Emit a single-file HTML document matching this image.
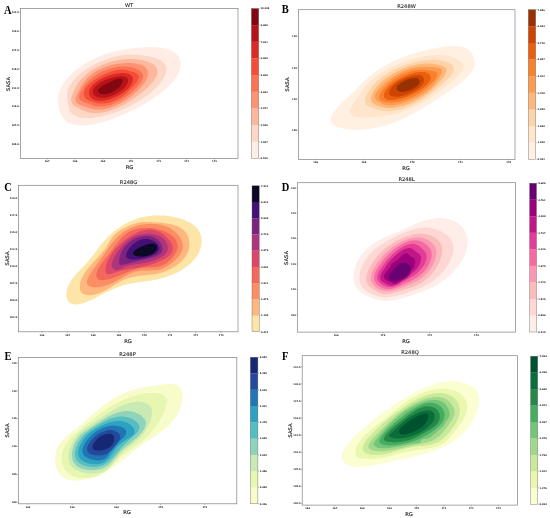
<!DOCTYPE html>
<html lang="en"><head><meta charset="utf-8"><title>SASA vs RG density</title>
<style>html,body{margin:0;padding:0;background:#fff}svg{display:block}text{font-family:"DejaVu Sans","Liberation Sans",sans-serif;fill:#222}.pl{font-family:"Liberation Serif","DejaVu Serif",serif;font-weight:bold;font-size:12.5px;fill:#000}.tt{font-size:5.15px;text-anchor:middle;stroke:#222;stroke-width:0.1px}.al{font-size:5.2px;text-anchor:middle;stroke:#222;stroke-width:0.16px}.tk{font-size:2.3px;fill:#111;font-weight:bold}.tx{text-anchor:middle}.ty{text-anchor:end}</style></head><body>
<svg width="550" height="518" viewBox="0 0 550 518">
<rect width="550" height="518" fill="#fff"/>
<g>
<path d="M61.6 86.5L62.3 85.2L63.0 84.0L63.8 82.8L64.6 81.7L65.4 80.6L66.2 79.5L67.1 78.5L67.9 77.5L68.8 76.5L69.7 75.6L70.6 74.7L71.4 73.8L72.3 73.0L73.2 72.2L74.1 71.4L75.0 70.7L75.8 70.0L76.7 69.3L77.6 68.7L78.4 68.0L79.3 67.4L80.1 66.8L80.9 66.2L81.8 65.7L82.6 65.2L83.4 64.6L84.2 64.1L85.0 63.6L85.8 63.2L86.6 62.7L87.4 62.3L88.2 61.8L88.9 61.4L89.7 61.0L90.5 60.6L91.3 60.2L92.0 59.8L92.8 59.4L93.6 59.1L94.3 58.7L95.1 58.3L95.9 58.0L96.6 57.7L97.4 57.3L98.2 57.0L98.9 56.7L99.7 56.4L100.5 56.0L101.3 55.7L102.1 55.4L102.9 55.1L103.7 54.8L104.5 54.5L105.3 54.3L106.1 54.0L106.9 53.7L107.8 53.4L108.6 53.2L109.5 52.9L110.4 52.6L111.3 52.4L112.2 52.2L113.1 51.9L114.0 51.6L115.0 51.4L116.0 51.2L117.0 50.9L118.0 50.7L119.0 50.5L120.1 50.3L121.2 50.0L122.3 49.8L123.4 49.6L124.6 49.4L125.8 49.2L127.1 49.0L128.3 48.8L129.7 48.6L131.0 48.5L132.4 48.3L133.9 48.1L135.4 48.0L137.0 47.8L138.6 47.7L140.3 47.5L142.0 47.4L143.8 47.3L145.7 47.2L147.7 47.2L149.7 47.1L151.8 47.1L154.0 47.2L156.3 47.3L158.6 47.5L160.9 47.7L163.2 48.1L165.5 48.6L167.7 49.2L169.9 50.0L171.9 50.9L173.8 52.0L175.5 53.3L177.0 54.7L178.2 56.3L179.2 58.0L180.0 59.8L180.4 61.7L180.7 63.6L180.6 65.7L180.3 67.7L179.8 69.8L179.0 71.9L178.1 73.9L177.0 75.9L175.8 77.9L174.4 79.7L173.0 81.6L171.5 83.3L170.0 84.9L168.4 86.5L166.9 88.0L165.3 89.4L163.7 90.7L162.2 91.9L160.7 93.1L159.3 94.2L157.8 95.3L156.4 96.3L155.1 97.2L153.8 98.1L152.5 99.0L151.3 99.8L150.0 100.5L148.9 101.3L147.7 101.9L146.6 102.6L145.6 103.3L144.5 103.9L143.5 104.5L142.5 105.0L141.5 105.5L140.6 106.1L139.6 106.6L138.7 107.1L137.8 107.5L137.0 108.0L136.1 108.4L135.3 108.9L134.4 109.3L133.6 109.7L132.8 110.1L132.0 110.5L131.2 110.9L130.5 111.3L129.7 111.6L128.9 112.0L128.2 112.4L127.4 112.7L126.7 113.0L125.9 113.4L125.2 113.7L124.4 114.1L123.7 114.4L122.9 114.7L122.2 115.0L121.5 115.3L120.7 115.6L120.0 116.0L119.2 116.3L118.5 116.6L117.7 116.9L116.9 117.2L116.1 117.5L115.3 117.8L114.6 118.1L113.7 118.4L112.9 118.7L112.1 119.0L111.2 119.3L110.4 119.6L109.5 120.0L108.6 120.3L107.7 120.5L106.8 120.9L105.8 121.2L104.8 121.5L103.8 121.8L102.8 122.1L101.8 122.4L100.7 122.7L99.6 123.0L98.4 123.2L97.3 123.5L96.1 123.8L94.8 124.1L93.5 124.3L92.2 124.5L90.9 124.8L89.5 125.0L88.1 125.1L86.6 125.3L85.1 125.4L83.6 125.5L82.0 125.5L80.5 125.5L78.9 125.4L77.3 125.3L75.7 125.0L74.1 124.7L72.6 124.3L71.0 123.8L69.6 123.2L68.2 122.5L66.9 121.7L65.7 120.7L64.7 119.7L63.7 118.6L62.8 117.4L62.0 116.1L61.3 114.8L60.7 113.4L60.2 112.1L59.7 110.6L59.3 109.2L59.0 107.8L58.7 106.3L58.4 104.9L58.3 103.4L58.1 102.0L58.1 100.5L58.2 99.0L58.3 97.6L58.5 96.1L58.7 94.7L59.0 93.2L59.4 91.8L59.9 90.5L60.4 89.1L61.0 87.8Z" fill="#ffece4"/>
<path d="M69.3 86.5L69.9 85.4L70.5 84.4L71.1 83.4L71.8 82.4L72.5 81.5L73.2 80.6L74.0 79.7L74.7 78.9L75.5 78.1L76.2 77.3L77.0 76.6L77.7 75.9L78.5 75.2L79.2 74.5L80.0 73.9L80.7 73.3L81.5 72.7L82.2 72.1L82.9 71.6L83.6 71.0L84.4 70.5L85.1 70.0L85.7 69.5L86.5 69.1L87.1 68.6L87.8 68.2L88.5 67.8L89.2 67.4L89.8 67.0L90.5 66.6L91.1 66.2L91.8 65.8L92.4 65.5L93.1 65.1L93.7 64.8L94.4 64.4L95.0 64.1L95.6 63.8L96.3 63.5L96.9 63.2L97.6 62.9L98.2 62.6L98.8 62.3L99.5 62.0L100.1 61.7L100.8 61.4L101.4 61.2L102.1 60.9L102.7 60.6L103.4 60.4L104.1 60.1L104.7 59.9L105.4 59.6L106.1 59.4L106.8 59.1L107.5 58.9L108.2 58.6L108.9 58.4L109.6 58.2L110.4 57.9L111.1 57.7L111.9 57.5L112.7 57.3L113.5 57.1L114.3 56.9L115.1 56.7L115.9 56.5L116.8 56.3L117.7 56.1L118.6 55.9L119.5 55.8L120.4 55.6L121.4 55.5L122.4 55.3L123.4 55.2L124.4 55.1L125.4 54.9L126.5 54.8L127.6 54.8L128.7 54.7L129.9 54.7L131.1 54.6L132.3 54.6L133.5 54.6L134.8 54.7L136.1 54.7L137.4 54.8L138.8 54.9L140.2 55.1L141.6 55.2L143.1 55.4L144.6 55.7L146.2 55.9L147.8 56.2L149.4 56.5L151.1 56.9L152.8 57.3L154.5 57.8L156.2 58.4L157.9 59.0L159.6 59.8L161.1 60.6L162.5 61.6L163.7 62.7L164.7 64.0L165.5 65.3L166.0 66.8L166.3 68.3L166.3 69.9L166.1 71.5L165.7 73.2L165.2 74.8L164.4 76.5L163.6 78.1L162.7 79.6L161.7 81.1L160.6 82.5L159.5 83.9L158.3 85.2L157.2 86.5L156.0 87.7L154.9 88.8L153.7 89.9L152.6 90.9L151.5 91.9L150.4 92.8L149.3 93.7L148.2 94.5L147.2 95.3L146.2 96.1L145.2 96.8L144.2 97.5L143.3 98.1L142.4 98.8L141.5 99.3L140.6 99.9L139.7 100.5L138.9 101.0L138.1 101.5L137.3 102.0L136.5 102.5L135.7 102.9L134.9 103.4L134.2 103.8L133.5 104.2L132.7 104.6L132.0 104.9L131.3 105.3L130.6 105.7L129.9 106.0L129.3 106.4L128.6 106.7L127.9 107.0L127.3 107.4L126.6 107.6L126.0 108.0L125.4 108.3L124.7 108.6L124.1 108.8L123.4 109.1L122.8 109.4L122.2 109.7L121.6 109.9L120.9 110.2L120.3 110.5L119.7 110.7L119.1 111.0L118.4 111.2L117.8 111.5L117.1 111.7L116.5 111.9L115.8 112.2L115.2 112.4L114.5 112.7L113.9 112.9L113.2 113.1L112.5 113.3L111.8 113.6L111.1 113.8L110.4 114.0L109.7 114.3L108.9 114.5L108.2 114.7L107.4 114.9L106.6 115.1L105.8 115.3L105.0 115.6L104.2 115.8L103.3 116.0L102.4 116.2L101.5 116.4L100.6 116.6L99.7 116.8L98.7 116.9L97.7 117.1L96.7 117.3L95.6 117.4L94.5 117.6L93.4 117.7L92.3 117.9L91.1 117.9L89.9 118.0L88.7 118.1L87.4 118.1L86.1 118.1L84.8 118.1L83.5 118.0L82.2 117.8L80.8 117.6L79.5 117.4L78.2 117.0L76.9 116.6L75.7 116.1L74.5 115.5L73.4 114.8L72.4 114.0L71.6 113.2L70.8 112.2L70.1 111.2L69.6 110.0L69.1 108.9L68.8 107.7L68.5 106.5L68.2 105.3L68.0 104.0L67.8 102.8L67.6 101.6L67.4 100.4L67.3 99.2L67.2 98.1L67.1 96.9L67.0 95.7L67.1 94.5L67.2 93.3L67.4 92.1L67.6 91.0L67.9 89.8L68.3 88.7L68.8 87.6Z" fill="#fdd7c6"/>
<path d="M76.1 86.5L76.6 85.6L77.1 84.7L77.7 83.9L78.2 83.1L78.8 82.3L79.4 81.6L79.9 80.8L80.5 80.1L81.1 79.5L81.7 78.8L82.3 78.2L82.9 77.5L83.5 77.0L84.1 76.4L84.7 75.8L85.3 75.3L85.9 74.8L86.5 74.3L87.0 73.8L87.6 73.3L88.2 72.9L88.8 72.5L89.4 72.0L90.0 71.6L90.5 71.2L91.1 70.8L91.7 70.5L92.2 70.1L92.8 69.8L93.3 69.4L93.9 69.1L94.4 68.8L95.0 68.4L95.5 68.1L96.1 67.8L96.6 67.5L97.2 67.2L97.7 67.0L98.3 66.7L98.8 66.4L99.3 66.2L99.9 65.9L100.5 65.7L101.0 65.4L101.5 65.1L102.1 64.9L102.7 64.7L103.2 64.4L103.8 64.2L104.4 64.0L104.9 63.8L105.5 63.5L106.1 63.3L106.7 63.1L107.3 62.9L107.9 62.7L108.5 62.5L109.1 62.3L109.7 62.1L110.4 61.9L111.0 61.7L111.7 61.6L112.4 61.4L113.0 61.2L113.7 61.0L114.4 60.9L115.2 60.7L115.9 60.5L116.7 60.4L117.4 60.2L118.2 60.1L119.0 59.9L119.8 59.8L120.7 59.7L121.5 59.6L122.4 59.5L123.3 59.4L124.2 59.3L125.2 59.2L126.2 59.1L127.2 59.1L128.2 59.0L129.3 59.0L130.4 59.0L131.5 59.0L132.6 59.0L133.8 59.1L135.0 59.2L136.2 59.3L137.5 59.4L138.7 59.6L140.1 59.8L141.4 60.0L142.7 60.3L144.1 60.6L145.5 61.0L146.9 61.4L148.3 61.9L149.7 62.4L151.0 63.0L152.3 63.7L153.5 64.5L154.6 65.4L155.6 66.4L156.4 67.4L157.0 68.6L157.3 69.9L157.5 71.2L157.5 72.5L157.2 73.9L156.8 75.3L156.2 76.8L155.4 78.1L154.6 79.5L153.7 80.8L152.7 82.0L151.7 83.2L150.6 84.4L149.6 85.5L148.6 86.5L147.6 87.5L146.6 88.4L145.6 89.3L144.7 90.1L143.7 90.9L142.8 91.6L142.0 92.3L141.1 93.0L140.3 93.7L139.5 94.3L138.7 94.9L138.0 95.4L137.2 96.0L136.5 96.5L135.8 97.0L135.1 97.5L134.5 98.0L133.8 98.4L133.2 98.9L132.6 99.3L131.9 99.7L131.4 100.1L130.8 100.5L130.2 100.8L129.6 101.2L129.0 101.6L128.5 101.9L127.9 102.3L127.4 102.6L126.8 102.9L126.3 103.2L125.7 103.5L125.2 103.8L124.7 104.1L124.2 104.4L123.6 104.7L123.1 105.0L122.6 105.3L122.1 105.5L121.5 105.8L121.0 106.1L120.5 106.3L120.0 106.6L119.4 106.8L118.9 107.1L118.4 107.4L117.9 107.6L117.3 107.8L116.8 108.1L116.2 108.3L115.7 108.5L115.1 108.8L114.6 109.0L114.0 109.2L113.4 109.4L112.8 109.6L112.2 109.9L111.6 110.1L111.0 110.3L110.4 110.5L109.8 110.7L109.1 110.9L108.4 111.1L107.8 111.3L107.1 111.5L106.4 111.7L105.7 111.8L105.0 112.0L104.2 112.2L103.5 112.3L102.7 112.5L101.9 112.6L101.1 112.7L100.3 112.8L99.4 112.9L98.6 113.0L97.7 113.0L96.8 113.1L95.9 113.1L95.0 113.1L94.1 113.0L93.2 113.0L92.2 112.9L91.3 112.8L90.3 112.6L89.4 112.4L88.4 112.2L87.5 111.9L86.5 111.6L85.6 111.3L84.6 110.9L83.7 110.5L82.7 110.1L81.7 109.7L80.7 109.2L79.7 108.8L78.7 108.3L77.6 107.8L76.5 107.2L75.5 106.6L74.5 106.0L73.6 105.2L72.8 104.4L72.1 103.5L71.6 102.5L71.3 101.5L71.2 100.4L71.2 99.2L71.3 98.0L71.6 96.9L71.9 95.7L72.3 94.6L72.7 93.5L73.2 92.4L73.7 91.3L74.1 90.3L74.6 89.3L75.1 88.3L75.6 87.4Z" fill="#fcb79c"/>
<path d="M81.2 86.5L81.7 85.7L82.1 85.0L82.5 84.3L83.0 83.6L83.4 82.9L83.9 82.3L84.4 81.7L84.8 81.0L85.3 80.5L85.8 79.9L86.3 79.3L86.8 78.8L87.3 78.3L87.7 77.8L88.2 77.3L88.7 76.8L89.2 76.4L89.7 76.0L90.2 75.5L90.7 75.1L91.2 74.7L91.7 74.4L92.2 74.0L92.7 73.6L93.2 73.3L93.7 72.9L94.2 72.6L94.6 72.3L95.1 72.0L95.6 71.7L96.1 71.4L96.6 71.1L97.0 70.8L97.5 70.6L98.0 70.3L98.5 70.1L98.9 69.8L99.4 69.6L99.9 69.3L100.4 69.1L100.8 68.9L101.3 68.7L101.8 68.4L102.3 68.2L102.7 68.0L103.2 67.8L103.7 67.6L104.2 67.4L104.7 67.2L105.2 67.0L105.7 66.9L106.2 66.7L106.7 66.5L107.2 66.3L107.7 66.1L108.2 66.0L108.8 65.8L109.3 65.7L109.8 65.5L110.4 65.3L110.9 65.2L111.5 65.0L112.1 64.9L112.7 64.7L113.3 64.6L113.9 64.5L114.5 64.3L115.1 64.2L115.8 64.1L116.4 64.0L117.1 63.9L117.8 63.8L118.5 63.7L119.2 63.6L119.9 63.5L120.7 63.4L121.4 63.3L122.2 63.2L123.0 63.2L123.9 63.1L124.7 63.1L125.6 63.1L126.5 63.0L127.4 63.0L128.4 63.0L129.4 63.0L130.4 63.1L131.4 63.1L132.5 63.2L133.6 63.3L134.7 63.4L135.9 63.5L137.0 63.7L138.2 64.0L139.4 64.2L140.5 64.6L141.6 65.0L142.7 65.5L143.7 66.0L144.7 66.7L145.5 67.4L146.3 68.2L146.9 69.0L147.4 70.0L147.8 71.0L148.0 72.0L148.1 73.1L148.1 74.2L147.9 75.4L147.6 76.5L147.2 77.6L146.7 78.8L146.2 79.8L145.6 80.9L144.9 81.9L144.3 82.9L143.6 83.9L142.9 84.8L142.2 85.6L141.4 86.5L140.7 87.3L140.1 88.0L139.4 88.8L138.7 89.5L138.0 90.1L137.4 90.8L136.8 91.4L136.1 92.0L135.5 92.5L134.9 93.1L134.3 93.6L133.8 94.1L133.2 94.6L132.6 95.0L132.1 95.5L131.5 95.9L131.0 96.3L130.5 96.7L130.0 97.1L129.5 97.5L129.0 97.9L128.5 98.2L128.0 98.6L127.5 98.9L127.0 99.3L126.6 99.6L126.1 99.9L125.6 100.2L125.2 100.5L124.7 100.8L124.2 101.1L123.8 101.4L123.3 101.6L122.9 101.9L122.4 102.2L122.0 102.4L121.5 102.7L121.1 102.9L120.6 103.2L120.2 103.4L119.7 103.7L119.3 103.9L118.8 104.1L118.3 104.3L117.9 104.6L117.4 104.8L116.9 105.0L116.5 105.2L116.0 105.4L115.5 105.7L115.0 105.9L114.5 106.0L114.0 106.3L113.5 106.5L113.0 106.6L112.5 106.8L112.0 107.0L111.5 107.2L110.9 107.4L110.4 107.6L109.8 107.8L109.3 107.9L108.7 108.1L108.1 108.3L107.5 108.4L106.9 108.6L106.3 108.7L105.6 108.8L105.0 109.0L104.3 109.1L103.7 109.2L103.0 109.3L102.3 109.4L101.6 109.5L100.8 109.5L100.1 109.6L99.3 109.6L98.6 109.7L97.8 109.6L97.0 109.6L96.2 109.6L95.4 109.5L94.6 109.4L93.8 109.3L93.0 109.1L92.2 109.0L91.3 108.8L90.5 108.5L89.7 108.3L88.8 108.0L88.0 107.7L87.1 107.4L86.2 107.1L85.3 106.8L84.4 106.4L83.4 106.1L82.4 105.7L81.3 105.4L80.3 104.9L79.2 104.5L78.2 103.9L77.4 103.3L76.6 102.6L76.1 101.8L75.7 100.9L75.5 99.9L75.5 98.8L75.7 97.7L76.0 96.7L76.4 95.6L76.9 94.5L77.4 93.5L77.9 92.5L78.4 91.5L78.9 90.6L79.4 89.7L79.9 88.9L80.3 88.1L80.8 87.3Z" fill="#fc9474"/>
<path d="M84.0 86.5L84.5 85.8L85.0 85.1L85.5 84.5L86.0 83.9L86.4 83.3L86.9 82.8L87.4 82.2L87.9 81.7L88.4 81.2L88.9 80.7L89.4 80.3L89.9 79.8L90.3 79.4L90.8 79.0L91.3 78.6L91.8 78.2L92.2 77.8L92.7 77.5L93.1 77.1L93.6 76.8L94.0 76.4L94.5 76.1L94.9 75.8L95.3 75.5L95.8 75.3L96.2 75.0L96.6 74.7L97.0 74.5L97.4 74.2L97.9 73.9L98.3 73.7L98.7 73.5L99.1 73.2L99.5 73.0L99.9 72.8L100.3 72.6L100.7 72.4L101.1 72.2L101.5 72.0L101.9 71.8L102.3 71.6L102.7 71.4L103.1 71.3L103.5 71.1L103.9 70.9L104.3 70.7L104.7 70.6L105.2 70.4L105.6 70.2L106.0 70.0L106.4 69.9L106.8 69.7L107.3 69.6L107.7 69.4L108.1 69.3L108.6 69.1L109.0 69.0L109.5 68.8L109.9 68.7L110.4 68.6L110.9 68.4L111.3 68.3L111.8 68.2L112.3 68.0L112.8 67.9L113.3 67.8L113.9 67.7L114.4 67.5L115.0 67.4L115.5 67.3L116.1 67.2L116.7 67.1L117.3 67.0L117.9 66.9L118.5 66.9L119.2 66.8L119.8 66.7L120.5 66.6L121.2 66.6L121.9 66.6L122.6 66.5L123.4 66.5L124.1 66.5L124.9 66.5L125.7 66.5L126.5 66.6L127.3 66.6L128.2 66.7L129.0 66.8L129.9 67.0L130.8 67.1L131.7 67.3L132.6 67.5L133.5 67.8L134.4 68.1L135.3 68.4L136.2 68.7L137.1 69.1L138.0 69.6L138.9 70.0L139.7 70.6L140.5 71.2L141.2 71.8L141.8 72.5L142.3 73.3L142.7 74.1L142.9 75.0L143.0 75.9L143.0 76.8L142.8 77.8L142.5 78.8L142.2 79.7L141.7 80.7L141.2 81.6L140.6 82.5L140.0 83.4L139.4 84.2L138.8 85.0L138.2 85.8L137.5 86.5L136.9 87.2L136.3 87.8L135.7 88.5L135.1 89.1L134.5 89.7L133.9 90.2L133.4 90.7L132.8 91.2L132.3 91.7L131.7 92.2L131.2 92.7L130.7 93.1L130.2 93.5L129.7 93.9L129.3 94.3L128.8 94.7L128.3 95.0L127.9 95.4L127.4 95.7L127.0 96.1L126.6 96.4L126.1 96.7L125.7 97.0L125.3 97.3L124.9 97.6L124.5 97.9L124.0 98.1L123.6 98.4L123.2 98.7L122.8 98.9L122.4 99.2L122.0 99.4L121.7 99.7L121.3 99.9L120.9 100.1L120.5 100.4L120.1 100.6L119.7 100.8L119.3 101.0L118.9 101.2L118.5 101.4L118.1 101.6L117.7 101.8L117.3 102.0L116.9 102.2L116.5 102.4L116.1 102.6L115.7 102.8L115.3 103.0L114.9 103.2L114.4 103.4L114.0 103.5L113.6 103.7L113.1 103.9L112.7 104.1L112.2 104.2L111.8 104.4L111.3 104.6L110.9 104.7L110.4 104.9L109.9 105.0L109.4 105.2L108.9 105.3L108.4 105.4L107.9 105.6L107.3 105.7L106.8 105.8L106.2 105.9L105.7 106.1L105.1 106.2L104.5 106.3L103.9 106.3L103.3 106.4L102.7 106.5L102.1 106.5L101.4 106.6L100.8 106.6L100.1 106.6L99.5 106.6L98.8 106.5L98.1 106.5L97.4 106.4L96.7 106.3L96.1 106.2L95.4 106.1L94.7 105.9L94.0 105.7L93.3 105.5L92.6 105.2L91.9 105.0L91.2 104.7L90.5 104.4L89.7 104.1L88.9 103.8L88.1 103.5L87.3 103.3L86.4 103.0L85.5 102.7L84.5 102.3L83.6 102.0L82.6 101.6L81.7 101.1L80.9 100.5L80.2 99.9L79.7 99.2L79.3 98.4L79.1 97.6L79.1 96.6L79.2 95.7L79.4 94.8L79.7 93.8L80.1 92.9L80.5 92.0L81.0 91.1L81.5 90.3L82.0 89.5L82.5 88.7L83.0 87.9L83.5 87.2Z" fill="#fb7252"/>
<path d="M86.9 86.5L87.4 85.9L87.9 85.3L88.5 84.8L89.0 84.2L89.5 83.7L90.1 83.3L90.6 82.8L91.1 82.4L91.6 82.0L92.1 81.6L92.6 81.2L93.1 80.9L93.6 80.5L94.1 80.2L94.5 79.9L95.0 79.6L95.4 79.3L95.8 79.1L96.2 78.8L96.6 78.5L97.1 78.3L97.4 78.1L97.8 77.8L98.2 77.6L98.6 77.4L98.9 77.2L99.3 77.0L99.7 76.8L100.0 76.6L100.3 76.4L100.7 76.3L101.0 76.1L101.4 75.9L101.7 75.7L102.0 75.6L102.3 75.4L102.7 75.2L103.0 75.1L103.3 74.9L103.6 74.8L103.9 74.6L104.3 74.5L104.6 74.3L104.9 74.2L105.2 74.0L105.6 73.9L105.9 73.8L106.2 73.6L106.5 73.5L106.9 73.3L107.2 73.2L107.5 73.0L107.9 72.9L108.2 72.8L108.6 72.6L108.9 72.5L109.3 72.3L109.6 72.2L110.0 72.1L110.4 71.9L110.8 71.8L111.2 71.7L111.6 71.5L112.0 71.4L112.4 71.3L112.8 71.1L113.3 71.0L113.7 70.9L114.2 70.7L114.6 70.6L115.1 70.5L115.6 70.4L116.1 70.3L116.6 70.2L117.2 70.1L117.7 70.0L118.3 69.9L118.9 69.8L119.5 69.7L120.1 69.7L120.7 69.6L121.3 69.6L122.0 69.6L122.6 69.6L123.3 69.7L123.9 69.7L124.6 69.8L125.3 69.9L126.0 70.1L126.6 70.2L127.3 70.4L128.0 70.6L128.7 70.8L129.4 71.0L130.2 71.3L131.0 71.5L131.8 71.8L132.7 72.0L133.6 72.3L134.5 72.6L135.4 72.9L136.2 73.3L137.0 73.8L137.7 74.3L138.2 74.9L138.6 75.6L138.8 76.4L138.8 77.2L138.7 78.1L138.4 79.0L138.0 79.8L137.5 80.7L137.0 81.5L136.4 82.4L135.8 83.1L135.2 83.9L134.6 84.6L134.1 85.2L133.5 85.9L133.0 86.5L132.4 87.1L131.9 87.6L131.5 88.1L131.0 88.6L130.5 89.1L130.1 89.6L129.6 90.0L129.2 90.5L128.8 90.9L128.4 91.3L128.0 91.7L127.6 92.1L127.2 92.4L126.8 92.8L126.4 93.1L126.1 93.5L125.7 93.8L125.3 94.1L125.0 94.4L124.6 94.7L124.2 95.0L123.9 95.2L123.5 95.5L123.2 95.8L122.8 96.0L122.5 96.3L122.1 96.5L121.8 96.8L121.5 97.0L121.1 97.2L120.8 97.4L120.4 97.7L120.1 97.9L119.8 98.1L119.4 98.3L119.1 98.5L118.8 98.7L118.4 98.9L118.1 99.0L117.7 99.2L117.4 99.4L117.1 99.6L116.7 99.8L116.4 99.9L116.0 100.1L115.7 100.3L115.3 100.4L115.0 100.6L114.6 100.7L114.2 100.9L113.9 101.0L113.5 101.2L113.1 101.3L112.8 101.5L112.4 101.6L112.0 101.7L111.6 101.9L111.2 102.0L110.8 102.2L110.4 102.3L110.0 102.4L109.5 102.5L109.1 102.6L108.7 102.7L108.2 102.8L107.8 102.9L107.3 103.0L106.8 103.1L106.4 103.2L105.9 103.3L105.4 103.4L104.9 103.4L104.4 103.5L103.8 103.5L103.3 103.6L102.8 103.6L102.2 103.6L101.7 103.6L101.1 103.6L100.5 103.6L99.9 103.5L99.3 103.5L98.7 103.4L98.1 103.3L97.5 103.2L96.9 103.1L96.3 103.0L95.7 102.8L95.0 102.7L94.4 102.5L93.7 102.3L93.1 102.1L92.4 101.8L91.7 101.6L91.0 101.3L90.3 101.1L89.6 100.8L88.9 100.5L88.1 100.1L87.4 99.7L86.8 99.3L86.2 98.8L85.6 98.3L85.1 97.7L84.7 97.1L84.4 96.5L84.1 95.8L83.9 95.1L83.8 94.3L83.8 93.6L83.9 92.8L84.0 92.1L84.2 91.3L84.4 90.6L84.7 89.9L85.1 89.1L85.5 88.4L85.9 87.8L86.4 87.1Z" fill="#f44d38"/>
<path d="M91.5 86.5L91.9 86.0L92.3 85.5L92.7 85.1L93.1 84.7L93.6 84.3L94.0 83.9L94.4 83.5L94.8 83.2L95.2 82.8L95.6 82.5L96.0 82.2L96.4 81.9L96.8 81.7L97.1 81.4L97.5 81.1L97.9 80.9L98.2 80.7L98.5 80.4L98.9 80.2L99.2 80.0L99.5 79.8L99.9 79.7L100.2 79.5L100.5 79.3L100.8 79.1L101.1 79.0L101.4 78.8L101.7 78.6L102.0 78.5L102.2 78.3L102.5 78.2L102.8 78.1L103.1 77.9L103.4 77.8L103.6 77.7L103.9 77.5L104.2 77.4L104.4 77.3L104.7 77.2L105.0 77.1L105.2 77.0L105.5 76.8L105.7 76.7L106.0 76.6L106.3 76.5L106.5 76.4L106.8 76.3L107.0 76.2L107.3 76.1L107.6 76.0L107.8 75.9L108.1 75.8L108.4 75.7L108.7 75.6L108.9 75.5L109.2 75.4L109.5 75.3L109.8 75.3L110.1 75.2L110.4 75.1L110.7 75.0L111.0 74.9L111.3 74.8L111.6 74.7L111.9 74.6L112.3 74.5L112.6 74.4L113.0 74.3L113.3 74.3L113.7 74.2L114.1 74.1L114.4 74.0L114.8 73.9L115.2 73.8L115.7 73.8L116.1 73.7L116.5 73.6L117.0 73.5L117.5 73.5L117.9 73.4L118.4 73.3L119.0 73.3L119.5 73.2L120.0 73.2L120.6 73.1L121.2 73.1L121.8 73.1L122.4 73.1L123.1 73.1L123.7 73.1L124.4 73.2L125.1 73.2L125.8 73.3L126.5 73.5L127.2 73.6L127.9 73.8L128.5 74.0L129.2 74.3L129.8 74.6L130.4 74.9L130.9 75.3L131.4 75.8L131.8 76.2L132.2 76.8L132.5 77.3L132.7 77.9L132.8 78.5L132.9 79.2L132.9 79.8L132.8 80.5L132.7 81.1L132.5 81.8L132.3 82.4L132.0 83.1L131.7 83.7L131.4 84.3L131.0 84.9L130.7 85.4L130.3 86.0L129.9 86.5L129.5 87.0L129.0 87.5L128.6 87.9L128.2 88.4L127.8 88.8L127.4 89.2L127.0 89.6L126.6 89.9L126.2 90.3L125.8 90.6L125.4 90.9L125.0 91.2L124.6 91.5L124.3 91.8L123.9 92.1L123.6 92.3L123.2 92.6L122.9 92.8L122.5 93.1L122.2 93.3L121.9 93.5L121.5 93.7L121.2 93.9L120.9 94.1L120.6 94.3L120.3 94.5L120.0 94.7L119.7 94.9L119.4 95.0L119.1 95.2L118.8 95.4L118.5 95.5L118.2 95.7L118.0 95.8L117.7 96.0L117.4 96.1L117.1 96.3L116.8 96.4L116.5 96.5L116.3 96.7L116.0 96.8L115.7 96.9L115.4 97.1L115.2 97.2L114.9 97.3L114.6 97.4L114.3 97.6L114.0 97.7L113.7 97.8L113.5 97.9L113.2 98.0L112.9 98.2L112.6 98.3L112.3 98.4L112.0 98.5L111.7 98.6L111.3 98.7L111.0 98.8L110.7 98.9L110.4 99.0L110.1 99.2L109.7 99.3L109.4 99.4L109.0 99.5L108.7 99.6L108.3 99.7L107.9 99.8L107.5 99.9L107.1 100.0L106.7 100.1L106.3 100.2L105.9 100.3L105.5 100.3L105.0 100.4L104.6 100.5L104.1 100.6L103.6 100.6L103.1 100.7L102.6 100.8L102.1 100.8L101.6 100.8L101.0 100.9L100.5 100.9L99.9 100.9L99.3 100.9L98.8 100.8L98.2 100.8L97.6 100.7L97.0 100.6L96.4 100.5L95.8 100.4L95.2 100.2L94.6 100.0L94.0 99.7L93.5 99.5L92.9 99.2L92.4 98.8L91.9 98.5L91.5 98.1L91.1 97.6L90.7 97.2L90.3 96.7L90.0 96.2L89.7 95.7L89.5 95.1L89.2 94.6L89.1 94.0L89.0 93.4L88.9 92.8L88.9 92.2L89.0 91.6L89.1 91.0L89.3 90.4L89.5 89.8L89.7 89.2L90.0 88.6L90.4 88.1L90.7 87.5L91.1 87.0Z" fill="#dc2924"/>
<path d="M95.4 86.5L95.7 86.1L96.1 85.7L96.5 85.4L96.9 85.1L97.2 84.8L97.6 84.5L98.0 84.2L98.3 83.9L98.7 83.7L99.0 83.4L99.3 83.2L99.7 83.0L100.0 82.8L100.3 82.6L100.6 82.4L100.9 82.3L101.2 82.1L101.4 81.9L101.7 81.8L102.0 81.6L102.2 81.5L102.5 81.4L102.7 81.2L103.0 81.1L103.2 81.0L103.5 80.9L103.7 80.8L103.9 80.7L104.1 80.5L104.3 80.4L104.6 80.3L104.8 80.3L105.0 80.2L105.2 80.1L105.4 80.0L105.6 79.9L105.8 79.8L106.0 79.7L106.2 79.6L106.4 79.6L106.6 79.5L106.8 79.4L107.0 79.3L107.2 79.3L107.4 79.2L107.6 79.1L107.8 79.0L107.9 79.0L108.1 78.9L108.3 78.8L108.5 78.8L108.7 78.7L108.9 78.6L109.1 78.6L109.3 78.5L109.5 78.4L109.7 78.4L110.0 78.3L110.2 78.2L110.4 78.1L110.6 78.1L110.8 78.0L111.1 77.9L111.3 77.9L111.5 77.8L111.8 77.7L112.0 77.7L112.3 77.6L112.5 77.5L112.8 77.5L113.1 77.4L113.4 77.3L113.7 77.3L114.0 77.2L114.3 77.1L114.6 77.0L114.9 77.0L115.3 76.9L115.6 76.8L116.0 76.8L116.4 76.7L116.8 76.6L117.2 76.5L117.7 76.5L118.1 76.4L118.6 76.4L119.1 76.3L119.6 76.3L120.1 76.2L120.7 76.2L121.2 76.2L121.8 76.2L122.4 76.2L123.0 76.3L123.6 76.4L124.2 76.5L124.7 76.6L125.3 76.8L125.8 77.0L126.3 77.3L126.7 77.6L127.1 78.0L127.4 78.3L127.7 78.8L127.9 79.2L128.0 79.7L128.1 80.2L128.1 80.7L128.1 81.2L128.0 81.8L127.8 82.3L127.7 82.8L127.5 83.3L127.2 83.8L127.0 84.3L126.7 84.8L126.4 85.2L126.1 85.7L125.8 86.1L125.5 86.5L125.1 86.9L124.8 87.2L124.5 87.6L124.2 87.9L123.8 88.3L123.5 88.6L123.2 88.9L122.9 89.1L122.6 89.4L122.3 89.7L122.0 89.9L121.7 90.2L121.4 90.4L121.1 90.6L120.8 90.8L120.6 91.0L120.3 91.2L120.0 91.4L119.8 91.6L119.5 91.8L119.3 91.9L119.0 92.1L118.8 92.2L118.5 92.4L118.3 92.6L118.1 92.7L117.8 92.8L117.6 93.0L117.4 93.1L117.1 93.2L116.9 93.4L116.7 93.5L116.5 93.6L116.3 93.7L116.0 93.8L115.8 94.0L115.6 94.1L115.4 94.2L115.2 94.3L115.0 94.4L114.7 94.5L114.5 94.6L114.3 94.7L114.1 94.8L113.9 94.9L113.7 95.0L113.4 95.1L113.2 95.2L113.0 95.3L112.8 95.4L112.5 95.5L112.3 95.6L112.1 95.7L111.9 95.7L111.6 95.8L111.4 95.9L111.1 96.0L110.9 96.1L110.6 96.2L110.4 96.3L110.1 96.4L109.9 96.4L109.6 96.5L109.3 96.6L109.0 96.7L108.8 96.8L108.5 96.9L108.2 96.9L107.9 97.0L107.5 97.1L107.2 97.2L106.9 97.2L106.6 97.3L106.2 97.4L105.8 97.4L105.5 97.5L105.1 97.6L104.7 97.6L104.3 97.7L103.9 97.7L103.5 97.7L103.1 97.8L102.6 97.8L102.2 97.8L101.7 97.8L101.2 97.8L100.8 97.8L100.3 97.7L99.8 97.6L99.3 97.6L98.8 97.5L98.3 97.3L97.8 97.2L97.4 97.0L96.9 96.8L96.4 96.6L96.0 96.4L95.6 96.1L95.2 95.8L94.8 95.5L94.4 95.2L94.1 94.8L93.7 94.4L93.5 94.0L93.2 93.6L93.0 93.1L92.9 92.7L92.8 92.2L92.8 91.7L92.8 91.2L92.9 90.7L93.0 90.2L93.2 89.7L93.4 89.2L93.7 88.7L94.0 88.2L94.3 87.7L94.6 87.3L95.0 86.9Z" fill="#b61319"/>
<path d="M101.6 86.5L101.9 86.3L102.3 86.1L102.6 85.9L102.9 85.7L103.1 85.5L103.4 85.4L103.7 85.2L103.9 85.1L104.2 85.0L104.4 84.9L104.6 84.8L104.8 84.7L105.0 84.6L105.2 84.5L105.4 84.4L105.6 84.3L105.7 84.3L105.9 84.2L106.0 84.1L106.2 84.1L106.3 84.0L106.5 83.9L106.6 83.9L106.7 83.8L106.8 83.8L107.0 83.7L107.1 83.7L107.2 83.6L107.3 83.6L107.4 83.5L107.5 83.5L107.6 83.4L107.7 83.4L107.8 83.3L107.9 83.3L108.0 83.2L108.1 83.2L108.2 83.1L108.3 83.1L108.4 83.0L108.5 83.0L108.6 83.0L108.7 82.9L108.8 82.9L108.9 82.8L109.0 82.8L109.1 82.7L109.1 82.7L109.2 82.6L109.3 82.6L109.4 82.5L109.5 82.5L109.6 82.4L109.7 82.4L109.8 82.3L109.9 82.2L110.0 82.2L110.2 82.1L110.3 82.1L110.4 82.0L110.5 81.9L110.6 81.9L110.8 81.8L110.9 81.7L111.0 81.6L111.2 81.6L111.3 81.5L111.5 81.4L111.6 81.3L111.8 81.2L112.0 81.1L112.2 81.0L112.3 80.9L112.5 80.8L112.8 80.7L113.0 80.6L113.2 80.5L113.5 80.4L113.8 80.3L114.0 80.2L114.3 80.0L114.7 79.9L115.0 79.8L115.4 79.6L115.7 79.5L116.1 79.4L116.6 79.3L117.0 79.1L117.5 79.0L117.9 78.9L118.4 78.8L118.9 78.8L119.4 78.8L119.9 78.7L120.4 78.8L120.9 78.8L121.3 79.0L121.7 79.1L122.1 79.3L122.3 79.6L122.6 79.9L122.7 80.2L122.8 80.6L122.8 81.0L122.8 81.4L122.7 81.8L122.5 82.2L122.4 82.6L122.2 83.0L122.0 83.4L121.8 83.7L121.6 84.1L121.3 84.5L121.1 84.8L120.9 85.1L120.7 85.4L120.4 85.7L120.2 86.0L120.0 86.2L119.8 86.5L119.6 86.7L119.3 86.9L119.1 87.2L118.9 87.4L118.7 87.6L118.5 87.8L118.3 88.0L118.1 88.1L118.0 88.3L117.8 88.5L117.6 88.6L117.4 88.8L117.2 88.9L117.1 89.0L116.9 89.2L116.7 89.3L116.6 89.4L116.4 89.6L116.3 89.7L116.1 89.8L116.0 89.9L115.8 90.0L115.6 90.1L115.5 90.2L115.4 90.3L115.2 90.4L115.1 90.5L114.9 90.6L114.8 90.7L114.7 90.7L114.5 90.8L114.4 90.9L114.2 91.0L114.1 91.1L114.0 91.1L113.8 91.2L113.7 91.3L113.6 91.4L113.4 91.5L113.3 91.5L113.2 91.6L113.0 91.7L112.9 91.7L112.8 91.8L112.6 91.9L112.5 91.9L112.3 92.0L112.2 92.1L112.1 92.1L111.9 92.2L111.8 92.3L111.6 92.3L111.5 92.4L111.3 92.5L111.2 92.5L111.0 92.6L110.9 92.7L110.7 92.7L110.5 92.8L110.4 92.9L110.2 92.9L110.0 93.0L109.9 93.0L109.7 93.1L109.5 93.2L109.3 93.2L109.1 93.3L108.9 93.3L108.7 93.4L108.5 93.5L108.3 93.5L108.1 93.6L107.8 93.7L107.6 93.7L107.4 93.8L107.1 93.8L106.9 93.9L106.6 93.9L106.3 94.0L106.0 94.0L105.7 94.1L105.4 94.1L105.1 94.1L104.8 94.2L104.5 94.2L104.1 94.2L103.8 94.2L103.4 94.2L103.1 94.2L102.7 94.2L102.3 94.1L102.0 94.1L101.6 94.0L101.2 93.9L100.9 93.8L100.5 93.7L100.1 93.5L99.8 93.4L99.5 93.2L99.2 93.0L98.9 92.7L98.7 92.5L98.5 92.2L98.3 91.9L98.2 91.5L98.2 91.2L98.2 90.8L98.2 90.4L98.3 90.0L98.5 89.7L98.7 89.3L99.0 88.9L99.3 88.5L99.6 88.2L99.9 87.9L100.2 87.5L100.6 87.3L100.9 87.0L101.3 86.7Z" fill="#820711"/>
<rect x="20.5" y="8.4" width="217.5" height="150.2" fill="none" stroke="#808080" stroke-width="0.70"/>
<line x1="47.1" y1="158.6" x2="47.1" y2="159.6" stroke="#444" stroke-width="0.35"/>
<text class="tk tx" x="47.1" y="161.8">167</text>
<line x1="75.0" y1="158.6" x2="75.0" y2="159.6" stroke="#444" stroke-width="0.35"/>
<text class="tk tx" x="75.0" y="161.8">168</text>
<line x1="102.9" y1="158.6" x2="102.9" y2="159.6" stroke="#444" stroke-width="0.35"/>
<text class="tk tx" x="102.9" y="161.8">169</text>
<line x1="130.8" y1="158.6" x2="130.8" y2="159.6" stroke="#444" stroke-width="0.35"/>
<text class="tk tx" x="130.8" y="161.8">170</text>
<line x1="158.7" y1="158.6" x2="158.7" y2="159.6" stroke="#444" stroke-width="0.35"/>
<text class="tk tx" x="158.7" y="161.8">171</text>
<line x1="186.6" y1="158.6" x2="186.6" y2="159.6" stroke="#444" stroke-width="0.35"/>
<text class="tk tx" x="186.6" y="161.8">172</text>
<line x1="214.5" y1="158.6" x2="214.5" y2="159.6" stroke="#444" stroke-width="0.35"/>
<text class="tk tx" x="214.5" y="161.8">173</text>
<line x1="19.5" y1="12.2" x2="20.5" y2="12.2" stroke="#444" stroke-width="0.35"/>
<text class="tk ty" x="18.9" y="13.0">122.5</text>
<line x1="19.5" y1="31.1" x2="20.5" y2="31.1" stroke="#444" stroke-width="0.35"/>
<text class="tk ty" x="18.9" y="31.9">120.0</text>
<line x1="19.5" y1="49.9" x2="20.5" y2="49.9" stroke="#444" stroke-width="0.35"/>
<text class="tk ty" x="18.9" y="50.7">117.5</text>
<line x1="19.5" y1="68.8" x2="20.5" y2="68.8" stroke="#444" stroke-width="0.35"/>
<text class="tk ty" x="18.9" y="69.6">115.0</text>
<line x1="19.5" y1="87.7" x2="20.5" y2="87.7" stroke="#444" stroke-width="0.35"/>
<text class="tk ty" x="18.9" y="88.5">112.5</text>
<line x1="19.5" y1="106.6" x2="20.5" y2="106.6" stroke="#444" stroke-width="0.35"/>
<text class="tk ty" x="18.9" y="107.4">110.0</text>
<line x1="19.5" y1="125.4" x2="20.5" y2="125.4" stroke="#444" stroke-width="0.35"/>
<text class="tk ty" x="18.9" y="126.2">107.5</text>
<line x1="19.5" y1="144.3" x2="20.5" y2="144.3" stroke="#444" stroke-width="0.35"/>
<text class="tk ty" x="18.9" y="145.1">105.0</text>
<text class="tt" x="129.0" y="6.8">WT</text>
<text class="al" x="129.5" y="168.9">RG</text>
<text class="al" transform="translate(9.6 84.0) rotate(-90)">SASA</text>
<text class="pl" transform="translate(4.0 13.6) scale(0.84 1)">A</text>
<rect x="251.4" y="141.74" width="7.3" height="16.71" fill="#ffece4"/>
<rect x="251.4" y="125.09" width="7.3" height="16.71" fill="#fdd7c6"/>
<rect x="251.4" y="108.43" width="7.3" height="16.71" fill="#fcb79c"/>
<rect x="251.4" y="91.78" width="7.3" height="16.71" fill="#fc9474"/>
<rect x="251.4" y="75.12" width="7.3" height="16.71" fill="#fb7252"/>
<rect x="251.4" y="58.47" width="7.3" height="16.71" fill="#f44d38"/>
<rect x="251.4" y="41.81" width="7.3" height="16.71" fill="#dc2924"/>
<rect x="251.4" y="25.16" width="7.3" height="16.71" fill="#b61319"/>
<rect x="251.4" y="8.50" width="7.3" height="16.71" fill="#820711"/>
<rect x="251.4" y="8.5" width="7.3" height="149.9" fill="none" stroke="#666" stroke-width="0.4"/>
<line x1="258.7" y1="158.40" x2="259.7" y2="158.40" stroke="#444" stroke-width="0.35"/>
<text class="tk" x="260.5" y="159.20">0.526</text>
<line x1="258.7" y1="141.74" x2="259.7" y2="141.74" stroke="#444" stroke-width="0.35"/>
<text class="tk" x="260.5" y="142.54">1.557</text>
<line x1="258.7" y1="125.09" x2="259.7" y2="125.09" stroke="#444" stroke-width="0.35"/>
<text class="tk" x="260.5" y="125.89">2.548</text>
<line x1="258.7" y1="108.43" x2="259.7" y2="108.43" stroke="#444" stroke-width="0.35"/>
<text class="tk" x="260.5" y="109.23">3.571</text>
<line x1="258.7" y1="91.78" x2="259.7" y2="91.78" stroke="#444" stroke-width="0.35"/>
<text class="tk" x="260.5" y="92.58">4.603</text>
<line x1="258.7" y1="75.12" x2="259.7" y2="75.12" stroke="#444" stroke-width="0.35"/>
<text class="tk" x="260.5" y="75.92">5.600</text>
<line x1="258.7" y1="58.47" x2="259.7" y2="58.47" stroke="#444" stroke-width="0.35"/>
<text class="tk" x="260.5" y="59.27">6.600</text>
<line x1="258.7" y1="41.81" x2="259.7" y2="41.81" stroke="#444" stroke-width="0.35"/>
<text class="tk" x="260.5" y="42.61">7.831</text>
<line x1="258.7" y1="25.16" x2="259.7" y2="25.16" stroke="#444" stroke-width="0.35"/>
<text class="tk" x="260.5" y="25.96">9.088</text>
<line x1="258.7" y1="8.50" x2="259.7" y2="8.50" stroke="#444" stroke-width="0.35"/>
<text class="tk" x="260.5" y="9.30">10.204</text>
</g>
<g>
<path d="M360.3 85.0L361.5 83.8L362.7 82.6L363.9 81.5L365.0 80.4L366.1 79.4L367.1 78.4L368.2 77.5L369.2 76.6L370.2 75.8L371.2 75.0L372.2 74.2L373.2 73.5L374.1 72.8L375.0 72.1L375.9 71.5L376.8 70.8L377.7 70.3L378.6 69.7L379.4 69.1L380.2 68.6L381.0 68.1L381.8 67.6L382.6 67.1L383.4 66.7L384.1 66.2L384.9 65.8L385.6 65.4L386.3 64.9L387.1 64.6L387.8 64.2L388.5 63.8L389.2 63.4L389.9 63.1L390.6 62.7L391.3 62.4L391.9 62.0L392.6 61.7L393.3 61.4L394.0 61.1L394.6 60.8L395.3 60.4L395.9 60.1L396.6 59.8L397.3 59.6L398.0 59.3L398.6 59.0L399.3 58.7L400.0 58.4L400.7 58.1L401.3 57.9L402.0 57.6L402.7 57.3L403.4 57.0L404.1 56.8L404.9 56.5L405.6 56.2L406.3 55.9L407.1 55.6L407.8 55.4L408.6 55.1L409.4 54.8L410.2 54.6L411.0 54.3L411.9 54.0L412.7 53.7L413.6 53.4L414.5 53.2L415.4 52.9L416.4 52.6L417.4 52.3L418.4 52.1L419.4 51.7L420.5 51.5L421.6 51.2L422.8 50.9L424.0 50.6L425.2 50.3L426.5 50.0L427.8 49.7L429.2 49.3L430.7 49.1L432.2 48.7L433.8 48.4L435.4 48.1L437.2 47.8L439.0 47.5L440.9 47.2L442.9 46.9L445.0 46.7L447.2 46.5L449.4 46.3L451.8 46.2L454.2 46.1L456.6 46.2L459.0 46.4L461.3 46.7L463.5 47.3L465.6 48.0L467.4 49.0L469.0 50.1L470.4 51.5L471.5 53.0L472.4 54.6L473.2 56.3L473.8 58.0L474.3 59.8L474.6 61.6L474.7 63.5L474.5 65.5L473.9 67.5L473.0 69.6L471.7 71.6L470.3 73.6L468.6 75.5L466.8 77.3L465.0 79.1L463.1 80.7L461.3 82.3L459.5 83.7L457.7 85.0L456.0 86.3L454.4 87.4L452.9 88.5L451.4 89.5L450.0 90.5L448.7 91.4L447.4 92.2L446.3 93.0L445.1 93.8L444.1 94.5L443.0 95.2L442.0 95.9L441.1 96.5L440.1 97.1L439.2 97.7L438.4 98.3L437.5 98.8L436.7 99.3L436.0 99.9L435.2 100.4L434.4 100.8L433.7 101.3L433.0 101.8L432.3 102.2L431.6 102.7L431.0 103.1L430.3 103.5L429.7 103.9L429.0 104.3L428.4 104.8L427.8 105.2L427.1 105.6L426.5 105.9L425.9 106.3L425.3 106.7L424.7 107.1L424.0 107.5L423.4 107.8L422.8 108.2L422.2 108.6L421.6 108.9L421.0 109.3L420.4 109.6L419.7 110.0L419.1 110.4L418.5 110.8L417.9 111.1L417.2 111.5L416.6 111.8L415.9 112.2L415.2 112.6L414.6 113.0L413.9 113.3L413.2 113.7L412.4 114.1L411.7 114.5L411.0 114.9L410.2 115.2L409.4 115.6L408.6 116.1L407.8 116.5L407.0 116.9L406.1 117.3L405.2 117.7L404.3 118.2L403.3 118.6L402.3 119.0L401.3 119.5L400.2 119.9L399.1 120.4L398.0 120.9L396.8 121.4L395.6 121.8L394.3 122.3L392.9 122.9L391.6 123.3L390.1 123.9L388.6 124.4L387.0 124.9L385.3 125.4L383.6 125.9L381.7 126.4L379.8 126.9L377.8 127.4L375.8 127.8L373.6 128.2L371.4 128.6L369.0 129.0L366.6 129.3L364.1 129.5L361.5 129.7L358.9 129.8L356.2 129.8L353.4 129.7L350.6 129.5L347.7 129.3L344.8 128.9L341.9 128.3L339.1 127.6L336.4 126.7L334.0 125.5L332.2 124.0L331.0 122.0L330.5 119.8L331.0 117.2L332.2 114.3L334.1 111.4L336.5 108.5L339.1 105.6L341.8 102.9L344.4 100.4L346.9 98.1L349.1 96.0L351.2 94.1L353.0 92.3L354.7 90.7L356.3 89.1L357.7 87.7L359.0 86.3Z" fill="#fff0e1"/>
<path d="M366.8 85.0L367.8 83.9L368.7 82.9L369.7 81.9L370.7 81.0L371.6 80.1L372.6 79.3L373.5 78.5L374.5 77.8L375.4 77.0L376.3 76.4L377.2 75.7L378.1 75.1L378.9 74.5L379.7 73.9L380.6 73.4L381.4 72.9L382.1 72.4L382.9 71.9L383.7 71.5L384.4 71.0L385.1 70.6L385.8 70.2L386.5 69.8L387.2 69.4L387.9 69.1L388.5 68.7L389.2 68.4L389.8 68.1L390.5 67.8L391.1 67.5L391.7 67.2L392.3 66.9L392.9 66.6L393.5 66.3L394.1 66.0L394.6 65.8L395.2 65.5L395.8 65.2L396.4 65.0L396.9 64.8L397.5 64.5L398.0 64.3L398.6 64.0L399.2 63.8L399.8 63.6L400.3 63.4L400.9 63.1L401.4 62.9L402.0 62.7L402.6 62.5L403.2 62.3L403.7 62.0L404.3 61.8L404.9 61.6L405.5 61.4L406.1 61.2L406.7 61.0L407.4 60.8L408.0 60.6L408.6 60.4L409.3 60.1L409.9 59.9L410.6 59.7L411.3 59.5L412.0 59.3L412.7 59.1L413.5 58.9L414.2 58.7L415.0 58.5L415.8 58.2L416.6 58.1L417.5 57.8L418.3 57.6L419.2 57.4L420.2 57.2L421.1 57.0L422.1 56.8L423.1 56.5L424.2 56.3L425.3 56.1L426.4 55.9L427.6 55.7L428.9 55.6L430.2 55.4L431.5 55.2L432.9 55.1L434.3 55.0L435.8 54.9L437.3 54.8L438.8 54.8L440.4 54.8L442.0 54.9L443.7 55.1L445.3 55.3L446.9 55.6L448.5 56.0L450.1 56.5L451.7 57.0L453.3 57.7L454.8 58.3L456.4 59.1L458.0 59.9L459.5 60.7L460.9 61.7L462.1 62.9L463.0 64.2L463.4 65.6L463.4 67.2L463.0 68.9L462.1 70.7L461.0 72.4L459.6 74.2L458.0 75.9L456.4 77.4L454.8 78.9L453.2 80.3L451.6 81.6L450.1 82.8L448.7 84.0L447.4 85.0L446.2 86.0L445.0 86.9L443.9 87.8L442.8 88.6L441.8 89.4L440.9 90.1L439.9 90.8L439.1 91.5L438.2 92.1L437.4 92.7L436.6 93.3L435.9 93.9L435.1 94.4L434.4 94.9L433.7 95.4L433.1 95.9L432.4 96.4L431.8 96.8L431.1 97.2L430.5 97.7L429.9 98.1L429.3 98.5L428.8 98.8L428.2 99.2L427.6 99.6L427.1 99.9L426.5 100.3L426.0 100.6L425.4 100.9L424.9 101.3L424.4 101.6L423.8 101.9L423.3 102.2L422.8 102.5L422.3 102.8L421.8 103.1L421.3 103.4L420.7 103.7L420.2 104.0L419.7 104.3L419.2 104.5L418.7 104.8L418.2 105.0L417.7 105.3L417.2 105.6L416.6 105.9L416.1 106.1L415.6 106.4L415.0 106.6L414.5 106.9L413.9 107.2L413.4 107.4L412.8 107.7L412.2 107.9L411.7 108.2L411.1 108.5L410.5 108.7L409.9 108.9L409.3 109.2L408.6 109.5L408.0 109.7L407.3 110.0L406.6 110.2L405.9 110.5L405.2 110.8L404.5 111.0L403.7 111.3L403.0 111.6L402.2 111.8L401.4 112.1L400.5 112.4L399.6 112.6L398.8 112.9L397.8 113.2L396.9 113.4L395.9 113.7L394.8 113.9L393.8 114.2L392.6 114.4L391.5 114.7L390.3 114.9L389.0 115.2L387.7 115.4L386.4 115.6L385.0 115.8L383.5 116.0L382.0 116.2L380.4 116.4L378.7 116.6L376.9 116.7L375.0 116.9L373.0 117.0L370.9 117.2L368.7 117.3L366.4 117.4L363.9 117.5L361.4 117.5L358.9 117.3L356.4 117.0L354.2 116.4L352.3 115.6L350.9 114.4L350.1 112.9L349.9 111.1L350.3 109.2L351.3 107.0L352.5 104.9L353.9 102.8L355.3 100.8L356.7 98.9L358.0 97.2L359.2 95.5L360.2 94.0L361.2 92.5L362.2 91.1L363.1 89.8L364.0 88.5L364.9 87.3L365.9 86.1Z" fill="#fee5cb"/>
<path d="M373.3 85.0L374.2 84.1L375.0 83.2L375.8 82.4L376.6 81.6L377.4 80.9L378.2 80.2L379.0 79.5L379.8 78.9L380.6 78.3L381.3 77.7L382.1 77.1L382.8 76.6L383.5 76.1L384.2 75.6L384.9 75.2L385.5 74.7L386.2 74.3L386.9 73.9L387.5 73.5L388.1 73.1L388.7 72.8L389.3 72.4L389.8 72.1L390.4 71.8L391.0 71.5L391.5 71.2L392.1 70.9L392.6 70.6L393.1 70.3L393.7 70.1L394.2 69.8L394.7 69.5L395.2 69.3L395.7 69.1L396.2 68.8L396.7 68.6L397.2 68.3L397.7 68.1L398.1 67.9L398.6 67.7L399.1 67.5L399.6 67.3L400.1 67.1L400.5 66.9L401.0 66.7L401.5 66.5L402.0 66.3L402.5 66.1L403.0 65.9L403.5 65.7L403.9 65.5L404.4 65.3L404.9 65.1L405.4 65.0L406.0 64.8L406.5 64.6L407.0 64.4L407.5 64.2L408.1 64.1L408.6 63.9L409.2 63.7L409.7 63.5L410.3 63.4L410.9 63.2L411.5 63.0L412.1 62.8L412.8 62.7L413.4 62.5L414.1 62.3L414.7 62.1L415.4 62.0L416.2 61.8L416.9 61.6L417.6 61.5L418.4 61.3L419.2 61.1L420.1 61.0L420.9 60.8L421.8 60.7L422.7 60.5L423.7 60.4L424.7 60.3L425.7 60.2L426.7 60.1L427.8 60.0L429.0 59.9L430.1 59.8L431.3 59.8L432.6 59.8L433.8 59.8L435.1 59.9L436.5 59.9L437.8 60.1L439.2 60.3L440.6 60.5L442.0 60.8L443.4 61.1L444.8 61.5L446.3 61.9L447.6 62.5L449.0 63.1L450.3 63.8L451.4 64.6L452.4 65.5L453.2 66.6L453.7 67.7L453.8 69.0L453.7 70.4L453.2 71.8L452.5 73.3L451.5 74.7L450.5 76.1L449.3 77.5L448.1 78.8L446.9 80.0L445.7 81.1L444.6 82.2L443.5 83.2L442.4 84.1L441.4 85.0L440.5 85.8L439.5 86.6L438.7 87.4L437.8 88.1L437.0 88.8L436.3 89.4L435.5 90.0L434.8 90.6L434.1 91.1L433.5 91.7L432.8 92.2L432.2 92.7L431.6 93.1L431.0 93.6L430.4 94.0L429.9 94.5L429.3 94.9L428.8 95.3L428.2 95.7L427.7 96.0L427.2 96.4L426.7 96.7L426.2 97.1L425.7 97.4L425.2 97.7L424.7 98.1L424.3 98.4L423.8 98.7L423.3 99.0L422.9 99.3L422.4 99.6L422.0 99.8L421.5 100.1L421.1 100.4L420.6 100.7L420.2 100.9L419.7 101.2L419.3 101.4L418.8 101.7L418.4 101.9L417.9 102.2L417.5 102.4L417.0 102.6L416.6 102.9L416.1 103.2L415.7 103.4L415.2 103.6L414.7 103.8L414.3 104.1L413.8 104.3L413.3 104.6L412.8 104.8L412.3 105.0L411.8 105.2L411.3 105.5L410.8 105.7L410.3 105.9L409.7 106.1L409.2 106.4L408.6 106.6L408.0 106.9L407.5 107.1L406.9 107.3L406.3 107.5L405.6 107.8L405.0 108.0L404.3 108.2L403.6 108.5L402.9 108.7L402.2 108.9L401.5 109.1L400.7 109.3L399.9 109.5L399.1 109.8L398.3 110.0L397.4 110.1L396.5 110.3L395.6 110.5L394.7 110.7L393.7 110.8L392.7 111.0L391.7 111.1L390.6 111.2L389.6 111.2L388.5 111.3L387.3 111.3L386.2 111.2L385.1 111.2L383.9 111.1L382.7 110.9L381.6 110.7L380.4 110.4L379.2 110.1L378.1 109.8L376.9 109.4L375.6 109.0L374.4 108.6L373.1 108.1L371.7 107.6L370.3 107.1L369.0 106.5L367.8 105.8L366.7 105.0L365.8 104.1L365.2 103.0L365.0 101.8L364.9 100.5L365.1 99.1L365.5 97.8L366.0 96.4L366.6 95.1L367.2 93.8L367.9 92.6L368.6 91.3L369.4 90.2L370.1 89.1L370.9 88.0L371.7 86.9L372.5 86.0Z" fill="#fdd3a9"/>
<path d="M378.4 85.0L379.1 84.2L379.9 83.5L380.6 82.8L381.3 82.1L382.0 81.5L382.7 80.9L383.4 80.3L384.1 79.8L384.7 79.3L385.4 78.8L386.0 78.3L386.6 77.9L387.2 77.4L387.8 77.0L388.4 76.6L388.9 76.3L389.5 75.9L390.1 75.6L390.6 75.2L391.1 74.9L391.6 74.6L392.1 74.3L392.6 74.0L393.1 73.7L393.6 73.5L394.0 73.2L394.5 72.9L394.9 72.7L395.4 72.4L395.8 72.2L396.3 72.0L396.7 71.8L397.1 71.5L397.6 71.3L398.0 71.1L398.4 70.9L398.8 70.7L399.2 70.5L399.6 70.4L400.1 70.2L400.5 70.0L400.9 69.8L401.3 69.6L401.7 69.4L402.1 69.3L402.5 69.1L402.9 68.9L403.3 68.7L403.8 68.6L404.2 68.4L404.6 68.3L405.0 68.1L405.5 67.9L405.9 67.8L406.3 67.6L406.8 67.4L407.2 67.3L407.7 67.1L408.1 67.0L408.6 66.8L409.1 66.7L409.6 66.5L410.1 66.4L410.6 66.2L411.1 66.1L411.6 65.9L412.2 65.8L412.7 65.6L413.3 65.5L413.9 65.3L414.5 65.2L415.1 65.0L415.8 64.9L416.4 64.8L417.1 64.6L417.8 64.5L418.5 64.4L419.2 64.2L420.0 64.1L420.7 64.0L421.5 63.9L422.4 63.8L423.2 63.7L424.1 63.7L425.0 63.6L426.0 63.6L426.9 63.6L427.9 63.6L428.9 63.6L430.0 63.7L431.0 63.7L432.1 63.8L433.3 64.0L434.4 64.1L435.6 64.3L436.8 64.5L438.0 64.8L439.3 65.1L440.6 65.4L441.8 65.8L443.0 66.3L444.1 66.9L445.1 67.6L445.8 68.4L446.3 69.4L446.5 70.5L446.4 71.6L446.1 72.8L445.6 74.1L444.9 75.3L444.1 76.5L443.2 77.7L442.3 78.8L441.4 79.8L440.5 80.8L439.7 81.7L438.9 82.6L438.1 83.5L437.3 84.3L436.6 85.0L435.9 85.7L435.2 86.4L434.6 87.1L433.9 87.7L433.3 88.3L432.7 88.8L432.1 89.4L431.5 89.9L431.0 90.4L430.4 90.9L429.9 91.3L429.4 91.7L428.8 92.2L428.3 92.6L427.8 93.0L427.4 93.4L426.9 93.7L426.4 94.1L425.9 94.4L425.5 94.7L425.0 95.1L424.6 95.4L424.2 95.7L423.7 96.0L423.3 96.3L422.9 96.5L422.5 96.8L422.0 97.1L421.6 97.3L421.2 97.6L420.8 97.9L420.4 98.1L420.0 98.3L419.6 98.6L419.2 98.8L418.8 99.0L418.4 99.3L418.0 99.5L417.6 99.7L417.2 99.9L416.8 100.1L416.4 100.4L416.0 100.5L415.6 100.8L415.2 101.0L414.8 101.2L414.4 101.4L414.0 101.6L413.6 101.8L413.2 102.0L412.7 102.2L412.3 102.4L411.9 102.6L411.4 102.8L411.0 103.0L410.5 103.2L410.1 103.4L409.6 103.5L409.1 103.8L408.6 104.0L408.1 104.2L407.6 104.3L407.1 104.5L406.5 104.8L406.0 104.9L405.4 105.1L404.9 105.3L404.3 105.5L403.7 105.7L403.0 105.9L402.4 106.1L401.7 106.3L401.0 106.5L400.3 106.7L399.6 106.8L398.8 107.0L398.0 107.2L397.2 107.3L396.4 107.5L395.6 107.6L394.7 107.8L393.8 107.9L392.8 108.0L391.9 108.0L390.9 108.1L389.9 108.1L388.9 108.1L387.8 108.1L386.8 108.0L385.7 107.9L384.7 107.7L383.6 107.6L382.5 107.3L381.4 107.0L380.4 106.7L379.3 106.3L378.2 105.9L377.1 105.5L376.1 105.0L375.0 104.4L374.0 103.8L373.1 103.1L372.2 102.4L371.6 101.5L371.1 100.5L370.9 99.5L370.8 98.4L371.0 97.2L371.3 96.1L371.7 94.9L372.2 93.8L372.8 92.6L373.4 91.5L374.0 90.5L374.7 89.5L375.5 88.5L376.2 87.6L376.9 86.7L377.7 85.8Z" fill="#fdb77a"/>
<path d="M382.9 85.0L383.6 84.4L384.3 83.7L385.0 83.2L385.6 82.6L386.3 82.1L386.9 81.6L387.5 81.1L388.0 80.6L388.6 80.2L389.1 79.8L389.7 79.4L390.2 79.0L390.7 78.7L391.2 78.3L391.6 78.0L392.1 77.7L392.6 77.3L393.0 77.1L393.4 76.8L393.9 76.5L394.3 76.2L394.7 76.0L395.1 75.7L395.5 75.5L395.9 75.2L396.3 75.0L396.7 74.8L397.0 74.6L397.4 74.4L397.8 74.2L398.1 74.0L398.5 73.8L398.9 73.6L399.2 73.4L399.6 73.2L399.9 73.0L400.3 72.9L400.6 72.7L401.0 72.5L401.3 72.4L401.7 72.2L402.0 72.0L402.4 71.9L402.7 71.7L403.1 71.6L403.4 71.4L403.7 71.3L404.1 71.1L404.5 71.0L404.8 70.8L405.2 70.7L405.5 70.5L405.9 70.4L406.3 70.2L406.7 70.1L407.0 70.0L407.4 69.8L407.8 69.7L408.2 69.5L408.6 69.4L409.0 69.3L409.5 69.1L409.9 69.0L410.3 68.9L410.8 68.7L411.2 68.6L411.7 68.5L412.2 68.4L412.7 68.2L413.2 68.1L413.7 68.0L414.2 67.9L414.7 67.7L415.3 67.6L415.9 67.5L416.5 67.4L417.1 67.3L417.7 67.2L418.3 67.1L419.0 67.0L419.7 67.0L420.4 66.9L421.1 66.9L421.9 66.8L422.6 66.8L423.4 66.7L424.2 66.7L425.1 66.7L426.0 66.8L426.9 66.8L427.8 66.8L428.8 66.8L429.8 66.9L430.9 66.9L432.1 67.0L433.3 67.1L434.6 67.1L435.9 67.3L437.3 67.5L438.6 67.7L439.7 68.1L440.7 68.7L441.5 69.3L441.9 70.2L442.1 71.2L441.9 72.2L441.6 73.3L441.1 74.5L440.5 75.6L439.9 76.6L439.2 77.7L438.6 78.6L438.0 79.6L437.3 80.5L436.7 81.3L436.1 82.1L435.5 82.9L434.9 83.6L434.3 84.3L433.7 85.0L433.2 85.7L432.6 86.3L432.0 86.8L431.4 87.4L430.8 87.9L430.3 88.4L429.7 88.9L429.2 89.4L428.6 89.8L428.1 90.2L427.6 90.6L427.1 91.0L426.6 91.4L426.1 91.7L425.7 92.1L425.2 92.4L424.7 92.7L424.3 93.0L423.9 93.3L423.4 93.6L423.0 93.8L422.6 94.1L422.2 94.4L421.8 94.6L421.4 94.8L421.0 95.1L420.7 95.3L420.3 95.5L419.9 95.7L419.5 95.9L419.2 96.1L418.8 96.3L418.4 96.5L418.1 96.7L417.8 96.9L417.4 97.1L417.1 97.3L416.7 97.4L416.4 97.6L416.0 97.8L415.7 98.0L415.3 98.2L415.0 98.3L414.6 98.5L414.3 98.7L413.9 98.8L413.6 99.0L413.2 99.1L412.9 99.3L412.5 99.5L412.1 99.7L411.8 99.8L411.4 100.0L411.0 100.1L410.6 100.3L410.2 100.5L409.8 100.6L409.4 100.8L409.0 101.0L408.6 101.1L408.2 101.3L407.8 101.4L407.3 101.6L406.9 101.8L406.4 102.0L405.9 102.1L405.4 102.3L404.9 102.5L404.4 102.6L403.8 102.8L403.3 103.0L402.7 103.2L402.1 103.3L401.5 103.5L400.9 103.7L400.2 103.9L399.5 104.1L398.8 104.2L398.1 104.4L397.3 104.6L396.5 104.7L395.7 104.9L394.9 105.0L394.0 105.1L393.1 105.2L392.2 105.3L391.2 105.4L390.2 105.4L389.2 105.4L388.2 105.4L387.2 105.3L386.2 105.2L385.3 105.0L384.3 104.7L383.4 104.4L382.5 104.0L381.6 103.6L380.8 103.1L379.9 102.6L379.1 102.0L378.3 101.5L377.5 100.9L376.7 100.2L376.0 99.5L375.4 98.8L375.0 97.9L374.8 97.0L374.8 96.0L375.0 95.0L375.4 93.9L376.0 92.8L376.7 91.8L377.4 90.8L378.2 89.8L379.0 88.9L379.8 88.0L380.6 87.2L381.4 86.4L382.2 85.7Z" fill="#fd9c51"/>
<path d="M387.1 85.0L387.6 84.5L388.2 83.9L388.7 83.4L389.2 83.0L389.8 82.5L390.3 82.1L390.8 81.7L391.2 81.3L391.7 80.9L392.1 80.6L392.6 80.3L393.0 79.9L393.4 79.6L393.9 79.3L394.3 79.1L394.7 78.8L395.1 78.5L395.4 78.3L395.8 78.1L396.2 77.8L396.5 77.6L396.9 77.4L397.2 77.2L397.6 77.0L397.9 76.8L398.2 76.6L398.6 76.4L398.9 76.2L399.2 76.1L399.5 75.9L399.8 75.7L400.1 75.6L400.4 75.4L400.7 75.3L401.0 75.1L401.3 75.0L401.6 74.8L401.9 74.7L402.2 74.5L402.5 74.4L402.8 74.3L403.1 74.1L403.4 74.0L403.7 73.9L404.0 73.8L404.2 73.6L404.5 73.5L404.8 73.4L405.1 73.3L405.4 73.1L405.7 73.0L406.0 72.9L406.4 72.8L406.7 72.7L407.0 72.6L407.3 72.4L407.6 72.3L407.9 72.2L408.3 72.1L408.6 72.0L409.0 71.9L409.3 71.7L409.7 71.6L410.0 71.5L410.4 71.4L410.8 71.3L411.2 71.2L411.6 71.1L412.0 71.0L412.4 70.9L412.8 70.8L413.3 70.7L413.7 70.6L414.2 70.5L414.7 70.4L415.2 70.3L415.7 70.2L416.2 70.1L416.7 70.1L417.3 70.0L417.9 69.9L418.5 69.9L419.1 69.8L419.7 69.8L420.3 69.8L421.0 69.7L421.7 69.7L422.4 69.8L423.1 69.8L423.8 69.8L424.6 69.9L425.3 70.0L426.2 70.0L427.0 70.1L427.9 70.2L428.8 70.4L429.8 70.5L430.8 70.6L431.8 70.8L432.9 71.0L434.0 71.3L435.0 71.6L435.9 72.0L436.6 72.6L437.1 73.2L437.3 74.0L437.4 74.8L437.2 75.7L436.8 76.7L436.3 77.6L435.7 78.5L435.1 79.4L434.4 80.2L433.7 81.0L433.0 81.8L432.4 82.5L431.7 83.2L431.1 83.8L430.5 84.4L429.9 85.0L429.4 85.6L428.8 86.1L428.3 86.6L427.8 87.0L427.2 87.5L426.8 87.9L426.3 88.3L425.8 88.7L425.4 89.0L424.9 89.4L424.5 89.7L424.1 90.0L423.7 90.4L423.3 90.6L422.9 90.9L422.5 91.2L422.1 91.5L421.8 91.7L421.4 92.0L421.1 92.2L420.7 92.4L420.4 92.7L420.1 92.9L419.7 93.1L419.4 93.3L419.1 93.5L418.8 93.7L418.5 93.9L418.2 94.1L417.9 94.2L417.6 94.4L417.2 94.6L416.9 94.8L416.7 94.9L416.4 95.1L416.1 95.3L415.8 95.4L415.5 95.6L415.2 95.7L414.9 95.9L414.6 96.0L414.3 96.2L414.0 96.3L413.7 96.5L413.4 96.6L413.1 96.8L412.8 96.9L412.5 97.0L412.2 97.2L411.9 97.3L411.6 97.5L411.3 97.6L411.0 97.7L410.7 97.9L410.3 98.0L410.0 98.2L409.7 98.3L409.3 98.5L409.0 98.6L408.6 98.8L408.3 98.9L407.9 99.0L407.5 99.2L407.1 99.3L406.7 99.5L406.3 99.6L405.9 99.8L405.5 99.9L405.0 100.0L404.6 100.2L404.1 100.3L403.6 100.5L403.1 100.6L402.6 100.8L402.0 100.9L401.5 101.1L400.9 101.2L400.3 101.4L399.7 101.5L399.0 101.6L398.4 101.8L397.7 101.9L396.9 102.0L396.2 102.1L395.4 102.2L394.6 102.3L393.8 102.4L392.9 102.5L392.0 102.5L391.1 102.5L390.2 102.5L389.2 102.5L388.3 102.4L387.3 102.3L386.3 102.2L385.3 102.0L384.3 101.8L383.3 101.5L382.3 101.1L381.5 100.7L380.7 100.2L380.0 99.6L379.5 98.9L379.2 98.1L379.1 97.2L379.2 96.3L379.5 95.3L379.8 94.4L380.3 93.4L380.9 92.4L381.5 91.5L382.2 90.6L382.8 89.8L383.4 89.0L384.1 88.2L384.7 87.5L385.3 86.8L385.9 86.2L386.5 85.6Z" fill="#f9802d"/>
<path d="M390.6 85.0L391.1 84.6L391.6 84.1L392.1 83.7L392.6 83.3L393.1 83.0L393.5 82.6L394.0 82.3L394.4 82.0L394.8 81.7L395.2 81.4L395.6 81.2L396.0 80.9L396.3 80.7L396.7 80.4L397.0 80.2L397.4 80.0L397.7 79.8L398.0 79.6L398.3 79.4L398.6 79.2L398.9 79.1L399.2 78.9L399.5 78.7L399.8 78.6L400.1 78.4L400.3 78.3L400.6 78.2L400.8 78.0L401.1 77.9L401.4 77.8L401.6 77.6L401.9 77.5L402.1 77.4L402.3 77.3L402.6 77.2L402.8 77.0L403.1 76.9L403.3 76.8L403.5 76.7L403.8 76.6L404.0 76.5L404.2 76.4L404.4 76.3L404.7 76.2L404.9 76.1L405.1 76.0L405.4 75.9L405.6 75.8L405.8 75.7L406.1 75.6L406.3 75.5L406.6 75.4L406.8 75.3L407.1 75.2L407.3 75.1L407.6 75.0L407.8 74.9L408.1 74.8L408.4 74.7L408.6 74.6L408.9 74.5L409.2 74.4L409.5 74.3L409.8 74.2L410.1 74.1L410.4 74.0L410.7 73.9L411.0 73.8L411.3 73.7L411.7 73.6L412.0 73.5L412.4 73.4L412.8 73.2L413.2 73.1L413.6 73.0L414.0 72.9L414.4 72.8L414.9 72.7L415.4 72.6L415.8 72.5L416.3 72.4L416.9 72.3L417.4 72.2L418.0 72.2L418.5 72.1L419.2 72.0L419.8 72.0L420.4 71.9L421.1 71.9L421.8 71.9L422.5 71.9L423.2 71.9L423.9 72.0L424.6 72.1L425.3 72.2L426.0 72.4L426.6 72.6L427.3 72.9L427.9 73.2L428.4 73.6L428.9 74.0L429.4 74.4L429.8 74.9L430.1 75.4L430.4 76.0L430.6 76.6L430.7 77.2L430.7 77.8L430.6 78.5L430.5 79.2L430.3 79.8L430.0 80.5L429.6 81.1L429.2 81.7L428.8 82.4L428.4 82.9L427.9 83.5L427.4 84.0L426.9 84.5L426.4 85.0L425.9 85.5L425.5 85.9L425.0 86.3L424.5 86.7L424.1 87.0L423.6 87.4L423.2 87.7L422.8 88.0L422.4 88.3L422.0 88.6L421.6 88.9L421.3 89.1L420.9 89.4L420.5 89.6L420.2 89.8L419.9 90.0L419.6 90.2L419.3 90.4L418.9 90.6L418.6 90.8L418.4 91.0L418.1 91.1L417.8 91.3L417.5 91.5L417.2 91.6L417.0 91.8L416.7 91.9L416.5 92.1L416.2 92.2L416.0 92.3L415.7 92.5L415.5 92.6L415.2 92.7L415.0 92.9L414.7 93.0L414.5 93.1L414.3 93.2L414.0 93.3L413.8 93.5L413.6 93.6L413.3 93.7L413.1 93.8L412.9 93.9L412.6 94.0L412.4 94.2L412.2 94.3L411.9 94.4L411.7 94.5L411.5 94.6L411.2 94.7L411.0 94.8L410.7 94.9L410.5 95.0L410.2 95.2L410.0 95.3L409.7 95.4L409.4 95.5L409.2 95.6L408.9 95.7L408.6 95.8L408.3 95.9L408.0 96.1L407.7 96.2L407.4 96.3L407.1 96.4L406.8 96.5L406.5 96.7L406.1 96.8L405.8 96.9L405.4 97.1L405.0 97.2L404.6 97.3L404.2 97.5L403.8 97.6L403.3 97.8L402.9 97.9L402.4 98.1L401.9 98.2L401.4 98.4L400.8 98.5L400.3 98.7L399.7 98.8L399.0 99.0L398.4 99.1L397.7 99.3L397.0 99.4L396.2 99.5L395.4 99.7L394.6 99.8L393.7 99.9L392.9 100.0L392.0 100.0L391.0 100.0L390.1 100.0L389.2 99.9L388.3 99.8L387.4 99.6L386.6 99.3L385.9 99.0L385.2 98.5L384.7 98.0L384.3 97.4L384.1 96.7L383.9 96.0L383.9 95.2L384.0 94.4L384.2 93.6L384.5 92.8L384.9 92.0L385.3 91.3L385.8 90.5L386.3 89.8L386.8 89.1L387.3 88.4L387.9 87.7L388.4 87.1L389.0 86.6L389.5 86.0L390.1 85.5Z" fill="#ea5f0e"/>
<path d="M393.9 85.0L394.3 84.6L394.8 84.3L395.2 84.0L395.6 83.6L396.0 83.4L396.4 83.1L396.8 82.8L397.1 82.6L397.5 82.3L397.8 82.1L398.1 81.9L398.5 81.7L398.8 81.5L399.1 81.3L399.4 81.2L399.6 81.0L399.9 80.8L400.2 80.7L400.4 80.6L400.7 80.4L400.9 80.3L401.2 80.2L401.4 80.0L401.6 79.9L401.8 79.8L402.1 79.7L402.3 79.6L402.5 79.5L402.7 79.4L402.9 79.3L403.1 79.2L403.3 79.1L403.5 79.0L403.7 78.9L403.9 78.8L404.1 78.7L404.2 78.6L404.4 78.6L404.6 78.5L404.8 78.4L405.0 78.3L405.2 78.2L405.4 78.2L405.5 78.1L405.7 78.0L405.9 77.9L406.1 77.9L406.3 77.8L406.5 77.7L406.6 77.6L406.8 77.6L407.0 77.5L407.2 77.4L407.4 77.3L407.6 77.3L407.8 77.2L408.0 77.1L408.2 77.1L408.4 77.0L408.6 76.9L408.8 76.9L409.1 76.8L409.3 76.7L409.5 76.6L409.7 76.6L410.0 76.5L410.2 76.4L410.5 76.3L410.7 76.3L411.0 76.2L411.3 76.1L411.5 76.1L411.8 76.0L412.1 75.9L412.4 75.8L412.7 75.8L413.1 75.7L413.4 75.6L413.8 75.6L414.1 75.5L414.5 75.4L414.9 75.4L415.3 75.3L415.7 75.3L416.1 75.2L416.6 75.2L417.0 75.2L417.5 75.1L418.0 75.1L418.5 75.2L419.0 75.2L419.5 75.2L420.0 75.3L420.5 75.4L420.9 75.6L421.4 75.7L421.8 75.9L422.2 76.2L422.6 76.5L422.9 76.8L423.1 77.1L423.4 77.5L423.6 77.9L423.7 78.3L423.9 78.7L424.0 79.1L424.1 79.5L424.1 80.0L424.1 80.4L424.1 80.9L424.0 81.3L423.9 81.8L423.7 82.2L423.5 82.6L423.3 83.1L423.1 83.5L422.8 83.9L422.6 84.3L422.3 84.7L422.0 85.0L421.7 85.4L421.4 85.7L421.1 86.0L420.8 86.3L420.4 86.6L420.2 86.8L419.9 87.1L419.6 87.3L419.3 87.6L419.0 87.8L418.7 88.0L418.5 88.2L418.2 88.4L417.9 88.6L417.7 88.8L417.5 88.9L417.2 89.1L417.0 89.3L416.8 89.4L416.5 89.6L416.3 89.7L416.1 89.9L415.9 90.0L415.7 90.1L415.5 90.3L415.3 90.4L415.0 90.5L414.8 90.6L414.7 90.7L414.5 90.8L414.3 91.0L414.1 91.1L413.9 91.2L413.7 91.3L413.5 91.4L413.3 91.5L413.1 91.6L412.9 91.7L412.8 91.8L412.6 91.9L412.4 92.0L412.2 92.1L412.0 92.1L411.8 92.2L411.7 92.3L411.5 92.4L411.3 92.5L411.1 92.6L410.9 92.7L410.7 92.8L410.5 92.9L410.3 93.0L410.1 93.1L409.9 93.2L409.7 93.2L409.5 93.3L409.3 93.4L409.1 93.5L408.8 93.6L408.6 93.7L408.4 93.8L408.2 93.9L407.9 94.0L407.7 94.1L407.4 94.2L407.2 94.3L406.9 94.4L406.6 94.5L406.3 94.6L406.0 94.7L405.7 94.8L405.4 94.9L405.1 95.0L404.7 95.1L404.4 95.2L404.0 95.3L403.6 95.4L403.3 95.6L402.8 95.7L402.4 95.8L402.0 95.9L401.5 96.0L401.0 96.1L400.5 96.2L399.9 96.3L399.4 96.4L398.8 96.5L398.2 96.6L397.6 96.7L396.9 96.7L396.3 96.7L395.6 96.8L394.9 96.7L394.2 96.7L393.5 96.6L392.8 96.5L392.1 96.3L391.5 96.1L390.9 95.8L390.4 95.5L390.0 95.1L389.6 94.7L389.3 94.2L389.1 93.7L389.0 93.1L388.9 92.6L389.0 92.0L389.1 91.3L389.3 90.7L389.6 90.1L389.9 89.5L390.3 88.9L390.7 88.3L391.1 87.8L391.6 87.3L392.0 86.8L392.5 86.3L393.0 85.8L393.4 85.4Z" fill="#ce4401"/>
<path d="M398.4 85.0L398.7 84.8L399.0 84.5L399.2 84.3L399.5 84.1L399.7 83.8L400.0 83.6L400.2 83.5L400.5 83.3L400.7 83.1L400.9 83.0L401.1 82.8L401.4 82.7L401.6 82.5L401.8 82.4L402.0 82.3L402.2 82.1L402.3 82.0L402.5 81.9L402.7 81.8L402.9 81.7L403.1 81.6L403.2 81.5L403.4 81.4L403.6 81.3L403.7 81.2L403.9 81.2L404.0 81.1L404.2 81.0L404.3 80.9L404.5 80.9L404.6 80.8L404.7 80.7L404.9 80.6L405.0 80.6L405.2 80.5L405.3 80.4L405.4 80.4L405.6 80.3L405.7 80.3L405.8 80.2L406.0 80.1L406.1 80.1L406.2 80.0L406.4 80.0L406.5 79.9L406.6 79.9L406.8 79.8L406.9 79.7L407.0 79.7L407.2 79.6L407.3 79.6L407.5 79.5L407.6 79.5L407.7 79.4L407.9 79.4L408.0 79.3L408.2 79.3L408.3 79.2L408.5 79.1L408.6 79.1L408.8 79.1L408.9 79.0L409.1 78.9L409.3 78.9L409.4 78.8L409.6 78.8L409.8 78.7L410.0 78.7L410.2 78.6L410.3 78.6L410.5 78.5L410.7 78.5L411.0 78.4L411.2 78.4L411.4 78.3L411.6 78.3L411.9 78.2L412.1 78.2L412.4 78.1L412.6 78.1L412.9 78.0L413.2 78.0L413.5 77.9L413.8 77.9L414.1 77.9L414.4 77.9L414.7 77.8L415.1 77.8L415.4 77.9L415.8 77.9L416.1 77.9L416.5 78.0L416.8 78.0L417.1 78.1L417.5 78.2L417.8 78.4L418.1 78.5L418.3 78.7L418.6 78.9L418.8 79.1L419.0 79.4L419.1 79.7L419.3 79.9L419.4 80.2L419.5 80.5L419.6 80.8L419.6 81.1L419.7 81.4L419.7 81.7L419.7 82.0L419.6 82.4L419.6 82.7L419.4 83.0L419.3 83.3L419.1 83.6L419.0 83.9L418.7 84.2L418.5 84.5L418.3 84.8L418.1 85.0L417.8 85.3L417.6 85.5L417.4 85.7L417.1 85.9L416.9 86.1L416.7 86.3L416.5 86.5L416.3 86.6L416.0 86.8L415.8 86.9L415.6 87.1L415.4 87.2L415.2 87.4L415.1 87.5L414.9 87.6L414.7 87.7L414.5 87.8L414.3 87.9L414.2 88.0L414.0 88.1L413.9 88.2L413.7 88.3L413.5 88.4L413.4 88.5L413.3 88.6L413.1 88.6L413.0 88.7L412.8 88.8L412.7 88.9L412.5 88.9L412.4 89.0L412.3 89.1L412.1 89.1L412.0 89.2L411.9 89.3L411.8 89.3L411.6 89.4L411.5 89.5L411.4 89.5L411.3 89.6L411.1 89.6L411.0 89.7L410.9 89.7L410.7 89.8L410.6 89.8L410.5 89.9L410.4 89.9L410.2 90.0L410.1 90.1L410.0 90.1L409.9 90.2L409.7 90.2L409.6 90.3L409.5 90.3L409.3 90.4L409.2 90.4L409.1 90.5L408.9 90.5L408.8 90.6L408.6 90.6L408.5 90.7L408.3 90.7L408.2 90.8L408.0 90.8L407.8 90.9L407.7 90.9L407.5 91.0L407.3 91.0L407.2 91.1L407.0 91.1L406.8 91.2L406.6 91.2L406.4 91.3L406.2 91.3L406.0 91.4L405.8 91.5L405.5 91.5L405.3 91.6L405.0 91.6L404.8 91.6L404.5 91.7L404.3 91.7L404.0 91.8L403.7 91.8L403.4 91.8L403.1 91.9L402.7 91.9L402.4 91.9L402.1 91.9L401.7 91.9L401.4 91.9L401.0 91.9L400.7 91.8L400.3 91.8L399.9 91.7L399.6 91.6L399.2 91.5L398.9 91.3L398.6 91.2L398.3 91.0L398.0 90.8L397.7 90.6L397.4 90.4L397.2 90.1L397.0 89.8L396.8 89.5L396.7 89.2L396.6 88.9L396.5 88.6L396.6 88.2L396.6 87.9L396.7 87.5L396.9 87.2L397.0 86.8L397.2 86.5L397.4 86.2L397.7 85.9L397.9 85.6L398.2 85.3Z" fill="#993103"/>
<rect x="298.5" y="9.7" width="216.5" height="149.8" fill="none" stroke="#808080" stroke-width="0.70"/>
<line x1="315.7" y1="159.5" x2="315.7" y2="160.5" stroke="#444" stroke-width="0.35"/>
<text class="tk tx" x="315.7" y="162.8">166</text>
<line x1="363.9" y1="159.5" x2="363.9" y2="160.5" stroke="#444" stroke-width="0.35"/>
<text class="tk tx" x="363.9" y="162.8">168</text>
<line x1="412.2" y1="159.5" x2="412.2" y2="160.5" stroke="#444" stroke-width="0.35"/>
<text class="tk tx" x="412.2" y="162.8">170</text>
<line x1="460.4" y1="159.5" x2="460.4" y2="160.5" stroke="#444" stroke-width="0.35"/>
<text class="tk tx" x="460.4" y="162.8">172</text>
<line x1="508.7" y1="159.5" x2="508.7" y2="160.5" stroke="#444" stroke-width="0.35"/>
<text class="tk tx" x="508.7" y="162.8">174</text>
<line x1="297.5" y1="36.4" x2="298.5" y2="36.4" stroke="#444" stroke-width="0.35"/>
<text class="tk ty" x="296.9" y="37.2">120</text>
<line x1="297.5" y1="67.7" x2="298.5" y2="67.7" stroke="#444" stroke-width="0.35"/>
<text class="tk ty" x="296.9" y="68.5">115</text>
<line x1="297.5" y1="99.0" x2="298.5" y2="99.0" stroke="#444" stroke-width="0.35"/>
<text class="tk ty" x="296.9" y="99.8">110</text>
<line x1="297.5" y1="130.3" x2="298.5" y2="130.3" stroke="#444" stroke-width="0.35"/>
<text class="tk ty" x="296.9" y="131.1">105</text>
<text class="tt" x="406.5" y="8.3">R248W</text>
<text class="al" x="406.0" y="169.5">RG</text>
<text class="al" transform="translate(288.5 84.5) rotate(-90)">SASA</text>
<text class="pl" transform="translate(281.7 12.9) scale(0.84 1)">B</text>
<rect x="528.3" y="142.68" width="7.4" height="16.67" fill="#fff0e1"/>
<rect x="528.3" y="126.06" width="7.4" height="16.67" fill="#fee5cb"/>
<rect x="528.3" y="109.43" width="7.4" height="16.67" fill="#fdd3a9"/>
<rect x="528.3" y="92.81" width="7.4" height="16.67" fill="#fdb77a"/>
<rect x="528.3" y="76.19" width="7.4" height="16.67" fill="#fd9c51"/>
<rect x="528.3" y="59.57" width="7.4" height="16.67" fill="#f9802d"/>
<rect x="528.3" y="42.94" width="7.4" height="16.67" fill="#ea5f0e"/>
<rect x="528.3" y="26.32" width="7.4" height="16.67" fill="#ce4401"/>
<rect x="528.3" y="9.70" width="7.4" height="16.67" fill="#993103"/>
<rect x="528.3" y="9.7" width="7.4" height="149.6" fill="none" stroke="#666" stroke-width="0.4"/>
<line x1="535.7" y1="159.30" x2="536.7" y2="159.30" stroke="#444" stroke-width="0.35"/>
<text class="tk" x="537.5" y="160.10">0.352</text>
<line x1="535.7" y1="142.68" x2="536.7" y2="142.68" stroke="#444" stroke-width="0.35"/>
<text class="tk" x="537.5" y="143.48">1.020</text>
<line x1="535.7" y1="126.06" x2="536.7" y2="126.06" stroke="#444" stroke-width="0.35"/>
<text class="tk" x="537.5" y="126.86">1.690</text>
<line x1="535.7" y1="109.43" x2="536.7" y2="109.43" stroke="#444" stroke-width="0.35"/>
<text class="tk" x="537.5" y="110.23">2.495</text>
<line x1="535.7" y1="92.81" x2="536.7" y2="92.81" stroke="#444" stroke-width="0.35"/>
<text class="tk" x="537.5" y="93.61">3.328</text>
<line x1="535.7" y1="76.19" x2="536.7" y2="76.19" stroke="#444" stroke-width="0.35"/>
<text class="tk" x="537.5" y="76.99">4.012</text>
<line x1="535.7" y1="59.57" x2="536.7" y2="59.57" stroke="#444" stroke-width="0.35"/>
<text class="tk" x="537.5" y="60.37">4.887</text>
<line x1="535.7" y1="42.94" x2="536.7" y2="42.94" stroke="#444" stroke-width="0.35"/>
<text class="tk" x="537.5" y="43.74">5.718</text>
<line x1="535.7" y1="26.32" x2="536.7" y2="26.32" stroke="#444" stroke-width="0.35"/>
<text class="tk" x="537.5" y="27.12">6.593</text>
<line x1="535.7" y1="9.70" x2="536.7" y2="9.70" stroke="#444" stroke-width="0.35"/>
<text class="tk" x="537.5" y="10.50">7.846</text>
</g>
<g>
<path d="M96.6 250.4L97.6 249.1L98.5 247.9L99.3 246.8L100.2 245.7L101.1 244.6L101.9 243.6L102.8 242.6L103.6 241.6L104.5 240.6L105.3 239.7L106.1 238.8L106.9 238.0L107.7 237.2L108.6 236.4L109.4 235.6L110.2 234.9L111.0 234.1L111.8 233.4L112.5 232.7L113.3 232.1L114.1 231.4L114.9 230.8L115.7 230.2L116.4 229.6L117.2 229.0L118.0 228.5L118.8 227.9L119.5 227.4L120.3 226.9L121.1 226.4L121.8 225.9L122.6 225.4L123.3 225.0L124.1 224.5L124.9 224.1L125.6 223.7L126.4 223.2L127.2 222.8L127.9 222.5L128.7 222.1L129.5 221.7L130.3 221.4L131.1 221.0L131.8 220.7L132.6 220.3L133.4 220.0L134.2 219.7L135.0 219.4L135.8 219.2L136.6 218.9L137.4 218.6L138.3 218.4L139.1 218.1L139.9 217.9L140.8 217.6L141.6 217.4L142.5 217.2L143.3 217.0L144.2 216.8L145.1 216.7L146.0 216.5L146.9 216.3L147.8 216.2L148.7 216.1L149.6 215.9L150.5 215.8L151.5 215.7L152.5 215.6L153.4 215.6L154.4 215.5L155.4 215.4L156.4 215.4L157.5 215.4L158.5 215.3L159.6 215.4L160.7 215.4L161.8 215.4L162.9 215.5L164.0 215.5L165.1 215.6L166.3 215.7L167.5 215.9L168.7 216.0L169.9 216.2L171.2 216.4L172.4 216.6L173.7 216.9L175.0 217.2L176.3 217.5L177.6 217.8L179.0 218.2L180.3 218.6L181.7 219.1L183.1 219.6L184.5 220.1L185.9 220.7L187.3 221.4L188.7 222.1L190.1 222.8L191.4 223.6L192.7 224.5L194.0 225.5L195.2 226.5L196.3 227.6L197.4 228.7L198.3 229.9L199.1 231.2L199.9 232.6L200.4 234.0L200.9 235.4L201.3 236.9L201.5 238.4L201.6 239.9L201.6 241.4L201.6 242.9L201.4 244.5L201.1 246.0L200.8 247.5L200.3 248.9L199.8 250.4L199.2 251.8L198.6 253.2L197.8 254.5L197.0 255.9L196.2 257.1L195.3 258.3L194.3 259.5L193.3 260.6L192.3 261.7L191.2 262.8L190.2 263.7L189.1 264.7L188.0 265.6L186.9 266.4L185.8 267.2L184.7 268.0L183.6 268.7L182.5 269.4L181.4 270.1L180.3 270.7L179.2 271.3L178.2 271.9L177.1 272.4L176.1 272.9L175.1 273.4L174.1 273.9L173.1 274.3L172.1 274.7L171.1 275.1L170.2 275.5L169.2 275.8L168.3 276.2L167.4 276.5L166.5 276.8L165.6 277.1L164.7 277.4L163.8 277.7L162.9 277.9L162.1 278.1L161.2 278.4L160.4 278.6L159.5 278.8L158.7 279.0L157.9 279.2L157.1 279.4L156.3 279.5L155.4 279.7L154.6 279.8L153.8 280.0L153.0 280.1L152.2 280.3L151.4 280.4L150.7 280.5L149.9 280.7L149.1 280.8L148.3 280.9L147.5 281.0L146.7 281.1L145.9 281.2L145.1 281.4L144.3 281.5L143.4 281.6L142.6 281.7L141.8 281.8L140.9 281.9L140.1 282.0L139.2 282.2L138.3 282.3L137.4 282.4L136.4 282.6L135.5 282.7L134.5 282.9L133.5 283.0L132.5 283.2L131.4 283.4L130.3 283.6L129.1 283.9L127.9 284.1L126.6 284.5L125.2 284.8L123.7 285.2L122.1 285.7L120.4 286.3L118.5 287.0L116.4 287.8L114.0 288.7L111.3 289.9L108.1 291.4L104.4 293.2L99.9 295.6L94.5 298.4L88.7 301.1L83.3 303.2L78.6 304.2L74.7 304.4L71.7 303.7L69.4 302.4L67.8 300.6L66.8 298.4L66.3 295.8L66.3 293.1L66.7 290.3L67.6 287.3L68.9 284.3L70.8 281.2L73.0 278.0L75.5 275.0L78.1 272.1L80.6 269.5L83.0 267.0L85.1 264.8L86.9 262.7L88.5 260.9L90.0 259.1L91.3 257.5L92.5 255.9L93.6 254.4L94.7 253.0L95.7 251.7Z" fill="#fde5a7"/>
<path d="M103.8 250.4L104.7 249.3L105.4 248.3L106.1 247.3L106.8 246.4L107.3 245.4L107.9 244.5L108.4 243.6L108.9 242.7L109.4 241.8L109.9 241.0L110.4 240.1L110.9 239.3L111.4 238.5L112.0 237.7L112.6 236.9L113.2 236.2L113.8 235.5L114.5 234.8L115.2 234.2L115.9 233.5L116.6 232.9L117.3 232.4L118.0 231.8L118.8 231.3L119.5 230.8L120.3 230.3L121.0 229.8L121.7 229.4L122.5 228.9L123.2 228.5L123.9 228.1L124.7 227.7L125.4 227.4L126.1 227.0L126.9 226.7L127.6 226.3L128.3 226.0L129.1 225.7L129.8 225.4L130.5 225.1L131.2 224.9L131.9 224.6L132.7 224.4L133.4 224.1L134.1 223.9L134.8 223.7L135.5 223.5L136.3 223.3L137.0 223.1L137.7 222.9L138.4 222.7L139.2 222.6L139.9 222.4L140.6 222.3L141.4 222.2L142.1 222.1L142.8 222.0L143.6 222.0L144.3 221.9L145.1 221.9L145.8 221.9L146.6 221.9L147.3 221.9L148.1 221.9L148.8 221.9L149.6 221.9L150.3 222.0L151.1 222.0L151.9 222.1L152.6 222.1L153.4 222.2L154.2 222.3L155.0 222.3L155.8 222.4L156.6 222.4L157.5 222.5L158.3 222.6L159.2 222.6L160.1 222.7L161.0 222.8L161.9 222.9L162.9 223.0L163.8 223.1L164.8 223.2L165.8 223.4L166.8 223.5L167.9 223.7L168.9 223.9L170.0 224.1L171.1 224.3L172.3 224.6L173.4 224.9L174.5 225.2L175.7 225.6L176.8 226.0L178.0 226.5L179.1 227.0L180.2 227.6L181.2 228.2L182.2 228.9L183.1 229.7L184.0 230.5L184.9 231.4L185.6 232.3L186.3 233.3L186.9 234.3L187.5 235.4L188.0 236.4L188.4 237.6L188.8 238.7L189.0 239.8L189.2 241.0L189.4 242.2L189.5 243.4L189.5 244.5L189.4 245.7L189.3 246.9L189.1 248.1L188.8 249.2L188.5 250.4L188.1 251.5L187.7 252.6L187.1 253.7L186.6 254.8L186.0 255.8L185.3 256.8L184.6 257.7L183.9 258.6L183.1 259.5L182.3 260.4L181.5 261.2L180.7 262.0L179.9 262.7L179.0 263.4L178.2 264.1L177.3 264.8L176.5 265.4L175.6 266.0L174.8 266.5L174.0 267.1L173.1 267.6L172.3 268.1L171.5 268.5L170.6 269.0L169.8 269.4L169.0 269.8L168.2 270.1L167.4 270.5L166.6 270.8L165.8 271.2L165.1 271.5L164.3 271.7L163.5 272.0L162.8 272.3L162.0 272.5L161.3 272.7L160.6 272.9L159.8 273.1L159.1 273.3L158.4 273.4L157.7 273.6L157.0 273.7L156.3 273.9L155.6 274.0L154.9 274.1L154.2 274.2L153.5 274.3L152.9 274.4L152.2 274.5L151.5 274.5L150.9 274.6L150.2 274.7L149.6 274.8L148.9 274.8L148.3 274.9L147.6 274.9L147.0 275.0L146.4 275.1L145.7 275.1L145.1 275.2L144.4 275.2L143.8 275.3L143.1 275.4L142.4 275.4L141.8 275.5L141.1 275.6L140.4 275.7L139.7 275.8L139.0 275.8L138.2 276.0L137.5 276.1L136.7 276.2L135.9 276.4L135.0 276.5L134.2 276.7L133.3 276.9L132.3 277.1L131.3 277.4L130.3 277.6L129.1 278.0L127.9 278.3L126.6 278.8L125.2 279.3L123.6 280.0L121.7 280.8L119.5 282.0L116.7 283.6L113.1 285.8L108.9 288.5L104.4 291.1L100.3 292.9L96.5 294.1L93.0 294.9L89.7 295.2L86.8 295.1L84.4 294.5L82.5 293.4L81.1 291.9L80.3 290.1L79.9 288.0L79.8 285.8L80.1 283.5L80.7 281.1L81.6 278.6L82.8 276.2L84.2 273.8L85.7 271.4L87.4 269.1L89.2 266.9L90.9 264.9L92.6 263.0L94.2 261.2L95.8 259.5L97.2 258.0L98.5 256.5L99.8 255.1L100.9 253.9L102.0 252.6L102.9 251.5Z" fill="#feb77e"/>
<path d="M106.7 250.4L107.4 249.4L108.0 248.4L108.7 247.5L109.3 246.6L110.0 245.8L110.6 244.9L111.2 244.1L111.8 243.3L112.5 242.6L113.1 241.8L113.7 241.1L114.3 240.4L114.9 239.7L115.5 239.0L116.1 238.4L116.7 237.8L117.3 237.2L118.0 236.6L118.6 236.0L119.2 235.4L119.8 234.9L120.4 234.4L121.1 233.9L121.7 233.4L122.3 232.9L122.9 232.5L123.6 232.0L124.2 231.6L124.8 231.2L125.5 230.8L126.1 230.4L126.8 230.0L127.4 229.7L128.0 229.4L128.7 229.0L129.3 228.7L130.0 228.4L130.6 228.1L131.3 227.9L131.9 227.6L132.6 227.3L133.2 227.1L133.8 226.9L134.5 226.6L135.1 226.4L135.8 226.2L136.4 226.0L137.1 225.8L137.7 225.6L138.4 225.5L139.0 225.3L139.7 225.2L140.4 225.0L141.0 224.9L141.7 224.7L142.4 224.6L143.0 224.5L143.7 224.4L144.4 224.3L145.1 224.2L145.8 224.1L146.4 224.1L147.1 224.0L147.8 224.0L148.6 223.9L149.3 223.9L150.0 223.9L150.7 223.8L151.4 223.8L152.2 223.9L152.9 223.9L153.7 223.9L154.4 224.0L155.2 224.0L156.0 224.1L156.7 224.2L157.5 224.3L158.3 224.4L159.1 224.5L159.9 224.7L160.7 224.8L161.5 225.0L162.3 225.2L163.2 225.5L164.0 225.7L164.8 226.0L165.6 226.3L166.5 226.6L167.3 227.0L168.1 227.3L168.9 227.7L169.8 228.2L170.6 228.6L171.4 229.1L172.2 229.6L173.0 230.1L173.7 230.7L174.5 231.3L175.2 231.9L175.9 232.6L176.6 233.2L177.3 234.0L178.0 234.7L178.6 235.5L179.2 236.2L179.8 237.1L180.3 237.9L180.8 238.8L181.2 239.7L181.6 240.6L182.0 241.5L182.3 242.5L182.5 243.5L182.7 244.4L182.7 245.4L182.8 246.4L182.7 247.4L182.6 248.4L182.4 249.4L182.1 250.4L181.8 251.3L181.3 252.3L180.9 253.2L180.3 254.1L179.7 255.0L179.1 255.8L178.5 256.6L177.9 257.4L177.2 258.1L176.5 258.8L175.8 259.5L175.1 260.2L174.4 260.8L173.7 261.4L173.0 262.0L172.4 262.5L171.7 263.1L171.0 263.6L170.3 264.1L169.6 264.6L169.0 265.0L168.3 265.5L167.7 265.9L167.0 266.3L166.4 266.7L165.7 267.1L165.1 267.5L164.4 267.8L163.8 268.1L163.1 268.4L162.5 268.7L161.8 269.0L161.1 269.2L160.5 269.4L159.8 269.6L159.1 269.7L158.4 269.8L157.8 269.9L157.1 270.0L156.4 270.1L155.8 270.2L155.2 270.2L154.5 270.2L153.9 270.3L153.3 270.3L152.7 270.3L152.1 270.3L151.5 270.3L151.0 270.4L150.4 270.4L149.9 270.4L149.3 270.4L148.8 270.4L148.2 270.4L147.7 270.4L147.2 270.4L146.6 270.4L146.1 270.4L145.6 270.4L145.1 270.4L144.5 270.4L144.0 270.4L143.5 270.5L143.0 270.5L142.4 270.5L141.9 270.5L141.3 270.6L140.8 270.7L140.2 270.7L139.6 270.8L139.0 270.9L138.4 271.0L137.7 271.1L137.1 271.2L136.4 271.4L135.7 271.5L134.9 271.8L134.1 272.0L133.2 272.3L132.2 272.6L131.2 273.1L130.0 273.6L128.7 274.2L127.3 274.9L125.6 275.8L123.6 276.8L121.3 278.2L118.7 279.7L115.7 281.3L112.5 282.9L109.3 284.3L106.1 285.4L103.0 286.3L100.0 286.9L97.1 287.2L94.3 287.3L91.8 287.0L89.7 286.3L88.1 285.3L87.1 283.9L86.8 282.0L87.3 279.8L88.2 277.5L89.5 275.1L90.9 272.8L92.4 270.6L93.8 268.5L95.2 266.6L96.6 264.8L97.8 263.1L99.0 261.5L100.0 260.0L101.0 258.5L102.0 257.2L102.9 255.9L103.7 254.7L104.5 253.6L105.3 252.5L106.0 251.4Z" fill="#fc8e64"/>
<path d="M111.7 250.4L112.4 249.5L112.9 248.7L113.5 247.9L114.1 247.1L114.6 246.4L115.1 245.6L115.7 244.9L116.2 244.2L116.7 243.6L117.2 242.9L117.7 242.3L118.2 241.7L118.7 241.0L119.2 240.4L119.7 239.9L120.2 239.3L120.7 238.8L121.2 238.2L121.7 237.7L122.2 237.2L122.7 236.7L123.2 236.2L123.8 235.7L124.3 235.3L124.8 234.8L125.3 234.4L125.9 234.0L126.4 233.6L127.0 233.2L127.5 232.9L128.1 232.5L128.7 232.2L129.2 231.8L129.8 231.5L130.4 231.2L131.0 231.0L131.5 230.7L132.1 230.5L132.7 230.2L133.3 230.0L133.9 229.8L134.5 229.6L135.1 229.4L135.7 229.3L136.3 229.1L136.8 229.0L137.4 228.8L138.0 228.7L138.6 228.6L139.2 228.5L139.8 228.4L140.4 228.3L141.0 228.2L141.5 228.2L142.1 228.1L142.7 228.1L143.3 228.0L143.9 228.0L144.5 227.9L145.1 227.9L145.7 227.9L146.2 227.9L146.8 227.9L147.4 227.9L148.0 227.9L148.6 227.9L149.2 228.0L149.8 228.0L150.4 228.1L151.0 228.1L151.7 228.2L152.3 228.2L152.9 228.3L153.5 228.4L154.1 228.5L154.8 228.6L155.4 228.7L156.1 228.8L156.7 229.0L157.4 229.1L158.0 229.2L158.7 229.4L159.4 229.6L160.0 229.8L160.7 230.0L161.4 230.2L162.1 230.4L162.8 230.7L163.5 230.9L164.2 231.2L165.0 231.5L165.7 231.8L166.4 232.2L167.1 232.5L167.8 232.9L168.6 233.3L169.3 233.7L170.0 234.2L170.7 234.7L171.4 235.2L172.1 235.7L172.7 236.3L173.4 236.9L174.0 237.5L174.5 238.2L175.1 238.9L175.6 239.6L176.0 240.3L176.4 241.1L176.8 241.9L177.1 242.7L177.3 243.5L177.4 244.4L177.5 245.2L177.6 246.1L177.5 247.0L177.4 247.8L177.3 248.7L177.0 249.6L176.8 250.4L176.5 251.2L176.1 252.0L175.7 252.8L175.3 253.6L174.8 254.3L174.4 255.0L173.9 255.7L173.4 256.4L172.9 257.1L172.4 257.7L171.8 258.3L171.3 258.9L170.7 259.5L170.2 260.0L169.6 260.6L169.0 261.1L168.5 261.5L167.9 262.0L167.3 262.5L166.7 262.9L166.1 263.3L165.5 263.7L164.9 264.0L164.3 264.4L163.7 264.7L163.1 265.0L162.5 265.3L161.9 265.6L161.3 265.8L160.7 266.0L160.1 266.2L159.4 266.3L158.8 266.5L158.2 266.6L157.6 266.7L157.0 266.8L156.4 266.9L155.8 267.0L155.3 267.0L154.7 267.1L154.2 267.1L153.6 267.2L153.1 267.2L152.6 267.2L152.0 267.2L151.5 267.2L151.0 267.2L150.5 267.3L150.1 267.3L149.6 267.3L149.1 267.3L148.7 267.3L148.2 267.3L147.7 267.3L147.3 267.3L146.9 267.3L146.4 267.4L146.0 267.4L145.5 267.4L145.1 267.5L144.6 267.5L144.2 267.5L143.7 267.6L143.3 267.6L142.8 267.7L142.3 267.8L141.8 267.8L141.3 267.9L140.8 268.0L140.3 268.1L139.8 268.2L139.2 268.4L138.6 268.5L138.1 268.7L137.4 268.8L136.8 269.0L136.1 269.2L135.4 269.4L134.6 269.7L133.8 269.9L132.9 270.2L132.0 270.6L130.9 270.9L129.8 271.3L128.6 271.8L127.3 272.3L125.8 272.9L124.2 273.6L122.3 274.3L120.3 275.2L118.0 276.1L115.5 277.0L112.8 278.0L109.9 278.9L107.0 279.6L104.2 280.1L101.7 280.2L99.6 279.9L98.1 279.2L97.0 278.1L96.4 276.8L96.2 275.3L96.3 273.6L96.9 271.9L97.6 270.0L98.6 268.2L99.6 266.5L100.7 264.8L101.8 263.2L102.9 261.7L104.0 260.2L105.1 258.9L106.1 257.6L107.1 256.4L108.0 255.3L108.9 254.2L109.7 253.2L110.4 252.2L111.1 251.3Z" fill="#f4675c"/>
<path d="M114.2 250.4L114.9 249.6L115.6 248.8L116.2 248.1L116.8 247.4L117.5 246.8L118.1 246.1L118.7 245.5L119.3 244.9L119.9 244.3L120.5 243.8L121.1 243.3L121.6 242.8L122.2 242.3L122.8 241.8L123.3 241.4L123.8 240.9L124.4 240.5L124.9 240.1L125.4 239.7L125.9 239.3L126.4 238.9L126.9 238.6L127.4 238.2L127.9 237.9L128.4 237.6L128.8 237.2L129.3 236.9L129.8 236.6L130.2 236.3L130.7 236.0L131.2 235.7L131.6 235.5L132.1 235.2L132.5 234.9L133.0 234.6L133.4 234.4L133.9 234.1L134.4 233.9L134.8 233.7L135.3 233.4L135.7 233.2L136.2 233.0L136.7 232.7L137.1 232.5L137.6 232.3L138.1 232.1L138.5 231.9L139.0 231.7L139.5 231.6L140.0 231.4L140.5 231.2L141.0 231.0L141.5 230.9L142.0 230.7L142.5 230.6L143.0 230.5L143.5 230.3L144.0 230.2L144.5 230.1L145.1 230.0L145.6 229.9L146.1 229.8L146.7 229.8L147.2 229.7L147.8 229.7L148.4 229.6L148.9 229.6L149.5 229.6L150.1 229.6L150.6 229.6L151.2 229.7L151.8 229.7L152.4 229.8L152.9 229.9L153.5 230.0L154.1 230.1L154.7 230.2L155.3 230.4L155.8 230.5L156.4 230.7L157.0 230.9L157.6 231.2L158.1 231.4L158.7 231.6L159.3 231.9L159.8 232.2L160.4 232.5L160.9 232.8L161.5 233.1L162.0 233.5L162.5 233.8L163.1 234.2L163.6 234.6L164.1 235.0L164.6 235.4L165.1 235.8L165.6 236.3L166.1 236.7L166.6 237.2L167.1 237.7L167.6 238.2L168.1 238.7L168.5 239.2L169.0 239.7L169.4 240.3L169.8 240.9L170.2 241.5L170.6 242.1L171.0 242.7L171.4 243.3L171.7 244.0L172.0 244.7L172.2 245.4L172.4 246.1L172.6 246.8L172.7 247.5L172.8 248.2L172.7 248.9L172.7 249.7L172.5 250.4L172.3 251.1L172.0 251.8L171.7 252.5L171.3 253.1L170.8 253.8L170.4 254.4L169.8 255.0L169.3 255.5L168.7 256.1L168.1 256.6L167.5 257.0L166.9 257.5L166.3 257.9L165.7 258.3L165.1 258.7L164.5 259.0L163.9 259.4L163.4 259.7L162.8 260.0L162.2 260.3L161.7 260.6L161.1 260.8L160.6 261.1L160.1 261.3L159.6 261.5L159.1 261.7L158.6 261.9L158.1 262.1L157.6 262.3L157.2 262.5L156.7 262.7L156.3 262.8L155.8 263.0L155.4 263.1L155.0 263.3L154.6 263.4L154.1 263.6L153.7 263.7L153.3 263.9L152.9 264.0L152.5 264.1L152.1 264.2L151.7 264.4L151.3 264.5L151.0 264.6L150.6 264.7L150.2 264.8L149.8 264.9L149.4 265.0L149.0 265.1L148.6 265.2L148.2 265.3L147.9 265.4L147.5 265.5L147.1 265.7L146.7 265.7L146.3 265.8L145.9 265.9L145.5 266.0L145.1 266.1L144.7 266.2L144.2 266.3L143.8 266.4L143.4 266.5L142.9 266.6L142.5 266.7L142.0 266.8L141.6 266.9L141.1 267.0L140.6 267.1L140.1 267.2L139.6 267.3L139.0 267.4L138.5 267.5L137.9 267.6L137.4 267.7L136.8 267.8L136.2 267.9L135.5 268.0L134.8 268.1L134.1 268.2L133.4 268.3L132.6 268.5L131.8 268.6L131.0 268.7L130.1 268.9L129.1 269.1L128.1 269.3L127.0 269.5L125.7 269.7L124.4 270.0L122.9 270.3L121.2 270.8L119.2 271.3L116.8 272.1L113.8 273.1L110.7 274.0L108.2 274.3L106.8 273.9L106.0 272.9L105.7 271.8L105.6 270.5L105.6 269.2L105.7 267.9L105.9 266.6L106.2 265.3L106.5 264.0L106.9 262.8L107.4 261.5L107.9 260.3L108.5 259.2L109.0 258.0L109.7 257.0L110.3 255.9L110.9 254.9L111.6 253.9L112.2 253.0L112.9 252.1L113.6 251.2Z" fill="#db476a"/>
<path d="M118.8 250.4L119.3 249.7L119.8 249.1L120.3 248.4L120.8 247.8L121.2 247.2L121.7 246.7L122.1 246.1L122.6 245.6L123.0 245.1L123.5 244.6L123.9 244.1L124.3 243.6L124.7 243.2L125.2 242.8L125.6 242.3L126.0 241.9L126.5 241.5L126.9 241.1L127.3 240.8L127.7 240.4L128.2 240.0L128.6 239.7L129.1 239.4L129.5 239.1L129.9 238.8L130.4 238.5L130.8 238.2L131.3 238.0L131.7 237.7L132.2 237.5L132.6 237.3L133.0 237.0L133.5 236.8L133.9 236.6L134.4 236.5L134.8 236.3L135.3 236.1L135.7 236.0L136.1 235.8L136.6 235.7L137.0 235.5L137.4 235.4L137.9 235.3L138.3 235.2L138.7 235.1L139.1 234.9L139.6 234.8L140.0 234.8L140.4 234.7L140.8 234.6L141.3 234.5L141.7 234.4L142.1 234.4L142.5 234.3L142.9 234.2L143.4 234.2L143.8 234.1L144.2 234.1L144.6 234.0L145.1 234.0L145.5 233.9L145.9 233.9L146.4 233.9L146.8 233.9L147.2 233.8L147.7 233.8L148.1 233.8L148.6 233.8L149.0 233.8L149.5 233.8L150.0 233.8L150.4 233.9L150.9 233.9L151.4 233.9L151.9 234.0L152.3 234.0L152.8 234.1L153.3 234.2L153.8 234.3L154.3 234.4L154.8 234.5L155.3 234.6L155.8 234.7L156.4 234.8L156.9 235.0L157.4 235.2L157.9 235.4L158.4 235.6L158.9 235.8L159.4 236.0L159.9 236.3L160.4 236.5L160.9 236.8L161.4 237.1L161.9 237.5L162.4 237.8L162.8 238.2L163.3 238.6L163.7 239.0L164.1 239.4L164.5 239.8L164.9 240.3L165.2 240.8L165.6 241.3L165.9 241.8L166.2 242.3L166.5 242.8L166.7 243.3L167.0 243.9L167.2 244.5L167.4 245.0L167.5 245.6L167.7 246.2L167.8 246.8L167.8 247.4L167.8 248.0L167.8 248.6L167.8 249.2L167.7 249.8L167.5 250.4L167.3 251.0L167.0 251.5L166.7 252.1L166.4 252.6L166.0 253.1L165.6 253.6L165.2 254.1L164.8 254.6L164.3 255.0L163.8 255.4L163.3 255.8L162.8 256.2L162.4 256.5L161.9 256.8L161.4 257.1L160.9 257.4L160.4 257.7L159.9 258.0L159.4 258.2L159.0 258.4L158.5 258.6L158.1 258.8L157.6 259.0L157.2 259.2L156.8 259.4L156.4 259.6L156.0 259.7L155.6 259.9L155.2 260.0L154.8 260.1L154.5 260.3L154.1 260.4L153.7 260.5L153.4 260.6L153.0 260.8L152.7 260.9L152.3 261.0L152.0 261.1L151.7 261.2L151.3 261.3L151.0 261.4L150.7 261.4L150.4 261.5L150.1 261.6L149.8 261.7L149.4 261.8L149.1 261.9L148.8 262.0L148.5 262.0L148.2 262.1L147.9 262.2L147.6 262.2L147.3 262.3L147.0 262.4L146.7 262.5L146.3 262.5L146.0 262.6L145.7 262.7L145.4 262.7L145.1 262.8L144.7 262.9L144.4 262.9L144.1 263.0L143.7 263.1L143.4 263.1L143.0 263.2L142.7 263.3L142.3 263.3L141.9 263.4L141.6 263.4L141.2 263.5L140.8 263.6L140.4 263.6L140.0 263.7L139.5 263.8L139.1 263.9L138.6 263.9L138.1 264.0L137.6 264.1L137.1 264.2L136.6 264.2L136.0 264.3L135.4 264.4L134.8 264.5L134.2 264.6L133.5 264.7L132.7 264.8L131.9 265.0L131.1 265.1L130.1 265.3L129.1 265.6L127.9 265.9L126.4 266.3L124.5 267.0L121.3 268.7L118.3 269.8L116.4 270.1L115.1 269.8L114.1 269.4L113.3 268.8L112.6 268.0L112.1 267.2L111.8 266.3L111.6 265.3L111.7 264.2L111.8 263.1L112.1 262.1L112.5 261.0L112.9 259.9L113.4 258.9L113.9 257.9L114.5 256.9L115.0 256.0L115.6 255.1L116.1 254.2L116.7 253.4L117.2 252.6L117.7 251.8L118.3 251.1Z" fill="#ae347b"/>
<path d="M122.3 250.4L122.6 249.8L123.0 249.2L123.4 248.7L123.7 248.1L124.1 247.6L124.5 247.1L124.8 246.6L125.2 246.2L125.6 245.7L126.0 245.3L126.4 244.9L126.8 244.5L127.2 244.1L127.6 243.7L128.0 243.3L128.4 243.0L128.8 242.6L129.2 242.3L129.6 242.0L130.0 241.7L130.4 241.4L130.8 241.1L131.2 240.8L131.6 240.6L131.9 240.3L132.3 240.1L132.7 239.8L133.1 239.6L133.5 239.4L133.9 239.2L134.3 239.0L134.6 238.8L135.0 238.6L135.4 238.5L135.8 238.3L136.2 238.1L136.5 238.0L136.9 237.8L137.3 237.7L137.7 237.6L138.0 237.4L138.4 237.3L138.8 237.2L139.1 237.1L139.5 237.0L139.9 236.9L140.3 236.8L140.6 236.7L141.0 236.6L141.4 236.5L141.7 236.5L142.1 236.4L142.5 236.3L142.8 236.3L143.2 236.2L143.6 236.2L143.9 236.1L144.3 236.1L144.7 236.1L145.1 236.1L145.4 236.0L145.8 236.0L146.2 236.0L146.6 236.0L147.0 236.0L147.3 236.0L147.7 236.0L148.1 236.1L148.5 236.1L148.9 236.1L149.3 236.2L149.7 236.2L150.1 236.3L150.4 236.4L150.8 236.5L151.2 236.5L151.6 236.6L152.0 236.8L152.4 236.9L152.8 237.0L153.2 237.1L153.6 237.3L154.0 237.4L154.3 237.6L154.7 237.8L155.1 238.0L155.5 238.2L155.8 238.4L156.2 238.6L156.6 238.9L156.9 239.1L157.3 239.4L157.6 239.7L157.9 240.0L158.3 240.3L158.6 240.6L158.9 240.9L159.2 241.2L159.5 241.6L159.7 241.9L160.0 242.3L160.3 242.6L160.5 243.0L160.8 243.4L161.0 243.8L161.2 244.2L161.4 244.6L161.6 245.0L161.8 245.4L161.9 245.9L162.1 246.3L162.2 246.7L162.3 247.2L162.4 247.6L162.4 248.1L162.5 248.6L162.5 249.0L162.5 249.5L162.4 249.9L162.4 250.4L162.2 250.8L162.1 251.3L161.9 251.7L161.7 252.1L161.4 252.5L161.1 252.9L160.7 253.3L160.4 253.6L160.0 254.0L159.6 254.3L159.2 254.6L158.8 254.8L158.3 255.1L157.9 255.3L157.5 255.5L157.1 255.7L156.7 255.9L156.3 256.1L155.9 256.3L155.5 256.4L155.1 256.5L154.7 256.7L154.4 256.8L154.1 256.9L153.7 257.0L153.4 257.1L153.1 257.2L152.8 257.3L152.5 257.4L152.2 257.5L151.9 257.6L151.6 257.7L151.3 257.7L151.1 257.8L150.8 257.9L150.6 257.9L150.3 258.0L150.1 258.1L149.8 258.1L149.6 258.2L149.3 258.3L149.1 258.3L148.9 258.4L148.7 258.4L148.4 258.5L148.2 258.6L148.0 258.6L147.8 258.7L147.5 258.7L147.3 258.8L147.1 258.8L146.9 258.9L146.7 258.9L146.4 259.0L146.2 259.0L146.0 259.1L145.8 259.1L145.5 259.2L145.3 259.2L145.1 259.3L144.8 259.4L144.6 259.4L144.4 259.5L144.1 259.5L143.9 259.6L143.6 259.7L143.3 259.7L143.1 259.8L142.8 259.9L142.5 259.9L142.2 260.0L141.9 260.1L141.6 260.2L141.3 260.2L141.0 260.3L140.6 260.4L140.2 260.5L139.9 260.6L139.5 260.7L139.1 260.8L138.6 260.9L138.2 261.0L137.7 261.1L137.2 261.3L136.6 261.4L136.0 261.6L135.4 261.7L134.7 261.9L133.9 262.1L133.1 262.3L132.2 262.6L131.3 262.8L130.2 263.1L129.0 263.4L127.7 263.7L126.3 264.0L124.9 264.3L123.2 264.6L121.5 264.9L120.3 264.7L119.6 264.2L119.3 263.5L119.1 262.8L119.1 262.0L119.1 261.2L119.1 260.3L119.2 259.5L119.3 258.7L119.5 258.0L119.6 257.2L119.8 256.4L120.0 255.7L120.3 255.0L120.5 254.3L120.8 253.6L121.0 252.9L121.3 252.3L121.7 251.6L122.0 251.0Z" fill="#7c2382"/>
<path d="M127.9 250.4L128.2 249.9L128.5 249.5L128.8 249.1L129.0 248.7L129.3 248.3L129.6 247.9L129.9 247.6L130.2 247.2L130.5 246.9L130.8 246.6L131.1 246.2L131.4 245.9L131.7 245.6L132.0 245.4L132.2 245.1L132.5 244.8L132.8 244.5L133.1 244.3L133.4 244.0L133.7 243.8L134.0 243.6L134.2 243.4L134.5 243.1L134.8 242.9L135.1 242.7L135.4 242.5L135.6 242.3L135.9 242.1L136.2 242.0L136.5 241.8L136.7 241.6L137.0 241.5L137.3 241.3L137.6 241.1L137.9 241.0L138.1 240.8L138.4 240.7L138.7 240.6L139.0 240.4L139.2 240.3L139.5 240.2L139.8 240.1L140.1 240.0L140.4 239.8L140.7 239.7L140.9 239.6L141.2 239.5L141.5 239.5L141.8 239.4L142.1 239.3L142.4 239.2L142.7 239.2L143.0 239.1L143.3 239.0L143.6 239.0L143.9 239.0L144.2 238.9L144.5 238.9L144.8 238.9L145.1 238.9L145.4 238.8L145.7 238.8L146.0 238.8L146.3 238.9L146.6 238.9L146.9 238.9L147.2 238.9L147.5 239.0L147.8 239.0L148.1 239.1L148.4 239.1L148.7 239.2L149.0 239.3L149.3 239.3L149.6 239.4L149.9 239.5L150.2 239.6L150.5 239.7L150.8 239.8L151.1 239.9L151.4 240.0L151.7 240.2L152.0 240.3L152.3 240.4L152.6 240.6L152.9 240.7L153.2 240.9L153.5 241.0L153.8 241.2L154.1 241.4L154.4 241.6L154.6 241.8L154.9 242.0L155.2 242.2L155.5 242.4L155.8 242.6L156.0 242.8L156.3 243.1L156.6 243.3L156.8 243.6L157.1 243.9L157.3 244.1L157.6 244.4L157.8 244.7L158.0 245.0L158.2 245.3L158.4 245.7L158.6 246.0L158.8 246.3L158.9 246.7L159.1 247.0L159.2 247.4L159.2 247.8L159.3 248.1L159.3 248.5L159.2 248.9L159.2 249.3L159.1 249.7L159.0 250.0L158.8 250.4L158.6 250.7L158.4 251.1L158.2 251.4L158.0 251.7L157.7 252.1L157.4 252.3L157.1 252.6L156.8 252.9L156.5 253.1L156.2 253.4L155.9 253.6L155.6 253.8L155.3 254.0L155.0 254.2L154.7 254.4L154.4 254.5L154.1 254.7L153.8 254.8L153.5 255.0L153.2 255.1L153.0 255.2L152.7 255.3L152.4 255.4L152.2 255.5L151.9 255.6L151.7 255.7L151.4 255.8L151.2 255.9L151.0 256.0L150.7 256.1L150.5 256.1L150.3 256.2L150.1 256.3L149.9 256.3L149.7 256.4L149.5 256.5L149.3 256.5L149.1 256.6L148.9 256.7L148.7 256.7L148.5 256.8L148.3 256.8L148.2 256.9L148.0 256.9L147.8 257.0L147.6 257.0L147.4 257.1L147.3 257.1L147.1 257.2L146.9 257.2L146.7 257.3L146.5 257.3L146.4 257.4L146.2 257.4L146.0 257.5L145.8 257.5L145.6 257.6L145.4 257.6L145.3 257.7L145.1 257.7L144.9 257.8L144.7 257.8L144.5 257.9L144.3 257.9L144.1 258.0L143.9 258.0L143.6 258.1L143.4 258.1L143.2 258.2L143.0 258.2L142.7 258.3L142.5 258.3L142.2 258.4L142.0 258.4L141.7 258.5L141.4 258.6L141.1 258.6L140.8 258.7L140.5 258.7L140.2 258.8L139.9 258.8L139.5 258.9L139.2 259.0L138.8 259.0L138.4 259.1L138.0 259.1L137.5 259.2L137.1 259.3L136.6 259.3L136.1 259.4L135.6 259.4L135.0 259.4L134.4 259.5L133.8 259.5L133.2 259.5L132.5 259.5L131.8 259.5L131.2 259.4L130.5 259.3L129.8 259.2L129.1 259.0L128.5 258.8L127.9 258.6L127.4 258.2L127.0 257.9L126.7 257.4L126.4 257.0L126.3 256.5L126.2 256.0L126.2 255.5L126.2 254.9L126.3 254.4L126.4 253.8L126.6 253.3L126.7 252.8L126.9 252.3L127.2 251.8L127.4 251.3L127.7 250.8Z" fill="#440f76"/>
<path d="M135.0 250.4L135.3 250.1L135.6 249.9L135.9 249.7L136.2 249.5L136.4 249.3L136.7 249.1L137.0 248.9L137.2 248.7L137.5 248.6L137.7 248.4L138.0 248.3L138.2 248.1L138.4 248.0L138.6 247.9L138.8 247.8L139.0 247.7L139.2 247.6L139.4 247.5L139.5 247.4L139.7 247.3L139.9 247.2L140.1 247.1L140.2 247.0L140.4 247.0L140.5 246.9L140.7 246.8L140.8 246.8L141.0 246.7L141.1 246.6L141.2 246.6L141.4 246.5L141.5 246.4L141.6 246.4L141.8 246.3L141.9 246.3L142.0 246.2L142.2 246.1L142.3 246.1L142.4 246.0L142.5 246.0L142.7 245.9L142.8 245.9L142.9 245.8L143.0 245.8L143.1 245.7L143.3 245.7L143.4 245.6L143.5 245.6L143.6 245.5L143.8 245.5L143.9 245.4L144.0 245.4L144.1 245.4L144.3 245.3L144.4 245.3L144.5 245.2L144.7 245.2L144.8 245.1L144.9 245.1L145.1 245.0L145.2 245.0L145.4 244.9L145.5 244.9L145.7 244.8L145.8 244.8L146.0 244.7L146.1 244.7L146.3 244.6L146.5 244.6L146.6 244.5L146.8 244.5L147.0 244.4L147.2 244.4L147.4 244.3L147.6 244.3L147.8 244.2L148.0 244.2L148.3 244.1L148.5 244.0L148.8 244.0L149.0 243.9L149.3 243.9L149.6 243.8L149.9 243.8L150.2 243.7L150.5 243.7L150.8 243.7L151.2 243.6L151.5 243.6L151.9 243.6L152.2 243.6L152.6 243.6L153.0 243.6L153.4 243.6L153.8 243.7L154.2 243.8L154.6 243.9L154.9 244.0L155.3 244.1L155.6 244.3L155.9 244.5L156.2 244.7L156.4 245.0L156.6 245.3L156.7 245.6L156.8 245.9L156.9 246.2L157.0 246.5L157.0 246.9L157.0 247.2L157.0 247.5L156.9 247.9L156.9 248.2L156.8 248.5L156.7 248.9L156.6 249.2L156.5 249.5L156.3 249.8L156.2 250.1L156.0 250.4L155.9 250.7L155.7 250.9L155.5 251.2L155.3 251.5L155.1 251.7L154.9 251.9L154.7 252.2L154.5 252.4L154.3 252.6L154.0 252.8L153.8 253.0L153.6 253.1L153.3 253.3L153.1 253.5L152.9 253.6L152.6 253.8L152.4 253.9L152.2 254.0L152.0 254.1L151.8 254.3L151.5 254.4L151.3 254.5L151.1 254.6L150.9 254.6L150.7 254.7L150.5 254.8L150.3 254.9L150.1 255.0L150.0 255.0L149.8 255.1L149.6 255.2L149.4 255.2L149.2 255.3L149.1 255.3L148.9 255.4L148.7 255.4L148.6 255.5L148.4 255.5L148.2 255.6L148.1 255.6L147.9 255.7L147.8 255.7L147.6 255.7L147.5 255.8L147.3 255.8L147.2 255.8L147.0 255.9L146.9 255.9L146.7 255.9L146.6 256.0L146.4 256.0L146.3 256.0L146.1 256.1L146.0 256.1L145.8 256.1L145.7 256.1L145.5 256.2L145.4 256.2L145.2 256.2L145.1 256.2L144.9 256.3L144.8 256.3L144.6 256.3L144.4 256.3L144.3 256.3L144.1 256.3L144.0 256.4L143.8 256.4L143.6 256.4L143.5 256.4L143.3 256.4L143.1 256.4L142.9 256.5L142.7 256.5L142.5 256.5L142.4 256.5L142.2 256.5L142.0 256.5L141.7 256.5L141.5 256.5L141.3 256.5L141.1 256.5L140.9 256.5L140.6 256.5L140.4 256.5L140.1 256.5L139.9 256.5L139.6 256.5L139.3 256.5L139.0 256.4L138.7 256.4L138.4 256.4L138.1 256.3L137.8 256.3L137.4 256.2L137.1 256.2L136.7 256.1L136.4 256.0L136.0 255.9L135.6 255.8L135.3 255.7L134.9 255.6L134.5 255.4L134.2 255.2L133.9 255.0L133.6 254.8L133.3 254.6L133.1 254.3L132.9 254.0L132.9 253.7L132.9 253.3L133.0 253.0L133.1 252.6L133.3 252.3L133.5 251.9L133.8 251.6L134.0 251.3L134.3 250.9L134.6 250.7Z" fill="#0c0926"/>
<rect x="18.6" y="185.3" width="219.4" height="146.5" fill="none" stroke="#808080" stroke-width="0.70"/>
<line x1="42.0" y1="331.8" x2="42.0" y2="332.8" stroke="#444" stroke-width="0.35"/>
<text class="tk tx" x="42.0" y="335.6">166</text>
<line x1="67.6" y1="331.8" x2="67.6" y2="332.8" stroke="#444" stroke-width="0.35"/>
<text class="tk tx" x="67.6" y="335.6">167</text>
<line x1="93.2" y1="331.8" x2="93.2" y2="332.8" stroke="#444" stroke-width="0.35"/>
<text class="tk tx" x="93.2" y="335.6">168</text>
<line x1="118.8" y1="331.8" x2="118.8" y2="332.8" stroke="#444" stroke-width="0.35"/>
<text class="tk tx" x="118.8" y="335.6">169</text>
<line x1="144.4" y1="331.8" x2="144.4" y2="332.8" stroke="#444" stroke-width="0.35"/>
<text class="tk tx" x="144.4" y="335.6">170</text>
<line x1="170.0" y1="331.8" x2="170.0" y2="332.8" stroke="#444" stroke-width="0.35"/>
<text class="tk tx" x="170.0" y="335.6">171</text>
<line x1="195.6" y1="331.8" x2="195.6" y2="332.8" stroke="#444" stroke-width="0.35"/>
<text class="tk tx" x="195.6" y="335.6">172</text>
<line x1="221.2" y1="331.8" x2="221.2" y2="332.8" stroke="#444" stroke-width="0.35"/>
<text class="tk tx" x="221.2" y="335.6">173</text>
<line x1="17.6" y1="198.0" x2="18.6" y2="198.0" stroke="#444" stroke-width="0.35"/>
<text class="tk ty" x="17.0" y="198.8">120.0</text>
<line x1="17.6" y1="215.1" x2="18.6" y2="215.1" stroke="#444" stroke-width="0.35"/>
<text class="tk ty" x="17.0" y="215.9">117.5</text>
<line x1="17.6" y1="232.1" x2="18.6" y2="232.1" stroke="#444" stroke-width="0.35"/>
<text class="tk ty" x="17.0" y="232.9">115.0</text>
<line x1="17.6" y1="249.2" x2="18.6" y2="249.2" stroke="#444" stroke-width="0.35"/>
<text class="tk ty" x="17.0" y="250.0">112.5</text>
<line x1="17.6" y1="266.2" x2="18.6" y2="266.2" stroke="#444" stroke-width="0.35"/>
<text class="tk ty" x="17.0" y="267.0">110.0</text>
<line x1="17.6" y1="283.2" x2="18.6" y2="283.2" stroke="#444" stroke-width="0.35"/>
<text class="tk ty" x="17.0" y="284.1">107.5</text>
<line x1="17.6" y1="300.3" x2="18.6" y2="300.3" stroke="#444" stroke-width="0.35"/>
<text class="tk ty" x="17.0" y="301.1">105.0</text>
<line x1="17.6" y1="317.4" x2="18.6" y2="317.4" stroke="#444" stroke-width="0.35"/>
<text class="tk ty" x="17.0" y="318.2">102.5</text>
<text class="tt" x="128.5" y="184.0">R248G</text>
<text class="al" x="128.0" y="342.5">RG</text>
<text class="al" transform="translate(8.5 258.5) rotate(-90)">SASA</text>
<text class="pl" transform="translate(4.3 191.0) scale(0.84 1)">C</text>
<rect x="252.0" y="315.58" width="7.2" height="16.27" fill="#fde5a7"/>
<rect x="252.0" y="299.36" width="7.2" height="16.27" fill="#feb77e"/>
<rect x="252.0" y="283.13" width="7.2" height="16.27" fill="#fc8e64"/>
<rect x="252.0" y="266.91" width="7.2" height="16.27" fill="#f4675c"/>
<rect x="252.0" y="250.69" width="7.2" height="16.27" fill="#db476a"/>
<rect x="252.0" y="234.47" width="7.2" height="16.27" fill="#ae347b"/>
<rect x="252.0" y="218.24" width="7.2" height="16.27" fill="#7c2382"/>
<rect x="252.0" y="202.02" width="7.2" height="16.27" fill="#440f76"/>
<rect x="252.0" y="185.80" width="7.2" height="16.27" fill="#0c0926"/>
<rect x="252.0" y="185.8" width="7.2" height="146.0" fill="none" stroke="#666" stroke-width="0.4"/>
<line x1="259.2" y1="331.80" x2="260.2" y2="331.80" stroke="#444" stroke-width="0.35"/>
<text class="tk" x="261.0" y="332.60">0.421</text>
<line x1="259.2" y1="315.58" x2="260.2" y2="315.58" stroke="#444" stroke-width="0.35"/>
<text class="tk" x="261.0" y="316.38">1.190</text>
<line x1="259.2" y1="299.36" x2="260.2" y2="299.36" stroke="#444" stroke-width="0.35"/>
<text class="tk" x="261.0" y="300.16">1.879</text>
<line x1="259.2" y1="283.13" x2="260.2" y2="283.13" stroke="#444" stroke-width="0.35"/>
<text class="tk" x="261.0" y="283.93">2.521</text>
<line x1="259.2" y1="266.91" x2="260.2" y2="266.91" stroke="#444" stroke-width="0.35"/>
<text class="tk" x="261.0" y="267.71">3.082</text>
<line x1="259.2" y1="250.69" x2="260.2" y2="250.69" stroke="#444" stroke-width="0.35"/>
<text class="tk" x="261.0" y="251.49">3.879</text>
<line x1="259.2" y1="234.47" x2="260.2" y2="234.47" stroke="#444" stroke-width="0.35"/>
<text class="tk" x="261.0" y="235.27">4.726</text>
<line x1="259.2" y1="218.24" x2="260.2" y2="218.24" stroke="#444" stroke-width="0.35"/>
<text class="tk" x="261.0" y="219.04">5.690</text>
<line x1="259.2" y1="202.02" x2="260.2" y2="202.02" stroke="#444" stroke-width="0.35"/>
<text class="tk" x="261.0" y="202.82">6.823</text>
<line x1="259.2" y1="185.80" x2="260.2" y2="185.80" stroke="#444" stroke-width="0.35"/>
<text class="tk" x="261.0" y="186.60">7.922</text>
</g>
<g>
<path d="M354.7 268.9L355.0 267.7L355.4 266.5L355.8 265.4L356.2 264.2L356.7 263.1L357.2 262.0L357.7 260.9L358.2 259.8L358.8 258.8L359.4 257.7L360.1 256.8L360.7 255.8L361.4 254.9L362.1 253.9L362.8 253.1L363.6 252.2L364.3 251.4L365.1 250.5L365.9 249.8L366.6 249.0L367.4 248.3L368.2 247.5L369.1 246.9L369.9 246.2L370.7 245.5L371.5 244.9L372.4 244.3L373.2 243.7L374.0 243.2L374.9 242.6L375.7 242.1L376.6 241.6L377.4 241.1L378.2 240.6L379.1 240.2L379.9 239.7L380.8 239.3L381.6 238.8L382.5 238.4L383.3 238.0L384.2 237.6L385.0 237.3L385.9 236.9L386.7 236.5L387.6 236.2L388.5 235.8L389.3 235.5L390.2 235.1L391.1 234.8L391.9 234.4L392.8 234.1L393.7 233.7L394.6 233.4L395.5 233.0L396.4 232.6L397.3 232.2L398.3 231.9L399.2 231.5L400.2 231.0L401.2 230.6L402.2 230.2L403.2 229.7L404.3 229.2L405.4 228.7L406.5 228.2L407.7 227.6L408.9 227.1L410.2 226.5L411.5 225.9L412.9 225.3L414.3 224.6L415.8 224.0L417.3 223.3L418.9 222.7L420.6 222.1L422.3 221.4L424.1 220.8L426.0 220.3L427.9 219.7L429.9 219.3L431.9 218.9L433.9 218.5L436.0 218.3L438.1 218.1L440.2 218.1L442.3 218.2L444.4 218.4L446.4 218.7L448.5 219.1L450.4 219.7L452.4 220.4L454.2 221.2L456.0 222.1L457.7 223.2L459.3 224.3L460.8 225.6L462.1 227.0L463.4 228.5L464.4 230.2L465.4 231.9L466.1 233.7L466.7 235.5L467.2 237.4L467.5 239.4L467.6 241.4L467.5 243.5L467.3 245.5L467.0 247.5L466.5 249.6L466.0 251.6L465.3 253.5L464.5 255.5L463.6 257.4L462.7 259.2L461.7 261.0L460.6 262.7L459.5 264.3L458.4 265.9L457.2 267.5L456.0 268.9L454.8 270.3L453.6 271.7L452.4 273.0L451.1 274.2L449.9 275.3L448.7 276.4L447.4 277.5L446.2 278.5L445.0 279.5L443.8 280.4L442.6 281.2L441.5 282.0L440.3 282.8L439.2 283.5L438.1 284.2L437.0 284.9L435.9 285.5L434.9 286.1L433.8 286.7L432.8 287.2L431.8 287.7L430.8 288.2L429.9 288.6L428.9 289.1L428.0 289.5L427.1 289.9L426.2 290.3L425.3 290.6L424.4 291.0L423.6 291.3L422.7 291.6L421.9 292.0L421.1 292.3L420.3 292.5L419.5 292.8L418.7 293.1L418.0 293.3L417.2 293.6L416.4 293.8L415.7 294.1L415.0 294.3L414.2 294.5L413.5 294.8L412.8 295.0L412.1 295.2L411.3 295.4L410.6 295.6L409.9 295.9L409.2 296.1L408.5 296.3L407.8 296.5L407.1 296.7L406.4 296.9L405.6 297.1L404.9 297.3L404.2 297.5L403.4 297.7L402.7 298.0L401.9 298.2L401.2 298.4L400.4 298.6L399.6 298.8L398.8 299.0L398.0 299.2L397.2 299.4L396.3 299.6L395.5 299.8L394.6 300.0L393.7 300.2L392.8 300.3L391.8 300.5L390.9 300.6L389.9 300.7L388.9 300.8L387.9 300.9L386.9 300.9L385.9 301.0L384.9 300.9L383.8 300.9L382.8 300.8L381.7 300.7L380.7 300.5L379.6 300.3L378.5 300.1L377.5 299.8L376.4 299.5L375.4 299.1L374.3 298.8L373.2 298.4L372.1 298.0L371.0 297.5L369.9 297.1L368.8 296.6L367.6 296.1L366.5 295.6L365.3 295.0L364.1 294.4L363.0 293.7L361.8 293.0L360.7 292.3L359.7 291.5L358.7 290.6L357.8 289.6L357.0 288.6L356.3 287.5L355.7 286.4L355.1 285.2L354.7 284.0L354.3 282.8L354.1 281.6L353.9 280.3L353.7 279.0L353.7 277.7L353.7 276.5L353.7 275.2L353.8 273.9L354.0 272.6L354.2 271.4L354.4 270.2Z" fill="#feede9"/>
<path d="M360.9 268.9L361.3 267.9L361.7 266.9L362.1 265.9L362.6 264.9L363.1 263.9L363.6 263.0L364.1 262.1L364.6 261.2L365.2 260.3L365.7 259.4L366.3 258.6L366.9 257.8L367.5 257.0L368.1 256.2L368.8 255.5L369.4 254.8L370.0 254.1L370.7 253.4L371.3 252.7L372.0 252.1L372.6 251.4L373.3 250.8L374.0 250.2L374.6 249.6L375.3 249.1L376.0 248.5L376.6 248.0L377.3 247.5L378.0 246.9L378.7 246.4L379.4 246.0L380.1 245.5L380.7 245.0L381.4 244.6L382.1 244.1L382.8 243.7L383.5 243.2L384.2 242.8L384.9 242.4L385.6 242.0L386.3 241.5L387.0 241.1L387.7 240.7L388.4 240.3L389.2 240.0L389.9 239.6L390.6 239.2L391.4 238.8L392.1 238.4L392.9 238.0L393.7 237.6L394.4 237.2L395.2 236.8L396.0 236.4L396.8 236.1L397.7 235.6L398.5 235.3L399.4 234.8L400.3 234.4L401.2 234.0L402.1 233.6L403.0 233.2L404.0 232.8L405.0 232.4L406.0 231.9L407.1 231.5L408.2 231.1L409.3 230.7L410.4 230.3L411.6 229.9L412.8 229.5L414.1 229.2L415.4 228.9L416.7 228.6L418.0 228.3L419.4 228.0L420.8 227.8L422.2 227.7L423.6 227.6L425.1 227.6L426.5 227.6L428.0 227.7L429.4 227.8L430.9 228.1L432.3 228.3L433.8 228.7L435.2 229.1L436.6 229.6L438.0 230.1L439.4 230.7L440.8 231.3L442.2 232.0L443.5 232.7L444.8 233.6L446.1 234.5L447.3 235.4L448.4 236.5L449.4 237.6L450.4 238.8L451.2 240.0L451.9 241.4L452.5 242.8L452.9 244.3L453.2 245.8L453.3 247.3L453.4 248.9L453.3 250.5L453.1 252.1L452.8 253.6L452.4 255.2L451.9 256.7L451.4 258.3L450.7 259.7L450.1 261.2L449.3 262.6L448.6 263.9L447.8 265.3L447.0 266.5L446.1 267.8L445.2 268.9L444.4 270.1L443.5 271.1L442.5 272.2L441.6 273.2L440.7 274.1L439.8 275.0L438.9 275.9L438.0 276.8L437.1 277.5L436.2 278.3L435.3 279.0L434.4 279.7L433.5 280.4L432.6 281.0L431.8 281.6L431.0 282.2L430.1 282.7L429.3 283.3L428.5 283.7L427.7 284.2L426.9 284.7L426.1 285.1L425.3 285.5L424.6 285.9L423.8 286.3L423.1 286.7L422.4 287.0L421.7 287.4L421.0 287.7L420.2 288.0L419.6 288.3L418.9 288.6L418.2 288.9L417.5 289.1L416.9 289.4L416.2 289.6L415.6 289.9L414.9 290.1L414.3 290.4L413.7 290.6L413.1 290.8L412.4 291.0L411.8 291.2L411.2 291.5L410.6 291.6L410.0 291.8L409.4 292.1L408.8 292.2L408.1 292.4L407.5 292.6L406.9 292.8L406.3 293.0L405.7 293.2L405.0 293.4L404.4 293.6L403.8 293.8L403.1 294.0L402.5 294.2L401.8 294.3L401.2 294.5L400.5 294.7L399.8 294.9L399.1 295.1L398.4 295.3L397.7 295.5L396.9 295.7L396.2 295.8L395.4 296.0L394.6 296.2L393.8 296.4L393.0 296.5L392.2 296.7L391.3 296.8L390.4 296.9L389.5 297.0L388.6 297.1L387.7 297.2L386.8 297.2L385.8 297.2L384.8 297.2L383.9 297.2L382.9 297.1L381.9 297.0L380.9 296.8L379.9 296.6L378.9 296.4L377.9 296.1L376.9 295.9L375.9 295.5L374.9 295.2L373.9 294.8L372.9 294.4L371.9 293.9L370.9 293.4L369.9 292.9L368.9 292.4L367.9 291.8L366.9 291.2L365.9 290.5L365.0 289.8L364.1 289.0L363.3 288.2L362.5 287.4L361.9 286.4L361.3 285.5L360.7 284.4L360.3 283.4L360.0 282.3L359.7 281.2L359.5 280.1L359.4 279.0L359.4 277.8L359.4 276.7L359.5 275.5L359.6 274.4L359.8 273.3L360.0 272.2L360.3 271.1L360.6 270.0Z" fill="#fdd7d3"/>
<path d="M369.0 268.9L369.4 268.1L369.8 267.3L370.3 266.5L370.7 265.7L371.2 265.0L371.6 264.2L372.0 263.5L372.5 262.8L372.9 262.2L373.4 261.5L373.8 260.8L374.3 260.2L374.7 259.6L375.2 259.0L375.6 258.4L376.1 257.8L376.6 257.2L377.0 256.6L377.5 256.1L377.9 255.5L378.4 255.0L378.9 254.4L379.3 253.9L379.8 253.4L380.3 252.9L380.8 252.4L381.3 251.9L381.7 251.4L382.2 251.0L382.7 250.5L383.2 250.0L383.8 249.6L384.3 249.1L384.8 248.7L385.3 248.3L385.9 247.8L386.4 247.4L386.9 247.0L387.5 246.6L388.0 246.2L388.6 245.8L389.2 245.4L389.8 245.0L390.3 244.6L390.9 244.2L391.5 243.8L392.1 243.4L392.8 243.1L393.4 242.7L394.0 242.3L394.7 241.9L395.4 241.6L396.0 241.2L396.7 240.8L397.4 240.5L398.1 240.1L398.9 239.8L399.6 239.4L400.4 239.1L401.2 238.7L402.0 238.3L402.8 238.0L403.6 237.6L404.5 237.3L405.4 237.0L406.3 236.6L407.2 236.3L408.2 236.0L409.2 235.7L410.2 235.4L411.2 235.1L412.3 234.8L413.3 234.6L414.5 234.3L415.6 234.1L416.7 234.0L417.9 233.8L419.1 233.8L420.3 233.7L421.5 233.7L422.7 233.8L423.9 233.9L425.1 234.1L426.3 234.3L427.5 234.6L428.7 234.9L429.9 235.3L431.0 235.8L432.2 236.3L433.3 236.8L434.4 237.4L435.4 238.1L436.4 238.8L437.4 239.6L438.3 240.4L439.1 241.3L439.9 242.3L440.6 243.4L441.1 244.4L441.6 245.6L441.9 246.8L442.2 248.1L442.3 249.3L442.3 250.6L442.2 251.9L442.0 253.2L441.8 254.5L441.5 255.8L441.1 257.1L440.7 258.3L440.3 259.5L439.8 260.7L439.3 261.9L438.8 263.0L438.3 264.0L437.7 265.1L437.2 266.1L436.6 267.1L436.0 268.0L435.5 268.9L434.9 269.8L434.3 270.7L433.7 271.5L433.1 272.3L432.5 273.0L431.9 273.8L431.2 274.5L430.6 275.2L430.0 275.8L429.4 276.5L428.7 277.1L428.1 277.7L427.5 278.2L426.8 278.8L426.2 279.3L425.6 279.8L425.0 280.3L424.3 280.7L423.7 281.2L423.1 281.6L422.5 282.0L421.9 282.4L421.3 282.7L420.7 283.1L420.1 283.4L419.5 283.8L418.9 284.1L418.3 284.4L417.8 284.7L417.2 284.9L416.6 285.2L416.1 285.5L415.5 285.7L415.0 285.9L414.4 286.2L413.9 286.4L413.3 286.6L412.8 286.8L412.2 287.0L411.7 287.2L411.2 287.4L410.7 287.6L410.2 287.7L409.6 287.9L409.1 288.1L408.6 288.3L408.1 288.4L407.6 288.6L407.1 288.8L406.5 288.9L406.0 289.1L405.5 289.3L405.0 289.4L404.4 289.6L403.9 289.8L403.4 289.9L402.8 290.1L402.3 290.3L401.7 290.4L401.2 290.6L400.6 290.8L400.0 291.0L399.4 291.2L398.8 291.4L398.2 291.6L397.6 291.7L396.9 291.9L396.2 292.1L395.6 292.3L394.8 292.5L394.1 292.7L393.4 292.9L392.6 293.1L391.8 293.3L391.0 293.5L390.2 293.6L389.3 293.7L388.5 293.8L387.6 293.9L386.7 294.0L385.8 294.0L384.9 293.9L384.0 293.9L383.1 293.8L382.2 293.6L381.4 293.4L380.5 293.1L379.6 292.8L378.8 292.5L378.0 292.1L377.2 291.7L376.4 291.3L375.6 290.8L374.8 290.3L374.0 289.8L373.2 289.3L372.4 288.7L371.6 288.1L370.8 287.5L370.1 286.9L369.4 286.2L368.7 285.5L368.1 284.7L367.6 283.9L367.1 283.0L366.7 282.1L366.5 281.2L366.3 280.3L366.2 279.3L366.2 278.3L366.2 277.3L366.4 276.3L366.5 275.3L366.8 274.4L367.1 273.4L367.4 272.5L367.8 271.6L368.1 270.7L368.5 269.8Z" fill="#fbbbbd"/>
<path d="M373.5 268.9L373.9 268.2L374.3 267.5L374.7 266.8L375.1 266.2L375.5 265.6L375.9 264.9L376.3 264.3L376.7 263.7L377.2 263.2L377.5 262.6L378.0 262.0L378.3 261.5L378.7 261.0L379.1 260.5L379.5 260.0L379.9 259.5L380.3 259.0L380.7 258.5L381.1 258.0L381.5 257.6L381.9 257.1L382.3 256.6L382.6 256.2L383.0 255.8L383.4 255.3L383.8 254.9L384.2 254.5L384.6 254.0L385.0 253.6L385.5 253.2L385.9 252.8L386.3 252.4L386.7 252.0L387.1 251.6L387.6 251.2L388.0 250.8L388.4 250.4L388.9 250.0L389.3 249.6L389.8 249.2L390.3 248.9L390.8 248.5L391.2 248.1L391.7 247.7L392.2 247.3L392.7 247.0L393.3 246.6L393.8 246.2L394.3 245.8L394.9 245.5L395.5 245.1L396.0 244.7L396.6 244.4L397.2 244.0L397.8 243.6L398.5 243.3L399.1 242.9L399.8 242.6L400.5 242.2L401.2 241.8L401.9 241.5L402.6 241.1L403.4 240.8L404.2 240.5L405.0 240.1L405.8 239.8L406.6 239.5L407.5 239.2L408.4 238.9L409.3 238.6L410.2 238.4L411.2 238.1L412.2 237.9L413.1 237.8L414.2 237.6L415.2 237.5L416.2 237.4L417.3 237.4L418.3 237.4L419.4 237.4L420.4 237.5L421.5 237.7L422.5 237.9L423.5 238.1L424.6 238.5L425.6 238.8L426.5 239.2L427.5 239.7L428.4 240.2L429.3 240.8L430.2 241.4L431.1 242.0L431.9 242.7L432.6 243.5L433.3 244.3L434.0 245.1L434.5 246.0L435.1 246.9L435.5 247.9L435.8 248.9L436.1 250.0L436.3 251.1L436.4 252.1L436.4 253.3L436.3 254.4L436.2 255.5L436.0 256.6L435.7 257.7L435.4 258.8L435.1 259.8L434.7 260.9L434.3 261.9L433.9 262.9L433.4 263.8L433.0 264.7L432.5 265.6L432.0 266.5L431.5 267.3L430.9 268.1L430.4 268.9L429.9 269.7L429.3 270.4L428.8 271.1L428.2 271.8L427.7 272.4L427.1 273.0L426.5 273.6L426.0 274.2L425.4 274.8L424.9 275.3L424.3 275.8L423.8 276.3L423.2 276.7L422.7 277.2L422.1 277.6L421.6 278.0L421.1 278.4L420.5 278.8L420.0 279.2L419.5 279.5L419.0 279.8L418.5 280.2L418.0 280.5L417.5 280.8L417.0 281.0L416.5 281.3L416.0 281.6L415.5 281.8L415.0 282.1L414.6 282.3L414.1 282.6L413.6 282.8L413.2 283.0L412.7 283.2L412.3 283.4L411.9 283.6L411.4 283.8L411.0 284.0L410.5 284.2L410.1 284.4L409.7 284.6L409.2 284.7L408.8 284.9L408.4 285.1L407.9 285.2L407.5 285.4L407.1 285.6L406.6 285.7L406.2 285.9L405.8 286.1L405.3 286.2L404.9 286.4L404.4 286.6L404.0 286.7L403.5 286.9L403.1 287.1L402.6 287.3L402.1 287.4L401.7 287.6L401.2 287.8L400.7 288.0L400.2 288.2L399.6 288.4L399.1 288.5L398.6 288.7L398.0 288.9L397.4 289.1L396.8 289.3L396.2 289.5L395.6 289.7L395.0 289.9L394.3 290.1L393.6 290.3L392.9 290.5L392.2 290.6L391.4 290.8L390.7 290.9L389.9 291.0L389.1 291.1L388.3 291.2L387.5 291.3L386.7 291.3L385.8 291.2L385.0 291.2L384.2 291.1L383.3 290.9L382.5 290.8L381.7 290.5L380.9 290.3L380.1 290.0L379.4 289.6L378.6 289.2L377.9 288.8L377.2 288.4L376.5 287.9L375.8 287.4L375.2 286.8L374.5 286.2L373.9 285.6L373.3 285.0L372.8 284.3L372.3 283.6L371.9 282.9L371.5 282.1L371.2 281.3L371.0 280.5L370.8 279.7L370.7 278.8L370.7 277.9L370.8 277.1L370.9 276.2L371.0 275.3L371.2 274.5L371.5 273.6L371.7 272.8L372.1 272.0L372.4 271.2L372.8 270.4L373.1 269.7Z" fill="#fa97b2"/>
<path d="M377.1 268.9L377.5 268.3L377.9 267.7L378.3 267.1L378.6 266.6L379.0 266.0L379.4 265.5L379.7 265.0L380.1 264.5L380.5 264.0L380.8 263.5L381.2 263.0L381.5 262.5L381.9 262.1L382.2 261.6L382.5 261.2L382.9 260.8L383.2 260.4L383.5 259.9L383.9 259.5L384.2 259.1L384.5 258.7L384.9 258.3L385.2 258.0L385.5 257.6L385.9 257.2L386.2 256.8L386.5 256.4L386.9 256.1L387.2 255.7L387.6 255.3L387.9 255.0L388.3 254.6L388.6 254.2L389.0 253.9L389.4 253.5L389.7 253.2L390.1 252.8L390.5 252.5L390.9 252.1L391.3 251.8L391.7 251.4L392.1 251.1L392.5 250.7L392.9 250.4L393.3 250.0L393.8 249.6L394.2 249.3L394.7 248.9L395.1 248.6L395.6 248.2L396.1 247.9L396.6 247.5L397.1 247.1L397.7 246.8L398.2 246.4L398.8 246.1L399.3 245.7L399.9 245.3L400.5 245.0L401.2 244.6L401.8 244.2L402.5 243.9L403.2 243.5L403.9 243.2L404.6 242.8L405.4 242.5L406.1 242.2L406.9 241.9L407.7 241.6L408.6 241.3L409.4 241.1L410.3 240.9L411.2 240.7L412.1 240.5L413.0 240.4L413.9 240.3L414.8 240.3L415.8 240.3L416.7 240.4L417.6 240.5L418.5 240.6L419.4 240.9L420.3 241.1L421.1 241.4L422.0 241.8L422.8 242.2L423.6 242.7L424.4 243.2L425.1 243.7L425.9 244.2L426.6 244.8L427.3 245.4L427.9 246.1L428.6 246.7L429.2 247.5L429.7 248.2L430.2 249.0L430.6 249.8L431.0 250.7L431.3 251.5L431.5 252.5L431.6 253.4L431.7 254.4L431.7 255.4L431.6 256.3L431.4 257.3L431.3 258.3L431.0 259.2L430.7 260.2L430.4 261.1L430.1 262.0L429.7 262.9L429.3 263.7L428.9 264.5L428.5 265.3L428.0 266.1L427.6 266.9L427.1 267.6L426.7 268.3L426.2 268.9L425.7 269.6L425.2 270.2L424.7 270.8L424.2 271.3L423.7 271.9L423.2 272.4L422.7 272.9L422.2 273.4L421.7 273.9L421.2 274.3L420.7 274.7L420.2 275.1L419.8 275.5L419.3 275.9L418.8 276.2L418.3 276.6L417.9 276.9L417.4 277.2L417.0 277.5L416.5 277.8L416.1 278.1L415.6 278.3L415.2 278.6L414.8 278.8L414.4 279.1L414.0 279.3L413.6 279.5L413.2 279.7L412.8 279.9L412.4 280.1L412.0 280.3L411.6 280.5L411.2 280.7L410.9 280.9L410.5 281.1L410.1 281.2L409.8 281.4L409.4 281.6L409.0 281.8L408.7 281.9L408.3 282.1L408.0 282.3L407.6 282.4L407.3 282.6L406.9 282.8L406.5 282.9L406.2 283.1L405.8 283.2L405.5 283.4L405.1 283.6L404.7 283.8L404.4 283.9L404.0 284.1L403.6 284.3L403.2 284.5L402.8 284.6L402.4 284.8L402.0 285.0L401.6 285.2L401.2 285.4L400.7 285.6L400.3 285.8L399.8 286.0L399.4 286.2L398.9 286.5L398.4 286.7L397.8 286.9L397.3 287.1L396.8 287.3L396.2 287.5L395.6 287.7L395.0 287.9L394.4 288.1L393.7 288.3L393.1 288.5L392.4 288.6L391.7 288.8L391.0 288.9L390.3 289.0L389.5 289.1L388.8 289.1L388.1 289.1L387.3 289.1L386.6 289.0L385.8 288.9L385.1 288.8L384.4 288.6L383.7 288.4L383.0 288.1L382.3 287.8L381.6 287.5L380.9 287.1L380.3 286.8L379.7 286.4L379.0 285.9L378.4 285.5L377.8 285.0L377.2 284.5L376.7 283.9L376.2 283.4L375.7 282.8L375.3 282.1L374.9 281.5L374.6 280.8L374.4 280.0L374.2 279.3L374.1 278.5L374.1 277.7L374.1 277.0L374.2 276.2L374.3 275.4L374.5 274.6L374.8 273.8L375.0 273.1L375.3 272.3L375.7 271.6L376.0 270.9L376.4 270.2L376.7 269.6Z" fill="#f769a1"/>
<path d="M380.6 268.9L381.0 268.4L381.3 267.9L381.7 267.4L382.0 266.9L382.4 266.5L382.7 266.0L383.0 265.6L383.3 265.1L383.7 264.7L384.0 264.3L384.3 263.9L384.6 263.5L384.9 263.1L385.1 262.8L385.4 262.4L385.7 262.0L386.0 261.7L386.3 261.3L386.6 261.0L386.8 260.6L387.1 260.3L387.4 260.0L387.7 259.6L387.9 259.3L388.2 259.0L388.5 258.7L388.8 258.4L389.1 258.0L389.4 257.7L389.6 257.4L389.9 257.1L390.2 256.8L390.5 256.5L390.8 256.2L391.1 255.9L391.5 255.5L391.8 255.2L392.1 254.9L392.4 254.6L392.7 254.3L393.1 254.0L393.4 253.7L393.8 253.4L394.1 253.1L394.5 252.8L394.8 252.4L395.2 252.1L395.6 251.8L396.0 251.5L396.4 251.2L396.8 250.8L397.3 250.5L397.7 250.2L398.1 249.8L398.6 249.5L399.1 249.1L399.6 248.8L400.1 248.4L400.6 248.1L401.2 247.8L401.7 247.4L402.3 247.1L402.9 246.7L403.5 246.4L404.2 246.0L404.8 245.7L405.5 245.4L406.2 245.1L407.0 244.9L407.7 244.6L408.4 244.4L409.2 244.2L410.0 244.0L410.8 243.9L411.6 243.8L412.4 243.8L413.2 243.8L413.9 243.9L414.7 244.0L415.5 244.2L416.2 244.4L416.9 244.7L417.6 245.0L418.3 245.4L418.9 245.8L419.5 246.3L420.1 246.8L420.7 247.2L421.3 247.8L421.8 248.3L422.4 248.8L423.0 249.3L423.5 249.9L424.0 250.4L424.5 251.0L425.0 251.6L425.4 252.3L425.8 252.9L426.1 253.7L426.3 254.4L426.5 255.2L426.6 256.0L426.6 256.8L426.6 257.6L426.5 258.5L426.3 259.3L426.1 260.1L425.8 260.9L425.5 261.7L425.2 262.5L424.9 263.2L424.5 264.0L424.2 264.7L423.8 265.4L423.4 266.0L423.0 266.6L422.6 267.2L422.1 267.8L421.7 268.4L421.3 268.9L420.9 269.4L420.4 269.9L420.0 270.4L419.6 270.9L419.1 271.3L418.7 271.7L418.3 272.1L417.9 272.5L417.5 272.8L417.0 273.2L416.6 273.5L416.2 273.8L415.8 274.1L415.5 274.4L415.1 274.7L414.7 274.9L414.3 275.2L413.9 275.4L413.6 275.7L413.2 275.9L412.9 276.1L412.6 276.3L412.2 276.5L411.9 276.7L411.6 276.9L411.3 277.1L410.9 277.3L410.6 277.5L410.3 277.6L410.0 277.8L409.7 278.0L409.5 278.1L409.2 278.3L408.9 278.4L408.6 278.6L408.3 278.8L408.0 278.9L407.8 279.1L407.5 279.2L407.2 279.4L406.9 279.6L406.7 279.7L406.4 279.9L406.1 280.0L405.8 280.2L405.6 280.4L405.3 280.5L405.0 280.7L404.7 280.9L404.4 281.1L404.1 281.2L403.8 281.4L403.5 281.6L403.2 281.8L402.9 282.0L402.6 282.2L402.2 282.4L401.9 282.6L401.5 282.8L401.2 283.1L400.8 283.3L400.4 283.5L400.0 283.7L399.6 284.0L399.2 284.2L398.7 284.4L398.3 284.7L397.8 284.9L397.3 285.1L396.8 285.4L396.2 285.6L395.7 285.8L395.1 286.0L394.5 286.2L393.9 286.4L393.3 286.6L392.7 286.7L392.0 286.9L391.4 287.0L390.7 287.0L390.0 287.1L389.4 287.1L388.7 287.1L388.0 287.0L387.4 286.9L386.7 286.7L386.1 286.6L385.5 286.4L384.9 286.1L384.3 285.8L383.7 285.5L383.1 285.2L382.5 284.9L382.0 284.5L381.4 284.1L380.9 283.7L380.3 283.2L379.8 282.8L379.4 282.3L378.9 281.8L378.5 281.2L378.1 280.7L377.8 280.1L377.6 279.4L377.4 278.8L377.3 278.1L377.3 277.4L377.3 276.7L377.4 276.0L377.6 275.3L377.8 274.6L378.0 273.9L378.3 273.2L378.5 272.5L378.9 271.9L379.2 271.2L379.5 270.6L379.9 270.0L380.3 269.5Z" fill="#e23e99"/>
<path d="M384.1 268.9L384.4 268.5L384.7 268.1L385.0 267.7L385.2 267.3L385.5 266.9L385.8 266.5L386.0 266.1L386.3 265.8L386.5 265.4L386.8 265.1L387.0 264.7L387.2 264.4L387.5 264.1L387.7 263.8L387.9 263.4L388.1 263.1L388.4 262.8L388.6 262.5L388.8 262.2L389.1 261.9L389.3 261.7L389.5 261.4L389.8 261.1L390.0 260.8L390.3 260.6L390.5 260.3L390.8 260.0L391.0 259.8L391.3 259.5L391.5 259.3L391.8 259.0L392.0 258.8L392.3 258.5L392.5 258.3L392.8 258.0L393.1 257.8L393.3 257.5L393.6 257.3L393.9 257.0L394.2 256.8L394.4 256.5L394.7 256.3L395.0 256.0L395.3 255.8L395.6 255.5L395.9 255.2L396.2 255.0L396.5 254.7L396.9 254.4L397.2 254.1L397.5 253.8L397.9 253.5L398.3 253.2L398.6 252.9L399.0 252.6L399.4 252.3L399.8 252.0L400.3 251.7L400.7 251.4L401.2 251.0L401.7 250.7L402.1 250.4L402.7 250.1L403.2 249.8L403.7 249.5L404.3 249.2L404.9 249.0L405.5 248.7L406.1 248.5L406.7 248.4L407.3 248.2L407.9 248.1L408.6 248.0L409.2 248.0L409.8 248.1L410.4 248.1L411.0 248.3L411.6 248.5L412.2 248.7L412.7 249.0L413.2 249.3L413.7 249.7L414.1 250.1L414.6 250.5L415.0 250.9L415.5 251.3L415.9 251.6L416.4 252.0L416.9 252.4L417.4 252.7L417.9 253.1L418.4 253.4L418.9 253.8L419.3 254.2L419.8 254.7L420.2 255.1L420.5 255.7L420.7 256.2L420.9 256.8L421.0 257.5L421.1 258.1L421.1 258.8L421.0 259.5L420.9 260.2L420.7 260.8L420.5 261.5L420.3 262.1L420.1 262.8L419.9 263.4L419.6 264.0L419.4 264.6L419.1 265.1L418.8 265.7L418.6 266.2L418.3 266.7L417.9 267.2L417.6 267.6L417.3 268.1L417.0 268.5L416.6 268.9L416.3 269.3L415.9 269.7L415.6 270.1L415.2 270.4L414.8 270.7L414.5 271.0L414.1 271.3L413.8 271.6L413.5 271.9L413.1 272.1L412.8 272.4L412.5 272.6L412.2 272.8L411.9 273.0L411.6 273.2L411.3 273.4L411.0 273.6L410.9 273.9L410.7 274.1L410.6 274.4L410.4 274.6L410.2 274.8L410.1 275.0L409.9 275.3L409.7 275.5L409.5 275.7L409.3 275.9L409.1 276.1L409.0 276.3L408.8 276.5L408.6 276.7L408.4 276.9L408.1 277.1L407.9 277.3L407.7 277.5L407.5 277.6L407.3 277.8L407.1 278.0L406.8 278.2L406.6 278.3L406.4 278.5L406.1 278.6L405.9 278.8L405.6 279.0L405.4 279.1L405.1 279.3L404.9 279.4L404.6 279.6L404.4 279.7L404.1 279.8L403.8 280.0L403.6 280.1L403.3 280.3L403.0 280.4L402.7 280.5L402.4 280.6L402.1 280.8L401.8 281.0L401.5 281.3L401.2 281.5L400.8 281.8L400.5 282.0L400.1 282.3L399.7 282.6L399.3 282.8L398.9 283.1L398.5 283.3L398.1 283.6L397.6 283.8L397.1 284.1L396.6 284.3L396.1 284.5L395.6 284.7L395.0 284.9L394.5 285.1L393.9 285.2L393.4 285.3L392.8 285.4L392.2 285.4L391.6 285.5L391.1 285.4L390.5 285.4L389.9 285.3L389.4 285.2L388.8 285.1L388.3 284.9L387.7 284.7L387.2 284.5L386.7 284.2L386.1 284.0L385.6 283.7L385.1 283.4L384.6 283.1L384.0 282.8L383.5 282.5L383.0 282.1L382.5 281.8L382.0 281.4L381.6 280.9L381.2 280.4L380.9 279.9L380.6 279.4L380.4 278.8L380.3 278.2L380.3 277.6L380.3 277.0L380.4 276.3L380.5 275.7L380.7 275.0L380.9 274.4L381.2 273.7L381.5 273.1L381.8 272.5L382.1 271.9L382.4 271.4L382.8 270.9L383.1 270.4L383.4 269.9L383.7 269.4Z" fill="#c21688"/>
<path d="M388.7 268.9L389.0 268.6L389.2 268.3L389.4 268.0L389.6 267.7L389.8 267.4L390.0 267.2L390.1 266.9L390.3 266.6L390.5 266.4L390.6 266.1L390.7 265.8L390.9 265.6L391.0 265.3L391.2 265.1L391.3 264.8L391.5 264.6L391.6 264.4L391.8 264.2L392.0 263.9L392.1 263.7L392.3 263.5L392.5 263.3L392.7 263.1L392.9 262.9L393.1 262.7L393.3 262.6L393.5 262.4L393.7 262.2L393.9 262.1L394.1 261.9L394.4 261.8L394.6 261.6L394.8 261.5L395.0 261.3L395.2 261.2L395.5 261.1L395.7 260.9L395.9 260.8L396.1 260.7L396.3 260.5L396.5 260.4L396.8 260.3L397.0 260.1L397.2 260.0L397.4 259.8L397.6 259.7L397.8 259.5L398.1 259.4L398.3 259.2L398.5 259.0L398.7 258.8L399.0 258.6L399.2 258.3L399.5 258.1L399.7 257.8L400.0 257.6L400.3 257.3L400.5 257.0L400.9 256.7L401.2 256.4L401.5 256.1L401.9 255.8L402.2 255.5L402.6 255.1L403.0 254.9L403.4 254.6L403.9 254.3L404.3 254.1L404.8 253.9L405.2 253.8L405.7 253.6L406.2 253.6L406.6 253.5L407.1 253.6L407.5 253.7L407.9 253.8L408.3 254.0L408.6 254.3L409.0 254.6L409.3 254.9L409.6 255.2L409.8 255.6L410.1 255.9L410.4 256.3L410.7 256.5L411.0 256.8L411.4 257.0L411.8 257.2L412.2 257.3L412.6 257.5L413.1 257.6L413.5 257.8L413.9 258.1L414.2 258.4L414.5 258.7L414.7 259.1L414.9 259.5L415.0 260.0L415.0 260.4L415.0 260.9L415.0 261.4L415.0 261.9L414.9 262.4L414.9 262.8L414.8 263.3L414.8 263.7L414.7 264.1L414.6 264.6L414.6 265.0L414.5 265.4L414.4 265.8L414.2 266.2L414.1 266.5L413.9 266.9L413.7 267.3L413.5 267.6L413.3 268.0L413.0 268.3L412.7 268.6L412.5 268.9L412.2 269.2L411.9 269.5L411.6 269.8L411.5 270.0L411.5 270.3L411.4 270.5L411.3 270.8L411.3 271.1L411.2 271.3L411.1 271.6L411.0 271.8L410.9 272.1L410.7 272.3L410.6 272.6L410.5 272.8L410.4 273.0L410.2 273.2L410.1 273.5L409.9 273.7L409.8 273.9L409.6 274.1L409.5 274.3L409.3 274.5L409.2 274.7L409.0 274.9L408.8 275.1L408.7 275.3L408.5 275.5L408.3 275.7L408.1 275.9L407.9 276.1L407.7 276.2L407.6 276.4L407.4 276.6L407.2 276.7L407.0 276.9L406.8 277.1L406.6 277.2L406.4 277.4L406.1 277.5L405.9 277.7L405.7 277.8L405.5 278.0L405.3 278.1L405.0 278.3L404.8 278.4L404.6 278.6L404.4 278.7L404.1 278.8L403.9 279.0L403.6 279.1L403.4 279.2L403.1 279.4L402.8 279.5L402.6 279.6L402.3 279.7L402.0 279.9L401.8 280.0L401.5 280.3L401.2 280.5L400.9 280.8L400.5 281.1L400.2 281.3L399.8 281.5L399.5 281.8L399.1 282.0L398.7 282.2L398.3 282.4L397.9 282.6L397.5 282.8L397.0 283.0L396.6 283.1L396.1 283.2L395.7 283.3L395.2 283.4L394.7 283.4L394.3 283.4L393.8 283.3L393.4 283.3L392.9 283.2L392.5 283.1L392.1 282.9L391.7 282.7L391.3 282.6L390.9 282.4L390.5 282.1L390.1 281.9L389.7 281.7L389.3 281.5L388.8 281.3L388.4 281.1L387.9 280.9L387.5 280.6L387.0 280.4L386.5 280.2L386.0 279.9L385.6 279.7L385.1 279.3L384.8 279.0L384.5 278.6L384.2 278.1L384.1 277.6L384.0 277.1L384.0 276.6L384.1 276.0L384.3 275.4L384.5 274.8L384.8 274.3L385.1 273.7L385.4 273.1L385.8 272.6L386.1 272.1L386.5 271.7L386.8 271.2L387.2 270.8L387.5 270.4L387.8 270.0L388.1 269.6L388.4 269.3Z" fill="#9b017b"/>
<path d="M394.1 268.9L394.3 268.7L394.5 268.6L394.7 268.4L394.8 268.3L395.0 268.1L395.2 268.0L395.4 267.8L395.5 267.7L395.7 267.6L395.8 267.5L395.9 267.4L396.1 267.3L396.2 267.2L396.3 267.1L396.5 267.0L396.6 266.9L396.7 266.8L396.8 266.7L396.9 266.6L397.0 266.5L397.1 266.4L397.2 266.3L397.3 266.2L397.3 266.1L397.4 266.1L397.5 266.0L397.6 265.9L397.7 265.8L397.7 265.7L397.8 265.6L397.9 265.5L397.9 265.3L398.0 265.2L398.1 265.1L398.2 265.0L398.2 264.9L398.3 264.8L398.4 264.7L398.5 264.6L398.6 264.4L398.7 264.3L398.8 264.2L398.9 264.1L399.0 264.0L399.1 264.0L399.2 263.9L399.4 263.8L399.5 263.7L399.6 263.6L399.7 263.6L399.9 263.5L400.0 263.5L400.2 263.4L400.3 263.4L400.4 263.3L400.6 263.3L400.7 263.3L400.9 263.3L401.0 263.3L401.2 263.3L401.3 263.3L401.5 263.3L401.6 263.3L401.8 263.3L401.9 263.4L402.1 263.4L402.2 263.4L402.3 263.4L402.5 263.4L402.7 263.4L402.8 263.4L403.0 263.3L403.2 263.2L403.4 263.1L403.6 263.0L403.9 262.9L404.1 262.8L404.4 262.7L404.6 262.6L404.9 262.5L405.1 262.4L405.4 262.4L405.7 262.4L405.9 262.4L406.1 262.5L406.3 262.6L406.5 262.7L406.7 262.8L406.8 263.0L407.0 263.2L407.1 263.3L407.2 263.5L407.3 263.7L407.5 263.8L407.7 264.0L407.8 264.1L408.0 264.2L408.2 264.4L408.4 264.5L408.6 264.7L408.8 264.8L408.9 265.0L409.1 265.1L409.3 265.3L409.5 265.5L409.6 265.7L409.8 265.9L409.9 266.1L410.1 266.3L410.2 266.5L410.3 266.7L410.4 267.0L410.5 267.2L410.6 267.4L410.6 267.7L410.7 267.9L410.7 268.2L410.7 268.4L410.7 268.7L410.7 268.9L410.7 269.2L410.7 269.4L410.7 269.7L410.6 269.9L410.6 270.2L410.5 270.4L410.4 270.6L410.4 270.9L410.3 271.1L410.2 271.3L410.1 271.6L410.0 271.8L409.9 272.0L409.8 272.2L409.7 272.4L409.5 272.7L409.4 272.9L409.3 273.1L409.2 273.3L409.0 273.5L408.9 273.6L408.7 273.8L408.6 274.0L408.4 274.2L408.3 274.4L408.1 274.6L408.0 274.7L407.8 274.9L407.6 275.1L407.5 275.2L407.3 275.4L407.1 275.6L407.0 275.7L406.8 275.9L406.6 276.0L406.4 276.2L406.3 276.3L406.1 276.5L405.9 276.6L405.7 276.8L405.5 276.9L405.3 277.0L405.1 277.2L404.9 277.3L404.7 277.5L404.5 277.6L404.3 277.7L404.1 277.8L403.9 278.0L403.6 278.1L403.4 278.2L403.2 278.4L402.9 278.5L402.7 278.6L402.5 278.7L402.2 278.8L402.0 279.0L401.7 279.1L401.4 279.2L401.2 279.3L400.9 279.4L400.6 279.5L400.3 279.6L400.0 279.8L399.7 279.9L399.4 280.0L399.1 280.1L398.8 280.2L398.5 280.3L398.1 280.4L397.8 280.4L397.4 280.5L397.0 280.6L396.7 280.7L396.3 280.7L395.9 280.8L395.5 280.9L395.1 280.9L394.7 280.9L394.2 281.0L393.8 281.0L393.4 280.9L392.9 280.9L392.5 280.9L392.1 280.8L391.7 280.7L391.3 280.5L390.9 280.4L390.5 280.2L390.2 279.9L389.9 279.7L389.6 279.4L389.4 279.0L389.2 278.6L389.1 278.2L389.0 277.8L388.9 277.3L389.0 276.9L389.0 276.4L389.1 275.9L389.3 275.4L389.4 274.9L389.7 274.4L389.9 274.0L390.1 273.5L390.4 273.1L390.7 272.6L391.0 272.2L391.2 271.9L391.5 271.5L391.8 271.2L392.1 270.9L392.4 270.6L392.6 270.3L392.9 270.0L393.1 269.8L393.4 269.5L393.6 269.3L393.8 269.1Z" fill="#680172"/>
<rect x="297.4" y="182.7" width="218.2" height="149.4" fill="none" stroke="#808080" stroke-width="0.70"/>
<line x1="336.1" y1="332.1" x2="336.1" y2="333.1" stroke="#444" stroke-width="0.35"/>
<text class="tk tx" x="336.1" y="335.6">168</text>
<line x1="382.9" y1="332.1" x2="382.9" y2="333.1" stroke="#444" stroke-width="0.35"/>
<text class="tk tx" x="382.9" y="335.6">170</text>
<line x1="429.7" y1="332.1" x2="429.7" y2="333.1" stroke="#444" stroke-width="0.35"/>
<text class="tk tx" x="429.7" y="335.6">172</text>
<line x1="476.5" y1="332.1" x2="476.5" y2="333.1" stroke="#444" stroke-width="0.35"/>
<text class="tk tx" x="476.5" y="335.6">174</text>
<line x1="296.4" y1="187.8" x2="297.4" y2="187.8" stroke="#444" stroke-width="0.35"/>
<text class="tk ty" x="295.8" y="188.6">130</text>
<line x1="296.4" y1="213.2" x2="297.4" y2="213.2" stroke="#444" stroke-width="0.35"/>
<text class="tk ty" x="295.8" y="214.0">125</text>
<line x1="296.4" y1="238.6" x2="297.4" y2="238.6" stroke="#444" stroke-width="0.35"/>
<text class="tk ty" x="295.8" y="239.4">120</text>
<line x1="296.4" y1="264.0" x2="297.4" y2="264.0" stroke="#444" stroke-width="0.35"/>
<text class="tk ty" x="295.8" y="264.8">115</text>
<line x1="296.4" y1="289.4" x2="297.4" y2="289.4" stroke="#444" stroke-width="0.35"/>
<text class="tk ty" x="295.8" y="290.2">110</text>
<line x1="296.4" y1="314.8" x2="297.4" y2="314.8" stroke="#444" stroke-width="0.35"/>
<text class="tk ty" x="295.8" y="315.6">105</text>
<text class="tt" x="406.5" y="181.3">R248L</text>
<text class="al" x="406.0" y="342.5">RG</text>
<text class="al" transform="translate(287.5 258.0) rotate(-90)">SASA</text>
<text class="pl" transform="translate(281.8 191.0) scale(0.84 1)">D</text>
<rect x="529.6" y="315.47" width="6.9" height="16.58" fill="#feede9"/>
<rect x="529.6" y="298.93" width="6.9" height="16.58" fill="#fdd7d3"/>
<rect x="529.6" y="282.40" width="6.9" height="16.58" fill="#fbbbbd"/>
<rect x="529.6" y="265.87" width="6.9" height="16.58" fill="#fa97b2"/>
<rect x="529.6" y="249.33" width="6.9" height="16.58" fill="#f769a1"/>
<rect x="529.6" y="232.80" width="6.9" height="16.58" fill="#e23e99"/>
<rect x="529.6" y="216.27" width="6.9" height="16.58" fill="#c21688"/>
<rect x="529.6" y="199.73" width="6.9" height="16.58" fill="#9b017b"/>
<rect x="529.6" y="183.20" width="6.9" height="16.58" fill="#680172"/>
<rect x="529.6" y="183.2" width="6.9" height="148.8" fill="none" stroke="#666" stroke-width="0.4"/>
<line x1="536.5" y1="332.00" x2="537.5" y2="332.00" stroke="#444" stroke-width="0.35"/>
<text class="tk" x="538.3" y="332.80">0.315</text>
<line x1="536.5" y1="315.47" x2="537.5" y2="315.47" stroke="#444" stroke-width="0.35"/>
<text class="tk" x="538.3" y="316.27">0.898</text>
<line x1="536.5" y1="298.93" x2="537.5" y2="298.93" stroke="#444" stroke-width="0.35"/>
<text class="tk" x="538.3" y="299.73">1.515</text>
<line x1="536.5" y1="282.40" x2="537.5" y2="282.40" stroke="#444" stroke-width="0.35"/>
<text class="tk" x="538.3" y="283.20">2.124</text>
<line x1="536.5" y1="265.87" x2="537.5" y2="265.87" stroke="#444" stroke-width="0.35"/>
<text class="tk" x="538.3" y="266.67">2.675</text>
<line x1="536.5" y1="249.33" x2="537.5" y2="249.33" stroke="#444" stroke-width="0.35"/>
<text class="tk" x="538.3" y="250.13">3.226</text>
<line x1="536.5" y1="232.80" x2="537.5" y2="232.80" stroke="#444" stroke-width="0.35"/>
<text class="tk" x="538.3" y="233.60">3.737</text>
<line x1="536.5" y1="216.27" x2="537.5" y2="216.27" stroke="#444" stroke-width="0.35"/>
<text class="tk" x="538.3" y="217.07">4.280</text>
<line x1="536.5" y1="199.73" x2="537.5" y2="199.73" stroke="#444" stroke-width="0.35"/>
<text class="tk" x="538.3" y="200.53">4.761</text>
<line x1="536.5" y1="183.20" x2="537.5" y2="183.20" stroke="#444" stroke-width="0.35"/>
<text class="tk" x="538.3" y="184.00">5.608</text>
</g>
<g>
<path d="M60.7 442.2L61.6 441.1L62.6 440.0L63.5 439.0L64.5 438.1L65.5 437.1L66.5 436.3L67.5 435.5L68.5 434.7L69.4 433.9L70.3 433.2L71.2 432.5L72.1 431.9L72.9 431.3L73.7 430.6L74.5 430.1L75.2 429.5L75.9 428.9L76.6 428.4L77.3 427.8L77.9 427.3L78.6 426.8L79.2 426.2L79.8 425.7L80.4 425.2L81.0 424.7L81.6 424.2L82.1 423.7L82.7 423.2L83.3 422.8L83.8 422.3L84.4 421.8L84.9 421.3L85.5 420.8L86.0 420.3L86.6 419.8L87.1 419.3L87.7 418.8L88.2 418.3L88.8 417.8L89.4 417.3L90.0 416.8L90.5 416.3L91.1 415.8L91.7 415.2L92.3 414.7L93.0 414.1L93.6 413.6L94.2 413.0L94.9 412.4L95.6 411.8L96.3 411.2L97.0 410.6L97.8 410.0L98.5 409.3L99.3 408.7L100.1 408.0L101.0 407.3L101.9 406.6L102.8 405.9L103.7 405.2L104.7 404.5L105.7 403.7L106.8 403.0L107.9 402.2L109.1 401.4L110.3 400.7L111.6 399.9L112.9 399.1L114.3 398.2L115.7 397.4L117.2 396.6L118.8 395.8L120.4 394.9L122.2 394.1L124.0 393.3L125.8 392.5L127.8 391.7L129.8 391.0L131.9 390.3L134.1 389.6L136.3 389.0L138.6 388.4L141.0 387.9L143.5 387.5L146.0 387.1L148.7 386.6L151.5 386.2L154.6 385.7L157.8 385.2L161.2 384.7L164.8 384.2L168.3 384.0L171.7 384.1L174.8 384.6L177.4 385.6L179.4 387.2L180.9 389.1L181.9 391.4L182.4 394.0L182.6 396.6L182.4 399.4L182.0 402.3L181.3 405.2L180.4 408.1L179.2 410.9L177.8 413.7L176.2 416.5L174.3 419.2L172.2 421.9L169.8 424.5L167.2 426.9L164.5 429.3L161.7 431.4L158.9 433.4L156.3 435.3L153.8 436.9L151.5 438.4L149.4 439.8L147.5 441.0L145.8 442.2L144.2 443.2L142.8 444.2L141.5 445.2L140.3 446.0L139.3 446.9L138.2 447.6L137.2 448.4L136.3 449.1L135.5 449.8L134.6 450.5L133.8 451.1L133.1 451.7L132.3 452.3L131.6 452.9L131.0 453.5L130.3 454.0L129.6 454.5L129.0 455.1L128.4 455.6L127.8 456.1L127.2 456.5L126.6 457.0L126.0 457.5L125.4 458.0L124.9 458.4L124.3 458.9L123.8 459.3L123.2 459.7L122.7 460.2L122.1 460.6L121.6 461.0L121.1 461.4L120.5 461.8L120.0 462.3L119.4 462.7L118.9 463.1L118.4 463.5L117.8 463.9L117.3 464.3L116.7 464.7L116.1 465.1L115.6 465.4L115.0 465.8L114.4 466.2L113.9 466.6L113.3 467.0L112.7 467.4L112.1 467.8L111.4 468.2L110.8 468.6L110.2 469.0L109.5 469.4L108.9 469.9L108.2 470.4L107.5 471.0L106.8 471.5L106.1 472.1L105.3 472.6L104.5 473.1L103.7 473.6L102.9 474.1L102.0 474.6L101.1 475.0L100.2 475.4L99.3 475.8L98.3 476.2L97.3 476.6L96.3 476.9L95.3 477.2L94.2 477.5L93.2 477.8L92.1 478.0L90.9 478.3L89.8 478.4L88.6 478.6L87.3 479.0L86.0 479.3L84.6 479.6L83.2 479.9L81.8 480.2L80.3 480.4L78.8 480.6L77.3 480.7L75.7 480.7L74.2 480.7L72.6 480.6L71.1 480.4L69.5 480.2L68.0 479.8L66.6 479.3L65.2 478.7L63.9 478.0L62.7 477.2L61.6 476.3L60.5 475.3L59.6 474.2L58.8 473.1L58.1 471.8L57.4 470.5L56.9 469.2L56.4 467.9L56.0 466.5L55.7 465.1L55.5 463.7L55.3 462.2L55.2 460.8L55.1 459.4L55.1 458.0L55.2 456.5L55.4 455.1L55.6 453.7L55.8 452.4L56.2 451.0L56.6 449.6L57.1 448.3L57.6 447.0L58.3 445.7L59.0 444.5L59.8 443.3Z" fill="#f8fcca"/>
<path d="M67.2 442.2L67.9 441.2L68.6 440.3L69.4 439.5L70.1 438.6L70.9 437.9L71.6 437.1L72.4 436.4L73.1 435.7L73.8 435.0L74.5 434.3L75.2 433.7L75.9 433.1L76.5 432.5L77.1 432.0L77.8 431.4L78.4 430.9L79.0 430.4L79.6 429.9L80.2 429.4L80.7 428.9L81.3 428.4L81.8 428.0L82.4 427.5L82.9 427.0L83.4 426.6L84.0 426.2L84.5 425.7L85.0 425.3L85.5 424.9L86.0 424.5L86.5 424.1L87.0 423.6L87.5 423.2L88.1 422.8L88.6 422.4L89.1 422.0L89.6 421.6L90.1 421.2L90.6 420.8L91.1 420.4L91.7 420.0L92.2 419.6L92.7 419.1L93.3 418.7L93.8 418.3L94.4 417.9L95.0 417.4L95.5 417.0L96.1 416.5L96.7 416.1L97.4 415.6L98.0 415.2L98.6 414.7L99.3 414.2L100.0 413.7L100.7 413.2L101.4 412.7L102.1 412.2L102.9 411.6L103.7 411.1L104.6 410.5L105.4 409.9L106.3 409.3L107.2 408.7L108.2 408.1L109.2 407.4L110.3 406.8L111.4 406.1L112.6 405.4L113.8 404.7L115.0 404.0L116.4 403.2L117.8 402.5L119.2 401.8L120.8 401.0L122.4 400.3L124.0 399.6L125.8 398.8L127.6 398.1L129.6 397.4L131.6 396.7L133.7 396.1L135.8 395.5L138.1 394.9L140.4 394.3L142.9 393.8L145.3 393.4L147.9 393.1L150.5 392.9L153.1 392.8L155.6 392.9L158.2 393.2L160.5 393.7L162.7 394.4L164.5 395.6L165.8 397.1L166.6 399.0L166.8 401.2L166.7 403.6L166.2 406.1L165.4 408.7L164.5 411.2L163.3 413.7L162.1 416.2L160.9 418.5L159.6 420.7L158.2 422.9L156.9 424.9L155.5 426.8L154.2 428.7L152.8 430.4L151.4 432.0L150.0 433.6L148.7 435.1L147.3 436.4L146.0 437.7L144.7 439.0L143.4 440.1L142.1 441.2L140.9 442.2L139.7 443.1L138.5 444.0L137.4 444.8L136.3 445.6L135.3 446.3L134.3 447.0L133.3 447.7L132.4 448.3L131.6 448.9L130.7 449.4L129.9 449.9L129.2 450.5L128.5 450.9L127.8 451.4L127.1 451.9L126.5 452.3L125.9 452.8L125.3 453.2L124.8 453.6L124.2 454.0L123.7 454.4L123.2 454.8L122.7 455.2L122.2 455.6L121.7 456.0L121.3 456.4L120.8 456.8L120.4 457.2L120.0 457.6L119.5 458.0L119.1 458.4L118.7 458.8L118.3 459.2L117.9 459.6L117.5 460.1L117.0 460.5L116.6 460.9L116.2 461.4L115.8 461.8L115.3 462.3L114.9 462.8L114.5 463.2L114.0 463.7L113.5 464.2L113.1 464.7L112.6 465.2L112.1 465.7L111.6 466.3L111.0 466.8L110.5 467.3L109.9 467.9L109.3 468.4L108.7 469.0L108.1 469.5L107.4 470.1L106.7 470.6L106.0 471.2L105.3 471.7L104.5 472.2L103.7 472.7L102.9 473.2L102.1 473.7L101.2 474.1L100.3 474.5L99.4 474.9L98.5 475.3L97.5 475.7L96.5 476.0L95.5 476.4L94.5 476.7L93.4 476.9L92.3 477.2L91.2 477.4L90.1 477.6L89.0 477.8L87.8 477.9L86.6 478.0L85.4 478.1L84.2 478.1L83.0 478.1L81.8 478.0L80.5 477.9L79.3 477.7L78.0 477.5L76.8 477.2L75.6 476.9L74.4 476.5L73.2 476.1L72.0 475.6L70.9 475.0L69.9 474.3L68.8 473.6L67.9 472.8L67.0 471.9L66.1 471.0L65.4 470.0L64.7 469.0L64.1 467.9L63.6 466.8L63.1 465.6L62.7 464.4L62.4 463.2L62.2 462.0L62.0 460.8L61.8 459.5L61.8 458.3L61.8 457.0L61.8 455.8L61.9 454.5L62.1 453.3L62.4 452.1L62.7 450.9L63.0 449.7L63.5 448.5L64.0 447.4L64.5 446.3L65.1 445.2L65.8 444.2L66.5 443.1Z" fill="#e7f6b1"/>
<path d="M72.6 442.2L73.0 441.4L73.5 440.6L73.9 439.8L74.4 439.1L74.9 438.4L75.4 437.7L75.9 437.0L76.4 436.4L76.9 435.7L77.4 435.1L77.9 434.5L78.4 434.0L79.0 433.4L79.5 432.9L80.0 432.4L80.6 431.9L81.1 431.4L81.6 430.9L82.2 430.5L82.7 430.0L83.2 429.6L83.8 429.2L84.3 428.8L84.8 428.4L85.3 428.1L85.9 427.7L86.4 427.4L86.9 427.0L87.4 426.7L87.9 426.4L88.4 426.0L88.9 425.7L89.4 425.4L89.9 425.1L90.4 424.8L90.9 424.5L91.3 424.2L91.8 423.9L92.3 423.6L92.8 423.3L93.3 423.0L93.8 422.6L94.3 422.4L94.8 422.0L95.2 421.7L95.7 421.4L96.2 421.1L96.8 420.7L97.3 420.4L97.8 420.1L98.3 419.7L98.9 419.4L99.4 419.0L100.0 418.6L100.6 418.2L101.2 417.8L101.8 417.4L102.4 417.0L103.1 416.6L103.7 416.2L104.4 415.7L105.1 415.2L105.9 414.8L106.7 414.2L107.5 413.7L108.3 413.2L109.2 412.6L110.1 412.1L111.1 411.5L112.1 410.9L113.2 410.2L114.3 409.6L115.5 408.9L116.8 408.2L118.1 407.5L119.5 406.8L120.9 406.1L122.5 405.4L124.0 404.7L125.7 404.1L127.4 403.5L129.2 403.0L131.0 402.5L132.8 402.1L134.6 401.9L136.5 401.7L138.3 401.7L140.0 401.8L141.8 402.1L143.4 402.5L145.0 403.0L146.5 403.6L147.9 404.4L149.1 405.4L150.2 406.5L151.1 407.8L151.6 409.3L151.9 410.9L152.0 412.6L151.9 414.3L151.7 416.1L151.3 417.9L150.8 419.7L150.2 421.5L149.5 423.2L148.7 424.9L147.9 426.5L147.0 428.1L146.1 429.6L145.1 431.1L144.1 432.5L143.1 433.8L142.1 435.1L141.1 436.3L140.1 437.4L139.1 438.5L138.1 439.5L137.1 440.4L136.1 441.3L135.2 442.2L134.2 443.0L133.3 443.7L132.4 444.4L131.5 445.1L130.7 445.7L129.9 446.3L129.2 446.9L128.5 447.4L127.8 448.0L127.1 448.4L126.5 448.9L125.9 449.4L125.4 449.8L124.8 450.3L124.3 450.7L123.8 451.1L123.4 451.6L122.9 452.0L122.5 452.4L122.1 452.8L121.7 453.2L121.3 453.6L120.9 454.0L120.5 454.4L120.1 454.8L119.8 455.2L119.4 455.6L119.1 456.0L118.7 456.4L118.4 456.8L118.0 457.2L117.7 457.7L117.3 458.1L117.0 458.5L116.6 459.0L116.2 459.4L115.9 459.9L115.5 460.3L115.1 460.8L114.7 461.3L114.3 461.7L113.9 462.2L113.5 462.7L113.1 463.2L112.6 463.7L112.2 464.2L111.7 464.7L111.2 465.3L110.7 465.8L110.2 466.3L109.6 466.8L109.1 467.3L108.5 467.8L107.9 468.3L107.2 468.8L106.6 469.3L105.9 469.7L105.2 470.2L104.5 470.6L103.7 470.9L103.0 471.3L102.2 471.6L101.4 471.9L100.6 472.2L99.7 472.4L98.9 472.7L98.0 472.9L97.2 473.0L96.3 473.2L95.4 473.3L94.5 473.4L93.6 473.5L92.6 473.5L91.7 473.6L90.7 473.5L89.8 473.5L88.8 473.5L87.8 473.4L86.8 473.3L85.8 473.1L84.8 473.0L83.8 472.8L82.8 472.5L81.8 472.3L80.9 472.0L79.9 471.6L78.9 471.3L77.9 470.8L77.0 470.4L76.0 469.9L75.1 469.3L74.2 468.7L73.4 468.1L72.6 467.4L71.9 466.6L71.2 465.8L70.6 465.0L70.0 464.0L69.6 463.1L69.2 462.1L68.9 461.1L68.7 460.0L68.5 459.0L68.4 457.9L68.4 456.8L68.4 455.7L68.5 454.7L68.6 453.6L68.8 452.5L69.0 451.5L69.2 450.4L69.5 449.4L69.8 448.5L70.2 447.5L70.5 446.5L70.9 445.6L71.3 444.7L71.7 443.9L72.1 443.0Z" fill="#c9eab4"/>
<path d="M75.4 442.2L75.8 441.4L76.2 440.7L76.6 440.0L77.1 439.4L77.5 438.7L78.0 438.1L78.5 437.5L78.9 436.9L79.4 436.3L79.9 435.8L80.5 435.3L81.0 434.8L81.5 434.3L82.0 433.8L82.5 433.4L83.0 433.0L83.5 432.5L84.0 432.1L84.5 431.8L85.0 431.4L85.5 431.0L86.0 430.7L86.5 430.3L87.0 430.0L87.4 429.7L87.9 429.4L88.4 429.1L88.8 428.8L89.3 428.5L89.7 428.2L90.2 427.9L90.6 427.6L91.1 427.3L91.5 427.1L91.9 426.8L92.3 426.5L92.8 426.2L93.2 426.0L93.6 425.7L94.1 425.4L94.5 425.2L94.9 424.9L95.3 424.6L95.8 424.3L96.2 424.1L96.7 423.8L97.1 423.5L97.6 423.2L98.0 422.9L98.5 422.6L98.9 422.3L99.4 422.0L99.9 421.7L100.4 421.3L100.9 421.0L101.5 420.7L102.0 420.4L102.6 420.0L103.1 419.7L103.7 419.3L104.3 418.9L105.0 418.6L105.6 418.2L106.3 417.8L107.0 417.4L107.7 417.0L108.5 416.6L109.2 416.2L110.1 415.8L110.9 415.3L111.8 414.9L112.7 414.5L113.7 414.1L114.7 413.7L115.7 413.3L116.8 412.9L117.9 412.5L119.0 412.2L120.2 411.9L121.3 411.6L122.6 411.4L123.8 411.3L125.1 411.1L126.3 411.1L127.6 411.1L128.8 411.1L130.1 411.3L131.4 411.5L132.6 411.7L133.8 412.1L135.0 412.5L136.2 412.9L137.4 413.4L138.5 414.0L139.6 414.6L140.7 415.3L141.7 416.1L142.6 416.9L143.5 417.8L144.3 418.8L144.9 419.8L145.4 420.9L145.7 422.1L145.8 423.4L145.7 424.8L145.3 426.2L144.7 427.7L144.0 429.1L143.1 430.5L142.0 431.9L141.0 433.2L139.8 434.5L138.7 435.7L137.6 436.8L136.4 437.9L135.4 438.8L134.3 439.8L133.3 440.6L132.4 441.4L131.5 442.2L130.6 442.9L129.8 443.5L129.0 444.2L128.2 444.7L127.5 445.3L126.8 445.8L126.2 446.3L125.6 446.8L125.0 447.3L124.5 447.7L124.0 448.2L123.5 448.6L123.0 449.0L122.6 449.4L122.1 449.8L121.7 450.2L121.3 450.6L121.0 451.0L120.6 451.3L120.2 451.7L119.9 452.1L119.6 452.5L119.2 452.8L118.9 453.2L118.6 453.6L118.3 454.0L118.0 454.3L117.7 454.7L117.3 455.1L117.0 455.5L116.7 455.9L116.4 456.3L116.1 456.7L115.8 457.1L115.5 457.5L115.1 457.9L114.8 458.3L114.5 458.7L114.1 459.1L113.8 459.6L113.4 460.0L113.0 460.4L112.6 460.9L112.2 461.3L111.8 461.8L111.4 462.2L111.0 462.7L110.5 463.1L110.1 463.6L109.6 464.0L109.1 464.4L108.5 464.9L108.0 465.3L107.4 465.7L106.9 466.1L106.3 466.5L105.7 466.8L105.0 467.2L104.4 467.5L103.7 467.8L103.0 468.1L102.3 468.4L101.6 468.6L100.9 468.9L100.2 469.1L99.4 469.3L98.7 469.4L97.9 469.6L97.1 469.7L96.3 469.9L95.5 470.0L94.7 470.0L93.8 470.1L93.0 470.1L92.1 470.2L91.3 470.2L90.4 470.1L89.5 470.1L88.6 470.0L87.7 469.9L86.8 469.8L85.9 469.6L85.0 469.5L84.1 469.2L83.1 469.0L82.2 468.7L81.3 468.4L80.4 468.0L79.6 467.6L78.7 467.2L77.9 466.7L77.1 466.1L76.3 465.6L75.6 464.9L75.0 464.2L74.4 463.5L73.9 462.7L73.4 461.9L73.0 461.0L72.7 460.1L72.4 459.2L72.2 458.2L72.1 457.3L72.0 456.3L72.0 455.3L72.0 454.4L72.0 453.4L72.1 452.4L72.3 451.5L72.4 450.6L72.6 449.6L72.8 448.7L73.1 447.9L73.4 447.0L73.6 446.1L74.0 445.3L74.3 444.5L74.6 443.7L75.0 442.9Z" fill="#8ed3ba"/>
<path d="M78.7 442.2L79.1 441.5L79.5 440.9L79.9 440.3L80.3 439.7L80.7 439.1L81.1 438.6L81.5 438.1L81.9 437.5L82.3 437.0L82.8 436.6L83.2 436.1L83.6 435.6L84.1 435.2L84.5 434.8L84.9 434.4L85.4 434.0L85.8 433.6L86.2 433.2L86.6 432.9L87.1 432.6L87.5 432.2L87.9 431.9L88.3 431.6L88.7 431.3L89.1 431.0L89.5 430.7L89.9 430.4L90.3 430.1L90.7 429.8L91.1 429.6L91.5 429.3L91.9 429.1L92.3 428.8L92.7 428.5L93.1 428.3L93.5 428.0L93.8 427.8L94.2 427.5L94.6 427.3L95.0 427.0L95.4 426.8L95.8 426.5L96.2 426.3L96.5 426.1L96.9 425.8L97.3 425.6L97.7 425.3L98.2 425.1L98.6 424.8L99.0 424.5L99.4 424.3L99.9 424.0L100.3 423.8L100.8 423.5L101.2 423.2L101.7 423.0L102.2 422.7L102.7 422.4L103.2 422.2L103.7 421.9L104.3 421.6L104.8 421.3L105.4 421.0L106.0 420.7L106.6 420.5L107.2 420.2L107.9 419.9L108.5 419.6L109.2 419.3L109.9 419.0L110.7 418.8L111.4 418.5L112.2 418.2L113.0 418.0L113.8 417.7L114.7 417.5L115.6 417.3L116.5 417.1L117.4 417.0L118.4 416.8L119.3 416.7L120.3 416.6L121.3 416.6L122.3 416.6L123.3 416.7L124.3 416.7L125.3 416.9L126.3 417.0L127.4 417.3L128.4 417.5L129.3 417.9L130.3 418.2L131.3 418.6L132.2 419.1L133.2 419.6L134.1 420.1L135.0 420.7L135.8 421.3L136.6 422.0L137.4 422.8L138.0 423.6L138.6 424.4L139.1 425.3L139.4 426.3L139.5 427.4L139.3 428.5L138.9 429.7L138.3 430.9L137.4 432.2L136.4 433.4L135.2 434.6L134.1 435.7L133.0 436.8L131.9 437.7L130.9 438.6L129.9 439.4L129.0 440.2L128.2 440.9L127.4 441.6L126.8 442.2L126.1 442.8L125.5 443.3L125.0 443.8L124.4 444.3L123.9 444.8L123.5 445.3L123.0 445.8L122.6 446.2L122.2 446.6L121.8 447.0L121.5 447.4L121.1 447.8L120.8 448.2L120.4 448.6L120.1 449.0L119.8 449.3L119.5 449.7L119.2 450.1L118.9 450.4L118.6 450.8L118.3 451.1L118.0 451.4L117.7 451.8L117.4 452.1L117.1 452.5L116.9 452.8L116.6 453.2L116.3 453.5L116.0 453.8L115.7 454.2L115.4 454.5L115.2 454.9L114.9 455.2L114.6 455.6L114.3 455.9L114.0 456.3L113.7 456.6L113.3 457.0L113.0 457.3L112.7 457.7L112.4 458.1L112.0 458.4L111.7 458.8L111.3 459.2L110.9 459.6L110.5 459.9L110.1 460.3L109.7 460.7L109.3 461.1L108.9 461.5L108.4 461.8L108.0 462.2L107.5 462.6L107.0 462.9L106.5 463.3L106.0 463.6L105.4 464.0L104.9 464.3L104.3 464.6L103.7 464.9L103.1 465.2L102.5 465.4L101.9 465.7L101.2 465.9L100.6 466.1L99.9 466.3L99.2 466.5L98.5 466.6L97.8 466.7L97.1 466.8L96.4 466.9L95.7 467.0L94.9 467.0L94.2 467.1L93.4 467.1L92.7 467.0L91.9 467.0L91.1 467.0L90.3 466.9L89.5 466.8L88.7 466.7L87.9 466.5L87.1 466.4L86.3 466.2L85.5 466.0L84.7 465.7L83.9 465.4L83.1 465.1L82.3 464.8L81.5 464.4L80.7 464.0L80.0 463.6L79.3 463.1L78.6 462.5L77.9 462.0L77.3 461.3L76.8 460.7L76.4 459.9L76.0 459.2L75.6 458.4L75.4 457.6L75.2 456.7L75.1 455.8L75.0 455.0L75.0 454.1L75.0 453.2L75.1 452.3L75.2 451.4L75.4 450.6L75.6 449.7L75.8 448.9L76.1 448.0L76.4 447.2L76.6 446.5L77.0 445.7L77.3 445.0L77.6 444.2L78.0 443.5L78.3 442.8Z" fill="#55bec1"/>
<path d="M81.8 442.2L82.1 441.6L82.5 441.1L82.8 440.5L83.2 440.0L83.5 439.5L83.9 439.0L84.2 438.6L84.6 438.1L84.9 437.7L85.3 437.2L85.6 436.8L86.0 436.4L86.4 436.0L86.7 435.6L87.1 435.3L87.4 434.9L87.8 434.6L88.2 434.2L88.5 433.9L88.9 433.6L89.2 433.3L89.6 433.0L90.0 432.7L90.3 432.4L90.7 432.2L91.0 431.9L91.4 431.6L91.8 431.4L92.1 431.1L92.5 430.9L92.8 430.7L93.2 430.4L93.5 430.2L93.9 430.0L94.2 429.8L94.5 429.5L94.9 429.3L95.2 429.1L95.6 428.9L95.9 428.7L96.3 428.5L96.6 428.3L97.0 428.1L97.4 427.9L97.7 427.7L98.1 427.5L98.4 427.3L98.8 427.1L99.2 426.9L99.6 426.7L100.0 426.5L100.3 426.3L100.7 426.1L101.1 425.9L101.5 425.7L102.0 425.5L102.4 425.3L102.8 425.1L103.3 424.9L103.7 424.7L104.2 424.5L104.7 424.3L105.1 424.1L105.6 423.9L106.2 423.7L106.7 423.5L107.2 423.3L107.8 423.1L108.4 422.9L108.9 422.7L109.5 422.5L110.2 422.3L110.8 422.2L111.5 422.0L112.1 421.8L112.8 421.7L113.6 421.5L114.3 421.4L115.1 421.3L115.8 421.2L116.6 421.1L117.4 421.1L118.2 421.1L119.1 421.1L119.9 421.1L120.8 421.1L121.6 421.2L122.5 421.4L123.3 421.5L124.2 421.7L125.0 422.0L125.8 422.3L126.6 422.6L127.4 423.0L128.2 423.4L129.0 423.8L129.7 424.3L130.4 424.8L131.1 425.4L131.8 426.0L132.4 426.6L132.9 427.3L133.4 428.0L133.8 428.8L134.2 429.6L134.4 430.4L134.5 431.3L134.4 432.2L134.2 433.2L133.6 434.2L132.7 435.2L131.5 436.3L130.2 437.3L128.7 438.2L127.4 439.1L126.2 439.8L125.1 440.5L124.1 441.1L123.3 441.7L122.5 442.2L121.9 442.6L121.3 443.1L120.8 443.5L120.3 443.9L119.9 444.3L119.4 444.7L119.1 445.0L118.7 445.4L118.4 445.7L118.1 446.0L117.7 446.3L117.5 446.6L117.2 446.9L116.9 447.2L116.7 447.5L116.4 447.8L116.2 448.1L116.0 448.4L115.7 448.7L115.5 449.0L115.3 449.3L115.1 449.5L114.9 449.8L114.6 450.1L114.4 450.4L114.2 450.7L114.0 451.0L113.8 451.3L113.6 451.6L113.4 451.8L113.2 452.1L113.0 452.4L112.8 452.8L112.5 453.1L112.3 453.4L112.1 453.7L111.9 454.0L111.6 454.4L111.4 454.7L111.2 455.1L110.9 455.4L110.6 455.8L110.4 456.1L110.1 456.5L109.8 456.9L109.5 457.3L109.2 457.6L108.9 458.0L108.5 458.4L108.2 458.8L107.8 459.2L107.4 459.6L107.0 460.0L106.6 460.4L106.2 460.8L105.7 461.1L105.2 461.5L104.8 461.8L104.2 462.1L103.7 462.4L103.2 462.7L102.6 462.9L102.1 463.2L101.5 463.4L100.9 463.6L100.3 463.7L99.7 463.9L99.1 464.0L98.5 464.1L97.8 464.1L97.2 464.2L96.6 464.2L95.9 464.3L95.2 464.3L94.6 464.3L93.9 464.2L93.2 464.2L92.5 464.1L91.9 464.0L91.2 463.9L90.5 463.8L89.8 463.7L89.0 463.5L88.3 463.3L87.6 463.1L86.9 462.9L86.2 462.7L85.5 462.4L84.8 462.1L84.1 461.8L83.5 461.4L82.8 461.0L82.2 460.6L81.6 460.1L81.0 459.6L80.5 459.1L80.0 458.5L79.5 457.9L79.2 457.2L78.9 456.5L78.6 455.8L78.5 455.0L78.3 454.3L78.3 453.5L78.3 452.7L78.3 451.9L78.4 451.1L78.5 450.4L78.7 449.6L78.9 448.8L79.1 448.1L79.4 447.4L79.6 446.6L79.9 445.9L80.2 445.3L80.5 444.6L80.8 444.0L81.1 443.4L81.5 442.8Z" fill="#2ca1c2"/>
<path d="M85.7 442.2L86.0 441.7L86.3 441.3L86.6 440.8L86.9 440.4L87.2 440.0L87.6 439.6L87.9 439.2L88.2 438.9L88.5 438.5L88.8 438.2L89.1 437.8L89.4 437.5L89.7 437.2L90.0 436.9L90.3 436.6L90.5 436.3L90.8 436.0L91.1 435.7L91.4 435.5L91.7 435.2L92.0 435.0L92.2 434.7L92.5 434.5L92.8 434.2L93.0 434.0L93.3 433.7L93.6 433.5L93.9 433.3L94.1 433.1L94.4 432.9L94.7 432.6L95.0 432.4L95.2 432.2L95.5 432.0L95.8 431.8L96.1 431.6L96.3 431.4L96.6 431.2L96.9 431.1L97.2 430.9L97.5 430.7L97.8 430.5L98.1 430.3L98.4 430.1L98.7 430.0L99.0 429.8L99.3 429.6L99.6 429.5L99.9 429.3L100.2 429.1L100.5 428.9L100.9 428.8L101.2 428.6L101.5 428.4L101.9 428.3L102.2 428.1L102.6 428.0L103.0 427.8L103.3 427.7L103.7 427.5L104.1 427.4L104.5 427.2L104.9 427.1L105.3 427.0L105.7 426.8L106.2 426.7L106.6 426.6L107.1 426.5L107.5 426.4L108.0 426.3L108.5 426.2L109.0 426.1L109.5 426.0L110.0 425.9L110.5 425.8L111.0 425.8L111.6 425.7L112.1 425.7L112.7 425.7L113.3 425.6L113.9 425.6L114.4 425.7L115.1 425.7L115.7 425.7L116.3 425.8L116.9 425.9L117.6 426.0L118.2 426.1L118.9 426.2L119.5 426.4L120.2 426.6L120.8 426.8L121.5 427.0L122.1 427.3L122.8 427.6L123.4 427.9L124.0 428.3L124.5 428.7L125.0 429.1L125.5 429.6L125.8 430.2L126.1 430.8L126.2 431.4L126.3 432.1L126.2 432.8L126.0 433.6L125.7 434.4L125.3 435.2L124.8 435.9L124.1 436.7L123.4 437.4L122.7 438.1L122.1 438.8L121.4 439.4L120.7 439.9L120.1 440.4L119.7 440.9L119.4 441.4L119.1 441.8L118.7 442.2L118.4 442.6L118.2 442.9L117.9 443.3L117.6 443.6L117.3 444.0L117.1 444.3L116.8 444.6L116.6 444.9L116.4 445.2L116.1 445.5L115.9 445.8L115.7 446.1L115.5 446.3L115.3 446.6L115.0 446.9L114.8 447.1L114.6 447.4L114.4 447.6L114.2 447.9L114.0 448.1L113.8 448.3L113.6 448.6L113.4 448.8L113.2 449.1L113.0 449.3L112.8 449.5L112.6 449.7L112.4 450.0L112.2 450.2L112.0 450.4L111.8 450.6L111.5 450.9L111.3 451.1L111.1 451.3L110.9 451.5L110.7 451.8L110.5 452.0L110.2 452.2L110.0 452.4L109.8 452.7L109.6 453.0L109.4 453.4L109.2 453.7L109.0 454.0L108.8 454.4L108.6 454.8L108.3 455.1L108.1 455.5L107.8 455.9L107.5 456.3L107.2 456.6L106.9 457.0L106.5 457.4L106.2 457.7L105.8 458.0L105.4 458.3L105.0 458.6L104.6 458.9L104.2 459.1L103.7 459.3L103.3 459.5L102.8 459.7L102.3 459.8L101.9 460.0L101.4 460.1L100.9 460.2L100.4 460.2L99.9 460.3L99.4 460.3L98.9 460.4L98.3 460.4L97.8 460.4L97.3 460.3L96.8 460.3L96.2 460.3L95.7 460.2L95.1 460.2L94.6 460.1L94.0 460.0L93.5 459.9L92.9 459.8L92.4 459.7L91.8 459.5L91.2 459.4L90.7 459.2L90.1 459.0L89.5 458.8L89.0 458.6L88.4 458.3L87.8 458.1L87.3 457.8L86.7 457.5L86.2 457.1L85.7 456.8L85.2 456.4L84.7 456.0L84.2 455.6L83.8 455.1L83.5 454.6L83.1 454.1L82.9 453.5L82.7 452.9L82.5 452.3L82.4 451.7L82.4 451.0L82.4 450.4L82.4 449.7L82.5 449.1L82.7 448.4L82.9 447.8L83.1 447.1L83.3 446.5L83.5 445.9L83.8 445.3L84.1 444.8L84.4 444.2L84.7 443.7L85.0 443.2L85.3 442.7Z" fill="#2076b3"/>
<path d="M90.0 442.2L90.2 441.8L90.5 441.5L90.7 441.2L91.0 440.8L91.2 440.5L91.5 440.2L91.7 440.0L92.0 439.7L92.2 439.4L92.4 439.2L92.7 438.9L92.9 438.7L93.1 438.4L93.4 438.2L93.6 438.0L93.8 437.8L94.0 437.5L94.2 437.3L94.4 437.1L94.7 436.9L94.9 436.7L95.1 436.6L95.3 436.4L95.5 436.2L95.7 436.0L95.9 435.8L96.1 435.7L96.3 435.5L96.5 435.3L96.7 435.2L96.9 435.0L97.2 434.9L97.4 434.7L97.6 434.6L97.8 434.4L98.0 434.3L98.2 434.1L98.4 434.0L98.6 433.9L98.8 433.7L99.1 433.6L99.3 433.5L99.5 433.3L99.7 433.2L100.0 433.1L100.2 433.0L100.4 432.9L100.7 432.8L100.9 432.6L101.1 432.5L101.4 432.4L101.6 432.3L101.9 432.2L102.1 432.1L102.4 432.0L102.6 431.9L102.9 431.8L103.2 431.7L103.4 431.6L103.7 431.5L104.0 431.4L104.3 431.3L104.6 431.2L104.9 431.1L105.2 431.0L105.5 430.9L105.8 430.7L106.2 430.6L106.5 430.5L106.9 430.4L107.2 430.3L107.6 430.2L108.0 430.1L108.4 430.0L108.8 430.0L109.2 429.9L109.6 429.9L110.0 429.9L110.4 429.9L110.8 429.9L111.2 429.9L111.7 430.0L112.1 430.0L112.5 430.1L112.9 430.2L113.3 430.3L113.7 430.5L114.1 430.6L114.5 430.8L114.9 431.0L115.3 431.2L115.7 431.4L116.1 431.6L116.5 431.8L116.9 432.1L117.3 432.3L117.6 432.6L118.0 432.9L118.3 433.2L118.7 433.5L119.0 433.9L119.3 434.2L119.6 434.6L119.8 435.0L120.0 435.4L120.2 435.9L120.3 436.3L120.4 436.8L120.4 437.2L120.4 437.7L120.3 438.2L120.1 438.7L119.9 439.2L119.7 439.6L119.4 440.1L119.1 440.6L118.8 441.0L118.5 441.4L118.2 441.8L117.8 442.2L117.5 442.5L117.3 442.9L117.0 443.2L116.7 443.5L116.5 443.9L116.2 444.2L116.0 444.4L115.7 444.7L115.5 445.0L115.3 445.3L115.0 445.5L114.8 445.8L114.6 446.0L114.4 446.3L114.2 446.5L114.0 446.8L113.8 447.0L113.6 447.2L113.4 447.4L113.2 447.7L113.0 447.9L112.8 448.1L112.7 448.3L112.5 448.5L112.3 448.7L112.1 448.9L111.9 449.2L111.7 449.4L111.5 449.6L111.3 449.8L111.1 450.0L110.9 450.2L110.7 450.4L110.6 450.6L110.4 450.8L110.2 451.0L109.9 451.2L109.7 451.4L109.5 451.6L109.3 451.9L109.1 452.1L108.9 452.3L108.6 452.5L108.4 452.7L108.1 452.8L107.9 453.0L107.6 453.2L107.4 453.4L107.1 453.5L106.8 453.7L106.5 453.9L106.2 454.0L105.9 454.1L105.6 454.3L105.3 454.4L105.0 454.5L104.7 454.6L104.4 454.7L104.1 454.8L103.7 454.9L103.4 455.0L103.0 455.0L102.7 455.1L102.4 455.2L102.0 455.2L101.6 455.3L101.3 455.3L100.9 455.4L100.5 455.4L100.2 455.5L99.8 455.5L99.4 455.5L99.0 455.5L98.6 455.5L98.2 455.5L97.8 455.5L97.4 455.5L96.9 455.5L96.5 455.4L96.1 455.4L95.6 455.4L95.2 455.3L94.7 455.2L94.3 455.2L93.8 455.1L93.4 455.0L92.9 454.8L92.4 454.7L92.0 454.6L91.5 454.4L91.0 454.2L90.6 454.0L90.1 453.8L89.7 453.5L89.3 453.2L88.9 452.9L88.5 452.6L88.2 452.3L87.9 451.9L87.6 451.5L87.4 451.0L87.2 450.6L87.1 450.1L87.1 449.6L87.1 449.1L87.1 448.6L87.2 448.0L87.3 447.5L87.4 447.0L87.6 446.5L87.8 446.0L88.0 445.5L88.2 445.0L88.5 444.6L88.7 444.1L89.0 443.7L89.2 443.3L89.5 442.9L89.7 442.5Z" fill="#24489d"/>
<path d="M94.5 442.2L94.7 441.9L94.8 441.7L95.0 441.5L95.2 441.3L95.3 441.1L95.5 440.9L95.6 440.7L95.8 440.5L96.0 440.3L96.1 440.1L96.3 440.0L96.4 439.8L96.6 439.6L96.7 439.5L96.9 439.3L97.0 439.2L97.1 439.0L97.3 438.9L97.4 438.8L97.6 438.6L97.7 438.5L97.9 438.4L98.0 438.2L98.1 438.1L98.3 438.0L98.4 437.9L98.6 437.8L98.7 437.7L98.9 437.6L99.0 437.4L99.1 437.3L99.3 437.2L99.4 437.1L99.6 437.0L99.7 436.9L99.8 436.8L100.0 436.7L100.1 436.6L100.3 436.5L100.4 436.4L100.6 436.4L100.7 436.3L100.9 436.2L101.0 436.1L101.2 436.0L101.3 435.9L101.5 435.8L101.6 435.7L101.8 435.7L102.0 435.6L102.1 435.5L102.3 435.4L102.5 435.3L102.6 435.2L102.8 435.2L103.0 435.1L103.2 435.0L103.3 434.9L103.5 434.9L103.7 434.8L103.9 434.7L104.1 434.6L104.3 434.6L104.5 434.5L104.7 434.4L105.0 434.3L105.2 434.3L105.4 434.2L105.6 434.1L105.9 434.1L106.1 434.0L106.4 434.0L106.6 433.9L106.9 433.9L107.2 433.8L107.5 433.8L107.7 433.8L108.0 433.7L108.3 433.7L108.6 433.7L108.9 433.7L109.2 433.7L109.5 433.7L109.8 433.7L110.2 433.8L110.5 433.8L110.8 433.9L111.1 434.0L111.4 434.1L111.7 434.2L111.9 434.4L112.2 434.5L112.5 434.7L112.7 434.9L112.9 435.1L113.1 435.3L113.3 435.6L113.5 435.8L113.6 436.1L113.8 436.4L113.9 436.7L114.0 436.9L114.1 437.2L114.1 437.5L114.2 437.8L114.2 438.1L114.2 438.4L114.3 438.8L114.2 439.1L114.2 439.4L114.2 439.7L114.2 440.0L114.1 440.2L114.1 440.5L114.0 440.8L113.9 441.1L113.9 441.4L113.8 441.6L113.7 441.9L113.6 442.2L113.5 442.4L113.4 442.7L113.2 442.9L113.1 443.2L113.0 443.4L112.9 443.6L112.7 443.8L112.6 444.1L112.5 444.3L112.3 444.5L112.2 444.7L112.0 444.9L111.9 445.1L111.7 445.2L111.6 445.4L111.4 445.6L111.3 445.8L111.1 445.9L110.9 446.1L110.8 446.2L110.6 446.4L110.4 446.5L110.3 446.7L110.1 446.8L109.9 446.9L109.8 447.1L109.6 447.2L109.4 447.3L109.3 447.4L109.1 447.5L108.9 447.7L108.8 447.8L108.6 447.9L108.4 448.0L108.2 448.1L108.1 448.2L107.9 448.3L107.7 448.3L107.6 448.4L107.4 448.5L107.2 448.6L107.0 448.7L106.9 448.8L106.7 448.9L106.5 448.9L106.3 449.0L106.2 449.1L106.0 449.1L105.8 449.2L105.6 449.3L105.4 449.4L105.3 449.4L105.1 449.5L104.9 449.6L104.7 449.6L104.5 449.7L104.3 449.7L104.1 449.8L103.9 449.9L103.7 449.9L103.5 450.0L103.3 450.0L103.1 450.1L102.9 450.1L102.7 450.2L102.4 450.2L102.2 450.3L102.0 450.3L101.8 450.3L101.5 450.4L101.3 450.4L101.0 450.5L100.8 450.5L100.5 450.5L100.2 450.6L100.0 450.6L99.7 450.6L99.4 450.6L99.1 450.6L98.8 450.6L98.5 450.7L98.2 450.7L97.9 450.6L97.6 450.6L97.3 450.6L96.9 450.6L96.6 450.5L96.3 450.5L95.9 450.4L95.6 450.3L95.2 450.2L94.9 450.1L94.6 450.0L94.3 449.8L94.0 449.7L93.7 449.5L93.4 449.2L93.2 449.0L93.0 448.7L92.8 448.5L92.7 448.1L92.6 447.8L92.6 447.5L92.6 447.1L92.6 446.8L92.6 446.4L92.7 446.1L92.8 445.7L92.9 445.4L93.0 445.0L93.1 444.7L93.3 444.4L93.4 444.1L93.6 443.8L93.7 443.5L93.9 443.2L94.0 442.9L94.2 442.7L94.4 442.4Z" fill="#162874"/>
<rect x="18.3" y="357.5" width="218.5" height="146.3" fill="none" stroke="#808080" stroke-width="0.70"/>
<line x1="28.0" y1="503.8" x2="28.0" y2="504.8" stroke="#444" stroke-width="0.35"/>
<text class="tk tx" x="28.0" y="507.9">164</text>
<line x1="72.2" y1="503.8" x2="72.2" y2="504.8" stroke="#444" stroke-width="0.35"/>
<text class="tk tx" x="72.2" y="507.9">166</text>
<line x1="116.4" y1="503.8" x2="116.4" y2="504.8" stroke="#444" stroke-width="0.35"/>
<text class="tk tx" x="116.4" y="507.9">168</text>
<line x1="160.6" y1="503.8" x2="160.6" y2="504.8" stroke="#444" stroke-width="0.35"/>
<text class="tk tx" x="160.6" y="507.9">170</text>
<line x1="204.8" y1="503.8" x2="204.8" y2="504.8" stroke="#444" stroke-width="0.35"/>
<text class="tk tx" x="204.8" y="507.9">172</text>
<line x1="17.3" y1="362.8" x2="18.3" y2="362.8" stroke="#444" stroke-width="0.35"/>
<text class="tk ty" x="16.7" y="363.6">125</text>
<line x1="17.3" y1="390.7" x2="18.3" y2="390.7" stroke="#444" stroke-width="0.35"/>
<text class="tk ty" x="16.7" y="391.5">120</text>
<line x1="17.3" y1="418.6" x2="18.3" y2="418.6" stroke="#444" stroke-width="0.35"/>
<text class="tk ty" x="16.7" y="419.4">115</text>
<line x1="17.3" y1="446.5" x2="18.3" y2="446.5" stroke="#444" stroke-width="0.35"/>
<text class="tk ty" x="16.7" y="447.3">110</text>
<line x1="17.3" y1="474.4" x2="18.3" y2="474.4" stroke="#444" stroke-width="0.35"/>
<text class="tk ty" x="16.7" y="475.2">105</text>
<line x1="17.3" y1="502.3" x2="18.3" y2="502.3" stroke="#444" stroke-width="0.35"/>
<text class="tk ty" x="16.7" y="503.1">100</text>
<text class="tt" x="127.5" y="356.1">R248P</text>
<text class="al" x="127.0" y="514.2">RG</text>
<text class="al" transform="translate(8.5 430.5) rotate(-90)">SASA</text>
<text class="pl" transform="translate(4.4 359.8) scale(0.84 1)">E</text>
<rect x="250.3" y="487.51" width="7.6" height="16.34" fill="#f8fcca"/>
<rect x="250.3" y="471.22" width="7.6" height="16.34" fill="#e7f6b1"/>
<rect x="250.3" y="454.93" width="7.6" height="16.34" fill="#c9eab4"/>
<rect x="250.3" y="438.64" width="7.6" height="16.34" fill="#8ed3ba"/>
<rect x="250.3" y="422.36" width="7.6" height="16.34" fill="#55bec1"/>
<rect x="250.3" y="406.07" width="7.6" height="16.34" fill="#2ca1c2"/>
<rect x="250.3" y="389.78" width="7.6" height="16.34" fill="#2076b3"/>
<rect x="250.3" y="373.49" width="7.6" height="16.34" fill="#24489d"/>
<rect x="250.3" y="357.20" width="7.6" height="16.34" fill="#162874"/>
<rect x="250.3" y="357.2" width="7.6" height="146.6" fill="none" stroke="#666" stroke-width="0.4"/>
<line x1="257.9" y1="503.80" x2="258.9" y2="503.80" stroke="#444" stroke-width="0.35"/>
<text class="tk" x="259.7" y="504.60">0.336</text>
<line x1="257.9" y1="487.51" x2="258.9" y2="487.51" stroke="#444" stroke-width="0.35"/>
<text class="tk" x="259.7" y="488.31">0.909</text>
<line x1="257.9" y1="471.22" x2="258.9" y2="471.22" stroke="#444" stroke-width="0.35"/>
<text class="tk" x="259.7" y="472.02">1.456</text>
<line x1="257.9" y1="454.93" x2="258.9" y2="454.93" stroke="#444" stroke-width="0.35"/>
<text class="tk" x="259.7" y="455.73">2.015</text>
<line x1="257.9" y1="438.64" x2="258.9" y2="438.64" stroke="#444" stroke-width="0.35"/>
<text class="tk" x="259.7" y="439.44">2.645</text>
<line x1="257.9" y1="422.36" x2="258.9" y2="422.36" stroke="#444" stroke-width="0.35"/>
<text class="tk" x="259.7" y="423.16">3.278</text>
<line x1="257.9" y1="406.07" x2="258.9" y2="406.07" stroke="#444" stroke-width="0.35"/>
<text class="tk" x="259.7" y="406.87">3.931</text>
<line x1="257.9" y1="389.78" x2="258.9" y2="389.78" stroke="#444" stroke-width="0.35"/>
<text class="tk" x="259.7" y="390.58">4.625</text>
<line x1="257.9" y1="373.49" x2="258.9" y2="373.49" stroke="#444" stroke-width="0.35"/>
<text class="tk" x="259.7" y="374.29">5.345</text>
<line x1="257.9" y1="357.20" x2="258.9" y2="357.20" stroke="#444" stroke-width="0.35"/>
<text class="tk" x="259.7" y="358.00">6.053</text>
</g>
<g>
<path d="M367.9 424.7L369.3 423.5L370.6 422.4L371.9 421.3L373.1 420.3L374.2 419.4L375.3 418.5L376.4 417.7L377.4 416.9L378.4 416.1L379.3 415.4L380.3 414.6L381.2 414.0L382.0 413.3L382.9 412.7L383.7 412.1L384.5 411.5L385.2 410.9L386.0 410.4L386.7 409.8L387.5 409.3L388.2 408.8L388.9 408.3L389.6 407.8L390.2 407.3L390.9 406.9L391.5 406.4L392.2 406.0L392.8 405.5L393.5 405.1L394.1 404.7L394.7 404.3L395.3 403.9L396.0 403.5L396.6 403.1L397.2 402.7L397.8 402.3L398.4 401.9L399.0 401.5L399.6 401.1L400.3 400.7L400.9 400.3L401.5 400.0L402.1 399.6L402.7 399.2L403.4 398.8L404.0 398.4L404.6 398.0L405.3 397.7L406.0 397.3L406.6 396.9L407.3 396.5L408.0 396.1L408.7 395.7L409.4 395.3L410.2 394.9L410.9 394.5L411.7 394.1L412.4 393.6L413.2 393.2L414.1 392.8L414.9 392.3L415.8 391.9L416.7 391.4L417.6 391.0L418.6 390.5L419.6 390.0L420.6 389.5L421.6 389.0L422.7 388.5L423.9 388.0L425.1 387.5L426.3 387.0L427.6 386.5L428.9 385.9L430.3 385.4L431.8 384.9L433.3 384.4L434.8 384.0L436.4 383.5L438.1 383.1L439.8 382.7L441.6 382.3L443.4 382.0L445.2 381.8L447.1 381.5L449.1 381.4L451.1 381.3L453.1 381.3L455.1 381.4L457.1 381.6L459.2 381.9L461.2 382.2L463.2 382.7L465.2 383.2L467.1 383.9L469.0 384.7L470.8 385.7L472.4 386.7L474.0 388.0L475.3 389.3L476.5 390.8L477.4 392.4L478.1 394.1L478.6 395.9L478.9 397.8L479.0 399.7L479.0 401.7L478.8 403.6L478.5 405.6L478.0 407.5L477.5 409.4L476.9 411.3L476.3 413.1L475.6 414.9L474.8 416.7L474.0 418.4L473.1 420.0L472.2 421.6L471.3 423.2L470.3 424.7L469.4 426.1L468.3 427.5L467.3 428.8L466.2 430.1L465.2 431.4L464.1 432.6L463.0 433.7L461.8 434.8L460.7 435.9L459.6 436.8L458.4 437.8L457.3 438.7L456.1 439.6L455.0 440.4L453.9 441.1L452.7 441.9L451.6 442.6L450.5 443.2L449.4 443.9L448.4 444.5L447.3 445.0L446.3 445.6L445.2 446.1L444.2 446.6L443.2 447.0L442.2 447.5L441.3 447.9L440.3 448.3L439.4 448.7L438.5 449.0L437.5 449.4L436.7 449.7L435.8 450.1L434.9 450.4L434.1 450.7L433.2 451.0L432.4 451.3L431.5 451.6L430.7 451.8L429.9 452.1L429.1 452.4L428.3 452.6L427.5 452.9L426.7 453.1L426.0 453.3L425.2 453.6L424.4 453.8L423.6 454.0L422.8 454.3L422.1 454.5L421.3 454.7L420.5 454.9L419.7 455.1L418.9 455.3L418.1 455.6L417.3 455.8L416.5 456.0L415.7 456.2L414.9 456.4L414.1 456.6L413.2 456.8L412.4 457.0L411.5 457.3L410.6 457.5L409.7 457.7L408.8 457.9L407.9 458.1L406.9 458.4L405.9 458.6L404.9 458.8L403.9 459.0L402.8 459.3L401.7 459.5L400.6 459.8L399.4 460.0L398.2 460.3L397.0 460.5L395.7 460.8L394.3 461.1L392.9 461.4L391.4 461.7L389.8 462.0L388.2 462.3L386.5 462.7L384.6 463.0L382.7 463.4L380.6 463.8L378.4 464.3L376.0 464.7L373.5 465.2L370.8 465.7L367.9 466.2L365.0 466.6L362.0 466.8L359.0 466.9L356.1 466.8L353.3 466.4L350.7 465.8L348.2 465.0L346.0 463.9L344.1 462.6L342.6 461.1L341.7 459.2L341.3 457.0L341.7 454.7L342.5 452.1L343.8 449.6L345.4 447.0L347.2 444.5L349.3 442.0L351.4 439.7L353.5 437.5L355.6 435.5L357.7 433.6L359.6 431.8L361.5 430.2L363.2 428.7L364.9 427.2L366.4 425.9Z" fill="#fbfed0"/>
<path d="M377.5 424.7L378.7 423.7L379.9 422.9L380.9 422.0L381.9 421.3L382.8 420.5L383.6 419.8L384.5 419.2L385.3 418.5L386.0 417.9L386.7 417.3L387.4 416.8L388.1 416.2L388.7 415.7L389.3 415.2L389.9 414.7L390.5 414.2L391.1 413.7L391.7 413.2L392.2 412.8L392.7 412.3L393.3 411.9L393.8 411.5L394.3 411.1L394.8 410.7L395.3 410.2L395.8 409.8L396.3 409.5L396.7 409.1L397.2 408.7L397.7 408.3L398.2 407.9L398.6 407.5L399.1 407.2L399.6 406.8L400.1 406.4L400.5 406.0L401.0 405.7L401.5 405.3L402.0 404.9L402.5 404.6L403.0 404.2L403.5 403.8L404.0 403.5L404.5 403.1L405.0 402.7L405.5 402.4L406.0 402.0L406.6 401.6L407.1 401.2L407.7 400.9L408.3 400.5L408.8 400.1L409.4 399.7L410.1 399.3L410.7 398.9L411.3 398.5L412.0 398.1L412.7 397.7L413.4 397.3L414.1 396.9L414.8 396.5L415.6 396.1L416.3 395.7L417.2 395.3L418.0 394.9L418.8 394.5L419.7 394.1L420.7 393.7L421.6 393.3L422.6 392.9L423.6 392.5L424.6 392.1L425.7 391.8L426.8 391.4L428.0 391.0L429.2 390.7L430.4 390.4L431.7 390.1L433.0 389.8L434.3 389.5L435.7 389.3L437.2 389.1L438.6 388.9L440.1 388.8L441.7 388.7L443.2 388.7L444.7 388.8L446.2 389.0L447.6 389.3L449.2 389.5L450.9 389.7L452.6 390.0L454.2 390.4L455.7 390.9L457.1 391.6L458.4 392.4L459.7 393.3L460.9 394.3L462.0 395.3L463.0 396.4L463.9 397.6L464.8 398.8L465.5 400.1L466.2 401.5L466.7 402.9L467.0 404.3L467.2 405.8L467.2 407.4L467.1 408.9L466.9 410.5L466.5 412.1L466.0 413.6L465.4 415.2L464.7 416.6L464.0 418.1L463.2 419.5L462.4 420.9L461.5 422.2L460.7 423.4L459.8 424.7L459.0 425.8L458.1 427.0L457.3 428.1L456.5 429.1L455.6 430.1L454.8 431.1L454.1 432.1L453.3 433.0L452.6 433.9L451.9 434.8L451.2 435.7L450.5 436.5L449.8 437.3L449.1 438.1L448.4 438.9L447.7 439.6L447.0 440.4L446.2 441.1L445.5 441.7L444.7 442.4L443.9 442.9L443.1 443.5L442.2 444.0L441.4 444.5L440.5 444.9L439.6 445.3L438.7 445.7L437.8 446.0L436.9 446.3L436.0 446.6L435.2 446.9L434.3 447.1L433.5 447.4L432.6 447.6L431.8 447.8L431.0 447.9L430.2 448.1L429.4 448.3L428.6 448.4L427.9 448.5L427.1 448.7L426.4 448.8L425.6 448.9L424.9 449.0L424.2 449.1L423.5 449.3L422.8 449.3L422.1 449.4L421.4 449.6L420.8 449.6L420.1 449.7L419.4 449.8L418.8 449.9L418.1 450.0L417.4 450.1L416.8 450.2L416.1 450.3L415.4 450.4L414.7 450.5L414.1 450.6L413.4 450.7L412.7 450.8L412.0 450.9L411.3 451.0L410.6 451.1L409.9 451.3L409.1 451.4L408.4 451.5L407.6 451.7L406.8 451.8L406.0 452.0L405.1 452.2L404.3 452.4L403.4 452.6L402.4 452.8L401.4 453.0L400.4 453.3L399.4 453.5L398.2 453.8L397.0 454.1L395.8 454.5L394.5 454.8L393.1 455.2L391.6 455.6L390.0 456.0L388.3 456.4L386.6 456.9L384.7 457.3L382.7 457.8L380.6 458.1L378.4 458.5L376.2 458.7L374.0 458.9L371.8 458.9L369.6 458.8L367.2 458.7L364.8 458.5L362.1 458.4L359.5 458.1L357.4 457.4L356.0 456.2L355.4 454.6L355.3 452.7L355.5 450.7L356.0 448.7L356.6 446.7L357.6 444.7L358.7 442.6L360.1 440.7L361.6 438.7L363.3 436.9L365.0 435.1L366.8 433.4L368.5 431.9L370.3 430.4L371.9 429.1L373.4 427.9L374.9 426.7L376.3 425.6Z" fill="#eaf7af"/>
<path d="M381.4 424.7L382.4 423.8L383.3 423.0L384.1 422.3L384.9 421.6L385.8 420.9L386.5 420.3L387.2 419.7L388.0 419.1L388.6 418.6L389.3 418.0L390.0 417.5L390.6 417.0L391.2 416.6L391.8 416.1L392.3 415.7L392.9 415.2L393.4 414.8L394.0 414.4L394.5 414.0L395.0 413.6L395.5 413.3L396.0 412.9L396.5 412.6L396.9 412.2L397.4 411.9L397.9 411.5L398.3 411.2L398.8 410.9L399.2 410.5L399.6 410.2L400.1 409.9L400.5 409.6L400.9 409.3L401.4 409.0L401.8 408.7L402.2 408.4L402.7 408.1L403.1 407.8L403.5 407.5L404.0 407.2L404.4 406.9L404.9 406.6L405.3 406.3L405.7 405.9L406.2 405.7L406.7 405.3L407.1 405.0L407.6 404.7L408.1 404.4L408.6 404.1L409.1 403.8L409.6 403.5L410.1 403.1L410.6 402.8L411.1 402.5L411.7 402.2L412.3 401.8L412.9 401.5L413.5 401.1L414.1 400.8L414.7 400.4L415.4 400.1L416.0 399.7L416.7 399.3L417.4 399.0L418.2 398.6L419.0 398.2L419.8 397.9L420.6 397.5L421.4 397.1L422.3 396.8L423.3 396.4L424.2 396.0L425.2 395.7L426.2 395.3L427.3 395.0L428.4 394.7L429.5 394.4L430.7 394.1L431.9 393.9L433.1 393.6L434.3 393.5L435.6 393.3L436.9 393.2L438.3 393.1L439.6 393.1L441.0 393.2L442.3 393.3L443.7 393.4L445.0 393.7L446.4 394.0L447.7 394.4L449.0 394.9L450.2 395.4L451.3 396.1L452.5 396.8L453.5 397.6L454.5 398.4L455.4 399.3L456.2 400.3L457.0 401.3L457.7 402.4L458.3 403.6L458.8 404.7L459.2 406.0L459.6 407.2L459.8 408.5L459.9 409.8L459.9 411.1L459.8 412.4L459.6 413.7L459.3 415.0L459.0 416.3L458.5 417.6L458.0 418.9L457.5 420.1L456.9 421.3L456.3 422.4L455.7 423.6L455.0 424.7L454.4 425.7L453.7 426.7L453.0 427.7L452.3 428.7L451.6 429.6L450.9 430.5L450.2 431.4L449.5 432.2L448.8 433.0L448.1 433.8L447.4 434.5L446.7 435.3L446.0 436.0L445.3 436.7L444.6 437.3L443.9 438.0L443.2 438.6L442.5 439.1L441.8 439.7L441.0 440.2L440.3 440.7L439.5 441.2L438.8 441.6L438.0 442.0L437.2 442.4L436.5 442.8L435.7 443.1L434.9 443.4L434.1 443.7L433.3 443.9L432.6 444.2L431.8 444.4L431.0 444.5L430.3 444.7L429.6 444.8L428.8 445.0L428.1 445.1L427.4 445.2L426.7 445.3L426.1 445.4L425.4 445.5L424.7 445.6L424.1 445.6L423.4 445.7L422.8 445.8L422.2 445.9L421.6 445.9L421.0 446.0L420.4 446.0L419.8 446.1L419.2 446.1L418.7 446.2L418.1 446.3L417.5 446.3L416.9 446.4L416.4 446.5L415.8 446.5L415.2 446.6L414.6 446.7L414.1 446.8L413.5 446.9L412.9 446.9L412.3 447.1L411.7 447.2L411.1 447.3L410.5 447.4L409.8 447.5L409.2 447.7L408.5 447.8L407.8 448.0L407.1 448.1L406.4 448.3L405.6 448.5L404.8 448.7L404.0 448.9L403.2 449.1L402.3 449.4L401.3 449.7L400.3 449.9L399.3 450.2L398.2 450.6L397.0 450.9L395.8 451.3L394.5 451.6L393.1 452.0L391.6 452.4L390.0 452.9L388.3 453.3L386.6 453.7L384.7 454.0L382.8 454.4L380.8 454.6L378.8 454.8L376.7 454.9L374.7 454.9L372.7 454.7L370.7 454.5L368.8 454.0L367.1 453.5L365.5 452.7L364.2 451.7L363.3 450.5L362.7 449.1L362.7 447.5L363.1 445.8L364.0 443.9L365.2 442.0L366.5 440.1L368.0 438.3L369.4 436.6L370.9 435.0L372.3 433.5L373.6 432.2L374.9 430.9L376.1 429.7L377.3 428.5L378.4 427.5L379.4 426.5L380.5 425.5Z" fill="#c9e99c"/>
<path d="M386.4 424.7L387.2 424.0L387.9 423.3L388.5 422.6L389.2 422.0L389.8 421.5L390.4 420.9L391.0 420.4L391.5 419.9L392.1 419.4L392.6 418.9L393.1 418.4L393.6 418.0L394.1 417.6L394.6 417.2L395.0 416.8L395.5 416.4L395.9 416.0L396.4 415.6L396.8 415.3L397.2 414.9L397.6 414.6L398.1 414.3L398.5 413.9L398.9 413.6L399.3 413.3L399.7 413.0L400.1 412.7L400.5 412.4L400.8 412.1L401.2 411.8L401.6 411.5L402.0 411.3L402.4 411.0L402.8 410.7L403.1 410.4L403.5 410.2L403.9 409.9L404.3 409.6L404.7 409.4L405.1 409.1L405.5 408.8L405.9 408.6L406.3 408.3L406.7 408.0L407.1 407.8L407.5 407.5L407.9 407.3L408.3 407.0L408.8 406.7L409.2 406.5L409.6 406.2L410.1 406.0L410.6 405.7L411.0 405.4L411.5 405.1L412.0 404.9L412.5 404.6L413.0 404.3L413.5 404.0L414.1 403.8L414.6 403.5L415.2 403.2L415.8 402.9L416.4 402.6L417.0 402.3L417.7 402.0L418.3 401.7L419.0 401.4L419.7 401.1L420.5 400.8L421.2 400.5L422.0 400.1L422.9 399.8L423.7 399.5L424.6 399.2L425.5 398.9L426.5 398.6L427.5 398.3L428.5 398.1L429.6 397.8L430.7 397.6L431.8 397.4L432.9 397.2L434.1 397.1L435.3 397.0L436.5 396.9L437.7 396.9L439.0 397.0L440.2 397.2L441.4 397.4L442.5 397.7L443.6 398.0L444.7 398.5L445.8 399.0L446.8 399.6L447.7 400.2L448.6 400.9L449.4 401.7L450.2 402.5L451.0 403.4L451.6 404.3L452.3 405.2L452.8 406.2L453.4 407.2L453.8 408.2L454.2 409.3L454.4 410.4L454.6 411.5L454.6 412.7L454.5 413.8L454.2 415.0L453.8 416.2L453.3 417.4L452.8 418.5L452.2 419.6L451.5 420.7L450.9 421.8L450.2 422.8L449.5 423.7L448.8 424.7L448.2 425.6L447.5 426.4L446.9 427.2L446.3 428.0L445.7 428.8L445.1 429.6L444.5 430.3L443.9 431.0L443.3 431.7L442.7 432.3L442.2 433.0L441.6 433.6L441.0 434.2L440.5 434.8L439.9 435.4L439.3 435.9L438.7 436.4L438.1 436.9L437.5 437.4L436.9 437.9L436.3 438.3L435.7 438.7L435.1 439.1L434.5 439.5L433.8 439.8L433.2 440.2L432.6 440.5L431.9 440.7L431.3 441.0L430.7 441.3L430.0 441.5L429.4 441.7L428.8 441.9L428.2 442.1L427.6 442.3L427.0 442.4L426.4 442.6L425.8 442.8L425.2 442.9L424.7 443.0L424.1 443.1L423.5 443.3L423.0 443.4L422.5 443.5L421.9 443.6L421.4 443.7L420.8 443.8L420.3 443.9L419.8 444.0L419.3 444.1L418.8 444.2L418.2 444.3L417.7 444.4L417.2 444.5L416.7 444.6L416.2 444.7L415.7 444.8L415.1 444.9L414.6 445.0L414.1 445.2L413.5 445.3L413.0 445.4L412.4 445.5L411.9 445.7L411.3 445.8L410.7 445.9L410.1 446.0L409.5 446.2L408.9 446.3L408.2 446.5L407.6 446.6L406.9 446.8L406.2 447.0L405.4 447.1L404.7 447.3L403.9 447.5L403.1 447.7L402.2 447.9L401.4 448.1L400.4 448.3L399.5 448.5L398.4 448.7L397.4 449.0L396.2 449.2L395.1 449.4L393.8 449.7L392.5 449.9L391.1 450.2L389.7 450.4L388.1 450.6L386.5 450.8L384.8 451.0L383.1 451.1L381.3 451.2L379.4 451.2L377.6 451.2L375.7 451.0L373.9 450.8L372.2 450.3L370.7 449.7L369.5 448.9L368.7 447.8L368.5 446.4L368.8 444.8L369.6 443.1L370.8 441.3L372.2 439.5L373.7 437.8L375.1 436.2L376.5 434.7L377.8 433.4L379.0 432.1L380.2 430.9L381.2 429.9L382.2 428.9L383.2 427.9L384.0 427.0L384.9 426.2L385.7 425.4Z" fill="#a1d889"/>
<path d="M389.3 424.7L389.9 424.0L390.5 423.4L391.1 422.9L391.7 422.3L392.2 421.8L392.7 421.3L393.2 420.8L393.7 420.3L394.2 419.9L394.7 419.5L395.1 419.1L395.6 418.7L396.0 418.3L396.5 417.9L396.9 417.5L397.3 417.2L397.7 416.8L398.1 416.5L398.5 416.2L398.9 415.9L399.2 415.6L399.6 415.3L400.0 415.0L400.3 414.7L400.7 414.4L401.1 414.1L401.4 413.9L401.8 413.6L402.1 413.3L402.5 413.1L402.8 412.8L403.2 412.6L403.5 412.3L403.9 412.1L404.2 411.8L404.6 411.6L404.9 411.3L405.3 411.1L405.6 410.8L406.0 410.6L406.3 410.4L406.7 410.1L407.0 409.9L407.4 409.7L407.8 409.4L408.1 409.2L408.5 409.0L408.9 408.7L409.3 408.5L409.7 408.3L410.1 408.0L410.5 407.8L410.9 407.6L411.3 407.3L411.8 407.1L412.2 406.9L412.6 406.6L413.1 406.4L413.6 406.1L414.1 405.9L414.6 405.6L415.1 405.4L415.6 405.1L416.1 404.9L416.7 404.6L417.3 404.4L417.9 404.1L418.5 403.8L419.1 403.6L419.8 403.3L420.5 403.1L421.2 402.8L421.9 402.5L422.7 402.3L423.4 402.0L424.3 401.8L425.1 401.5L426.0 401.3L426.9 401.1L427.8 400.8L428.8 400.6L429.8 400.5L430.8 400.3L431.9 400.2L432.9 400.1L434.0 400.0L435.1 400.0L436.2 400.1L437.3 400.2L438.3 400.4L439.4 400.6L440.4 401.0L441.4 401.4L442.3 401.8L443.2 402.3L444.0 402.9L444.7 403.6L445.4 404.3L446.1 405.1L446.6 405.9L447.2 406.7L447.7 407.5L448.1 408.4L448.5 409.3L448.8 410.3L449.1 411.2L449.3 412.2L449.5 413.2L449.5 414.2L449.5 415.2L449.3 416.2L449.0 417.2L448.4 418.3L447.7 419.3L446.9 420.3L446.2 421.3L445.6 422.2L445.1 423.0L444.7 423.9L444.3 424.7L443.8 425.4L443.3 426.2L442.7 426.9L442.0 427.6L441.2 428.2L440.4 428.8L439.6 429.4L439.0 429.9L438.3 430.5L437.7 431.0L437.1 431.5L436.6 432.0L436.1 432.5L435.6 432.9L435.1 433.4L434.6 433.8L434.2 434.2L433.7 434.7L433.2 435.1L432.8 435.5L432.3 435.8L431.8 436.2L431.4 436.5L430.9 436.9L430.4 437.2L429.9 437.5L429.4 437.7L428.9 438.0L428.3 438.2L427.8 438.4L427.2 438.5L426.6 438.6L426.1 438.7L425.5 438.8L424.9 438.8L424.4 438.9L423.9 438.9L423.4 439.0L422.9 439.1L422.5 439.3L422.1 439.4L421.8 439.8L421.4 440.1L421.2 440.6L420.9 441.2L420.6 441.7L420.3 442.1L419.9 442.5L419.4 442.7L419.0 442.9L418.5 443.1L418.0 443.2L417.5 443.2L417.0 443.3L416.5 443.3L416.0 443.4L415.5 443.4L415.1 443.4L414.6 443.5L414.1 443.5L413.6 443.6L413.1 443.6L412.6 443.7L412.1 443.7L411.5 443.8L411.0 443.9L410.5 444.0L409.9 444.1L409.4 444.2L408.8 444.3L408.2 444.4L407.6 444.5L407.0 444.6L406.4 444.7L405.7 444.9L405.0 445.0L404.3 445.2L403.5 445.3L402.8 445.5L401.9 445.7L401.1 445.9L400.2 446.0L399.2 446.2L398.2 446.5L397.2 446.7L396.1 446.9L394.9 447.1L393.7 447.3L392.4 447.5L391.0 447.7L389.6 447.9L388.0 448.1L386.5 448.2L384.9 448.3L383.2 448.3L381.5 448.3L379.9 448.1L378.3 447.9L376.9 447.4L375.8 446.7L375.0 445.9L374.1 445.0L373.4 444.1L374.1 442.5L375.5 440.6L376.8 439.0L378.0 437.4L379.2 436.0L380.3 434.7L381.3 433.4L382.3 432.3L383.2 431.2L384.1 430.2L384.9 429.3L385.7 428.4L386.5 427.6L387.2 426.8L387.9 426.0L388.6 425.3Z" fill="#75c578"/>
<path d="M392.8 424.7L393.4 424.1L394.0 423.6L394.5 423.1L395.1 422.7L395.6 422.2L396.1 421.8L396.6 421.4L397.0 421.0L397.5 420.7L397.9 420.3L398.3 420.0L398.7 419.7L399.1 419.3L399.4 419.0L399.8 418.7L400.2 418.5L400.5 418.2L400.8 417.9L401.2 417.7L401.5 417.4L401.8 417.1L402.1 416.9L402.4 416.7L402.7 416.4L403.0 416.2L403.3 416.0L403.6 415.7L403.9 415.5L404.2 415.3L404.5 415.1L404.8 414.9L405.0 414.6L405.3 414.4L405.6 414.2L405.9 414.0L406.2 413.8L406.5 413.6L406.8 413.4L407.0 413.2L407.3 413.0L407.6 412.8L407.9 412.6L408.2 412.4L408.5 412.2L408.8 412.0L409.1 411.7L409.4 411.5L409.7 411.3L410.1 411.1L410.4 410.9L410.7 410.7L411.1 410.5L411.4 410.3L411.8 410.0L412.1 409.8L412.5 409.6L412.9 409.3L413.3 409.1L413.7 408.9L414.1 408.6L414.5 408.4L414.9 408.1L415.4 407.8L415.9 407.6L416.4 407.3L416.9 407.0L417.4 406.7L417.9 406.4L418.5 406.1L419.1 405.8L419.7 405.5L420.4 405.2L421.1 404.9L421.8 404.6L422.5 404.3L423.2 404.1L424.0 403.8L424.8 403.6L425.7 403.3L426.5 403.1L427.4 403.0L428.2 402.9L429.1 402.8L430.0 402.8L430.9 402.8L431.7 402.8L432.6 402.9L433.5 403.1L434.3 403.3L435.2 403.6L436.0 403.8L436.8 404.2L437.6 404.6L438.4 405.0L439.1 405.4L439.8 405.9L440.5 406.5L441.1 407.1L441.7 407.7L442.3 408.4L442.7 409.1L443.2 409.8L443.5 410.6L443.9 411.4L444.1 412.2L444.3 413.1L444.4 413.9L444.5 414.8L444.5 415.6L444.4 416.5L444.3 417.4L444.1 418.3L443.8 419.1L443.5 420.0L443.1 420.8L442.6 421.7L442.1 422.5L441.5 423.2L441.0 424.0L440.4 424.7L439.7 425.3L439.1 426.0L438.5 426.6L437.9 427.2L437.3 427.7L436.6 428.2L436.0 428.7L435.4 429.2L434.9 429.7L434.3 430.1L433.8 430.5L433.2 430.9L432.7 431.3L432.2 431.6L431.7 432.0L431.2 432.3L430.7 432.6L430.3 432.9L429.8 433.2L429.4 433.5L428.9 433.8L428.5 434.0L428.1 434.3L427.7 434.6L427.3 434.8L426.9 435.0L426.5 435.3L426.1 435.5L425.7 435.7L425.3 435.9L425.0 436.1L424.6 436.3L424.2 436.5L423.9 436.7L423.5 436.9L423.1 437.1L422.8 437.3L422.4 437.5L422.0 437.7L421.7 437.8L421.3 438.0L421.0 438.2L420.6 438.4L420.2 438.5L419.9 438.7L419.5 438.8L419.2 439.0L418.8 439.2L418.4 439.3L418.0 439.5L417.7 439.6L417.3 439.8L416.9 439.9L416.5 440.1L416.1 440.2L415.7 440.4L415.3 440.5L414.9 440.7L414.5 440.8L414.1 441.0L413.6 441.1L413.2 441.3L412.8 441.4L412.3 441.6L411.8 441.7L411.3 441.9L410.9 442.0L410.4 442.1L409.8 442.3L409.3 442.4L408.8 442.6L408.2 442.7L407.6 442.9L407.0 443.0L406.4 443.2L405.8 443.3L405.1 443.5L404.4 443.6L403.7 443.8L402.9 443.9L402.2 444.1L401.4 444.2L400.5 444.4L399.6 444.5L398.7 444.7L397.8 444.8L396.8 444.9L395.7 445.1L394.6 445.2L393.5 445.3L392.3 445.3L391.1 445.4L389.8 445.4L388.5 445.4L387.2 445.3L385.8 445.2L384.5 445.0L383.2 444.7L382.0 444.3L380.9 443.8L380.0 443.1L379.5 442.3L379.4 441.2L379.6 440.0L380.2 438.7L380.9 437.4L381.8 436.1L382.7 434.9L383.7 433.7L384.6 432.5L385.6 431.5L386.5 430.5L387.5 429.6L388.3 428.7L389.2 427.9L390.0 427.2L390.7 426.5L391.4 425.8L392.1 425.2Z" fill="#45ad5f"/>
<path d="M396.4 424.7L396.9 424.2L397.5 423.8L398.0 423.4L398.5 423.0L398.9 422.7L399.4 422.3L399.8 422.0L400.2 421.7L400.6 421.4L400.9 421.1L401.3 420.9L401.6 420.6L401.9 420.4L402.2 420.1L402.5 419.9L402.8 419.7L403.1 419.4L403.4 419.2L403.7 419.0L403.9 418.8L404.2 418.6L404.4 418.4L404.7 418.2L404.9 418.0L405.2 417.8L405.4 417.6L405.6 417.5L405.9 417.3L406.1 417.1L406.3 416.9L406.5 416.7L406.8 416.6L407.0 416.4L407.2 416.2L407.4 416.0L407.7 415.8L407.9 415.7L408.1 415.5L408.4 415.3L408.6 415.1L408.8 415.0L409.0 414.8L409.3 414.6L409.5 414.4L409.8 414.3L410.0 414.1L410.3 413.9L410.5 413.7L410.8 413.5L411.0 413.3L411.3 413.1L411.6 412.9L411.9 412.7L412.1 412.5L412.4 412.3L412.8 412.1L413.1 411.9L413.4 411.7L413.7 411.5L414.1 411.3L414.4 411.0L414.8 410.8L415.2 410.6L415.6 410.3L416.0 410.1L416.4 409.8L416.9 409.6L417.3 409.3L417.8 409.1L418.3 408.8L418.8 408.6L419.4 408.3L419.9 408.1L420.5 407.8L421.1 407.6L421.8 407.4L422.4 407.2L423.1 407.0L423.8 406.8L424.5 406.6L425.2 406.5L425.9 406.4L426.7 406.3L427.4 406.3L428.1 406.3L428.9 406.4L429.6 406.4L430.4 406.5L431.1 406.7L431.8 406.9L432.6 407.1L433.3 407.4L434.0 407.7L434.6 408.0L435.3 408.4L435.9 408.8L436.5 409.3L437.0 409.7L437.6 410.3L438.0 410.8L438.4 411.4L438.8 412.1L439.1 412.7L439.4 413.4L439.6 414.1L439.7 414.8L439.8 415.6L439.8 416.3L439.8 417.0L439.7 417.8L439.6 418.5L439.5 419.3L439.2 420.0L439.0 420.7L438.7 421.4L438.3 422.1L437.9 422.8L437.4 423.4L436.9 424.1L436.4 424.7L435.8 425.2L435.2 425.8L434.6 426.3L434.1 426.8L433.5 427.2L432.9 427.6L432.3 428.0L431.7 428.4L431.2 428.8L430.6 429.1L430.1 429.4L429.6 429.7L429.1 430.0L428.7 430.3L428.2 430.5L427.8 430.8L427.4 431.0L426.9 431.2L426.6 431.4L426.2 431.6L425.8 431.9L425.4 432.0L425.1 432.2L424.8 432.4L424.4 432.6L424.1 432.8L423.8 433.0L423.5 433.1L423.2 433.3L422.9 433.5L422.6 433.7L422.3 433.8L422.0 434.0L421.8 434.1L421.5 434.3L421.2 434.5L420.9 434.6L420.6 434.8L420.4 434.9L420.1 435.1L419.8 435.3L419.5 435.4L419.3 435.6L419.0 435.7L418.7 435.9L418.4 436.0L418.2 436.2L417.9 436.4L417.6 436.5L417.3 436.7L417.0 436.8L416.7 437.0L416.4 437.1L416.1 437.3L415.8 437.4L415.4 437.6L415.1 437.8L414.8 437.9L414.4 438.1L414.1 438.2L413.7 438.4L413.3 438.5L413.0 438.7L412.6 438.9L412.2 439.0L411.8 439.2L411.4 439.3L410.9 439.5L410.5 439.6L410.0 439.8L409.5 439.9L409.1 440.1L408.6 440.2L408.0 440.4L407.5 440.5L407.0 440.6L406.4 440.8L405.8 440.9L405.2 441.0L404.5 441.2L403.9 441.3L403.2 441.4L402.5 441.5L401.7 441.7L400.9 441.8L400.1 441.9L399.3 442.0L398.4 442.0L397.5 442.1L396.6 442.2L395.6 442.2L394.6 442.2L393.5 442.2L392.4 442.2L391.3 442.1L390.2 442.0L389.0 441.9L387.9 441.7L386.7 441.4L385.6 441.1L384.7 440.6L384.0 440.0L383.8 439.1L384.0 438.0L384.6 436.9L385.3 435.7L386.2 434.5L387.1 433.4L388.0 432.4L389.0 431.4L389.8 430.5L390.7 429.6L391.5 428.8L392.3 428.1L393.1 427.4L393.8 426.8L394.5 426.2L395.1 425.7L395.8 425.1Z" fill="#268846"/>
<path d="M400.3 424.7L400.7 424.3L401.1 424.0L401.5 423.7L401.8 423.4L402.1 423.1L402.4 422.8L402.7 422.6L403.0 422.3L403.3 422.1L403.6 421.8L403.8 421.6L404.1 421.4L404.3 421.2L404.6 421.0L404.8 420.8L405.0 420.6L405.3 420.5L405.5 420.3L405.7 420.1L405.9 420.0L406.1 419.8L406.3 419.6L406.5 419.5L406.7 419.3L406.9 419.2L407.1 419.0L407.3 418.9L407.5 418.8L407.7 418.6L407.9 418.5L408.1 418.4L408.3 418.2L408.5 418.1L408.6 418.0L408.8 417.8L409.0 417.7L409.2 417.6L409.4 417.5L409.6 417.3L409.8 417.2L410.0 417.1L410.2 417.0L410.3 416.8L410.5 416.7L410.7 416.6L410.9 416.5L411.1 416.4L411.3 416.2L411.5 416.1L411.7 416.0L412.0 415.9L412.2 415.7L412.4 415.6L412.6 415.5L412.8 415.4L413.1 415.2L413.3 415.1L413.6 415.0L413.8 414.8L414.1 414.7L414.3 414.6L414.6 414.4L414.9 414.3L415.2 414.1L415.5 414.0L415.8 413.8L416.1 413.7L416.4 413.5L416.8 413.4L417.1 413.2L417.5 413.1L417.9 412.9L418.3 412.8L418.7 412.6L419.1 412.4L419.6 412.2L420.1 412.1L420.6 411.9L421.1 411.7L421.6 411.6L422.2 411.4L422.8 411.2L423.4 411.1L424.0 410.9L424.7 410.8L425.4 410.7L426.1 410.6L426.8 410.5L427.5 410.5L428.2 410.5L428.9 410.5L429.6 410.6L430.3 410.8L431.0 411.0L431.6 411.2L432.2 411.5L432.7 411.9L433.1 412.3L433.5 412.7L433.9 413.2L434.1 413.8L434.3 414.3L434.5 414.9L434.6 415.5L434.7 416.1L434.7 416.7L434.7 417.4L434.6 418.0L434.5 418.6L434.3 419.2L434.1 419.9L433.8 420.5L433.4 421.1L433.1 421.7L432.6 422.2L432.2 422.8L431.8 423.3L431.3 423.8L430.9 424.2L430.5 424.7L430.1 425.1L429.6 425.5L429.3 425.9L428.9 426.2L428.5 426.6L428.1 426.9L427.8 427.2L427.4 427.5L427.1 427.8L426.7 428.1L426.4 428.3L426.1 428.6L425.8 428.8L425.5 429.0L425.2 429.3L424.9 429.5L424.6 429.7L424.3 429.9L424.0 430.1L423.8 430.2L423.5 430.4L423.2 430.6L423.0 430.8L422.7 430.9L422.5 431.1L422.2 431.2L422.0 431.4L421.7 431.5L421.5 431.7L421.2 431.8L421.0 432.0L420.8 432.1L420.5 432.2L420.3 432.4L420.1 432.5L419.8 432.6L419.6 432.7L419.4 432.8L419.2 433.0L418.9 433.1L418.7 433.2L418.5 433.3L418.2 433.4L418.0 433.5L417.8 433.6L417.6 433.7L417.3 433.9L417.1 434.0L416.9 434.1L416.6 434.2L416.4 434.3L416.1 434.4L415.9 434.5L415.6 434.6L415.4 434.7L415.1 434.8L414.9 434.9L414.6 435.0L414.3 435.1L414.1 435.2L413.8 435.3L413.5 435.4L413.2 435.5L412.9 435.6L412.6 435.7L412.3 435.9L412.0 436.0L411.6 436.1L411.3 436.2L411.0 436.3L410.6 436.4L410.2 436.5L409.8 436.6L409.4 436.7L409.0 436.8L408.6 437.0L408.1 437.1L407.7 437.2L407.2 437.3L406.7 437.4L406.2 437.5L405.6 437.6L405.1 437.7L404.5 437.9L403.9 438.0L403.2 438.1L402.5 438.1L401.8 438.2L401.1 438.3L400.4 438.4L399.6 438.4L398.8 438.5L397.9 438.5L397.0 438.5L396.2 438.4L395.3 438.3L394.3 438.2L393.4 438.1L392.5 437.9L391.7 437.6L390.8 437.3L390.1 436.9L389.5 436.4L389.2 435.7L389.4 434.9L390.1 433.8L391.3 432.7L392.5 431.7L393.6 430.7L394.6 429.9L395.4 429.1L396.2 428.5L396.8 427.9L397.5 427.3L398.0 426.8L398.5 426.3L399.0 425.8L399.5 425.4L399.9 425.0Z" fill="#086e3a"/>
<path d="M404.4 424.7L404.7 424.4L405.0 424.2L405.3 424.0L405.6 423.8L405.8 423.6L406.1 423.4L406.3 423.2L406.5 423.1L406.7 422.9L406.9 422.7L407.1 422.6L407.3 422.5L407.5 422.3L407.7 422.2L407.8 422.1L408.0 422.0L408.2 421.8L408.3 421.7L408.5 421.6L408.6 421.5L408.8 421.4L408.9 421.3L409.1 421.2L409.2 421.1L409.3 421.0L409.5 420.9L409.6 420.9L409.7 420.8L409.9 420.7L410.0 420.6L410.1 420.5L410.3 420.4L410.4 420.3L410.5 420.3L410.6 420.2L410.8 420.1L410.9 420.0L411.0 419.9L411.1 419.9L411.3 419.8L411.4 419.7L411.5 419.6L411.6 419.6L411.8 419.5L411.9 419.4L412.0 419.3L412.1 419.2L412.3 419.2L412.4 419.1L412.6 419.0L412.7 418.9L412.8 418.8L413.0 418.7L413.1 418.7L413.3 418.6L413.4 418.5L413.6 418.4L413.7 418.3L413.9 418.2L414.1 418.1L414.2 418.0L414.4 417.9L414.6 417.8L414.8 417.7L415.0 417.6L415.2 417.5L415.4 417.4L415.6 417.2L415.9 417.1L416.1 417.0L416.4 416.9L416.6 416.7L416.9 416.6L417.2 416.4L417.5 416.3L417.9 416.1L418.2 415.9L418.6 415.8L419.0 415.6L419.4 415.4L419.9 415.2L420.4 415.0L420.9 414.8L421.4 414.6L422.0 414.4L422.6 414.2L423.2 414.0L423.8 413.8L424.5 413.7L425.1 413.6L425.8 413.6L426.4 413.6L426.9 413.7L427.3 413.9L427.7 414.2L427.9 414.6L428.1 415.0L428.2 415.5L428.3 416.0L428.3 416.5L428.2 417.0L428.2 417.5L428.0 418.0L427.9 418.5L427.8 419.0L427.6 419.5L427.4 419.9L427.2 420.4L427.0 420.8L426.8 421.3L426.5 421.7L426.3 422.1L426.1 422.4L425.8 422.8L425.6 423.1L425.3 423.5L425.1 423.8L424.8 424.1L424.6 424.4L424.3 424.7L424.1 424.9L423.8 425.2L423.6 425.4L423.3 425.6L423.1 425.9L422.9 426.1L422.7 426.3L422.5 426.4L422.2 426.6L422.0 426.8L421.8 427.0L421.6 427.1L421.4 427.3L421.3 427.4L421.1 427.6L420.9 427.7L420.7 427.8L420.5 428.0L420.4 428.1L420.2 428.2L420.0 428.3L419.9 428.4L419.7 428.5L419.5 428.6L419.4 428.7L419.2 428.8L419.1 428.9L418.9 429.0L418.8 429.1L418.6 429.2L418.5 429.3L418.3 429.4L418.2 429.5L418.0 429.6L417.9 429.6L417.7 429.7L417.6 429.8L417.5 429.9L417.3 430.0L417.2 430.0L417.0 430.1L416.9 430.2L416.7 430.3L416.6 430.4L416.5 430.4L416.3 430.5L416.2 430.6L416.0 430.7L415.9 430.7L415.7 430.8L415.6 430.9L415.4 430.9L415.3 431.0L415.1 431.1L414.9 431.2L414.8 431.3L414.6 431.3L414.4 431.4L414.2 431.5L414.1 431.6L413.9 431.6L413.7 431.7L413.5 431.8L413.3 431.9L413.1 432.0L412.9 432.1L412.7 432.2L412.5 432.2L412.2 432.3L412.0 432.4L411.7 432.5L411.5 432.6L411.2 432.7L410.9 432.8L410.7 432.9L410.4 433.0L410.0 433.1L409.7 433.2L409.4 433.3L409.0 433.4L408.6 433.6L408.2 433.7L407.8 433.8L407.3 433.9L406.9 434.0L406.4 434.2L405.9 434.3L405.3 434.4L404.8 434.5L404.2 434.5L403.6 434.6L403.0 434.6L402.4 434.6L401.9 434.5L401.4 434.4L400.9 434.2L400.5 434.0L400.1 433.7L399.8 433.4L399.5 433.1L399.3 432.7L399.1 432.3L399.1 431.8L399.1 431.3L399.1 430.8L399.3 430.3L399.5 429.8L399.8 429.3L400.1 428.8L400.5 428.3L400.9 427.8L401.3 427.4L401.8 426.9L402.2 426.5L402.6 426.2L403.0 425.8L403.4 425.5L403.7 425.2L404.1 424.9Z" fill="#00522e"/>
<rect x="302.2" y="355.7" width="215.2" height="149.4" fill="none" stroke="#808080" stroke-width="0.70"/>
<line x1="307.6" y1="505.1" x2="307.6" y2="506.1" stroke="#444" stroke-width="0.35"/>
<text class="tk tx" x="307.6" y="508.6">166</text>
<line x1="334.9" y1="505.1" x2="334.9" y2="506.1" stroke="#444" stroke-width="0.35"/>
<text class="tk tx" x="334.9" y="508.6">167</text>
<line x1="362.1" y1="505.1" x2="362.1" y2="506.1" stroke="#444" stroke-width="0.35"/>
<text class="tk tx" x="362.1" y="508.6">168</text>
<line x1="389.4" y1="505.1" x2="389.4" y2="506.1" stroke="#444" stroke-width="0.35"/>
<text class="tk tx" x="389.4" y="508.6">169</text>
<line x1="416.6" y1="505.1" x2="416.6" y2="506.1" stroke="#444" stroke-width="0.35"/>
<text class="tk tx" x="416.6" y="508.6">170</text>
<line x1="443.9" y1="505.1" x2="443.9" y2="506.1" stroke="#444" stroke-width="0.35"/>
<text class="tk tx" x="443.9" y="508.6">171</text>
<line x1="471.1" y1="505.1" x2="471.1" y2="506.1" stroke="#444" stroke-width="0.35"/>
<text class="tk tx" x="471.1" y="508.6">172</text>
<line x1="498.4" y1="505.1" x2="498.4" y2="506.1" stroke="#444" stroke-width="0.35"/>
<text class="tk tx" x="498.4" y="508.6">173</text>
<line x1="301.2" y1="366.7" x2="302.2" y2="366.7" stroke="#444" stroke-width="0.35"/>
<text class="tk ty" x="300.6" y="367.5">122.5</text>
<line x1="301.2" y1="383.8" x2="302.2" y2="383.8" stroke="#444" stroke-width="0.35"/>
<text class="tk ty" x="300.6" y="384.6">120.0</text>
<line x1="301.2" y1="400.9" x2="302.2" y2="400.9" stroke="#444" stroke-width="0.35"/>
<text class="tk ty" x="300.6" y="401.7">117.5</text>
<line x1="301.2" y1="418.0" x2="302.2" y2="418.0" stroke="#444" stroke-width="0.35"/>
<text class="tk ty" x="300.6" y="418.8">115.0</text>
<line x1="301.2" y1="435.1" x2="302.2" y2="435.1" stroke="#444" stroke-width="0.35"/>
<text class="tk ty" x="300.6" y="435.9">112.5</text>
<line x1="301.2" y1="452.2" x2="302.2" y2="452.2" stroke="#444" stroke-width="0.35"/>
<text class="tk ty" x="300.6" y="453.0">110.0</text>
<line x1="301.2" y1="469.3" x2="302.2" y2="469.3" stroke="#444" stroke-width="0.35"/>
<text class="tk ty" x="300.6" y="470.1">107.5</text>
<line x1="301.2" y1="486.4" x2="302.2" y2="486.4" stroke="#444" stroke-width="0.35"/>
<text class="tk ty" x="300.6" y="487.2">105.0</text>
<line x1="301.2" y1="503.5" x2="302.2" y2="503.5" stroke="#444" stroke-width="0.35"/>
<text class="tk ty" x="300.6" y="504.3">102.5</text>
<text class="tt" x="410.0" y="354.3">R248Q</text>
<text class="al" x="409.0" y="515.5">RG</text>
<text class="al" transform="translate(291.5 430.5) rotate(-90)">SASA</text>
<text class="pl" transform="translate(281.9 359.8) scale(0.84 1)">F</text>
<rect x="530.6" y="487.84" width="7.1" height="16.51" fill="#fbfed0"/>
<rect x="530.6" y="471.39" width="7.1" height="16.51" fill="#eaf7af"/>
<rect x="530.6" y="454.93" width="7.1" height="16.51" fill="#c9e99c"/>
<rect x="530.6" y="438.48" width="7.1" height="16.51" fill="#a1d889"/>
<rect x="530.6" y="422.02" width="7.1" height="16.51" fill="#75c578"/>
<rect x="530.6" y="405.57" width="7.1" height="16.51" fill="#45ad5f"/>
<rect x="530.6" y="389.11" width="7.1" height="16.51" fill="#268846"/>
<rect x="530.6" y="372.66" width="7.1" height="16.51" fill="#086e3a"/>
<rect x="530.6" y="356.20" width="7.1" height="16.51" fill="#00522e"/>
<rect x="530.6" y="356.2" width="7.1" height="148.1" fill="none" stroke="#666" stroke-width="0.4"/>
<line x1="537.7" y1="504.30" x2="538.7" y2="504.30" stroke="#444" stroke-width="0.35"/>
<text class="tk" x="539.5" y="505.10">0.454</text>
<line x1="537.7" y1="487.84" x2="538.7" y2="487.84" stroke="#444" stroke-width="0.35"/>
<text class="tk" x="539.5" y="488.64">1.276</text>
<line x1="537.7" y1="471.39" x2="538.7" y2="471.39" stroke="#444" stroke-width="0.35"/>
<text class="tk" x="539.5" y="472.19">2.022</text>
<line x1="537.7" y1="454.93" x2="538.7" y2="454.93" stroke="#444" stroke-width="0.35"/>
<text class="tk" x="539.5" y="455.73">2.758</text>
<line x1="537.7" y1="438.48" x2="538.7" y2="438.48" stroke="#444" stroke-width="0.35"/>
<text class="tk" x="539.5" y="439.28">3.478</text>
<line x1="537.7" y1="422.02" x2="538.7" y2="422.02" stroke="#444" stroke-width="0.35"/>
<text class="tk" x="539.5" y="422.82">4.097</text>
<line x1="537.7" y1="405.57" x2="538.7" y2="405.57" stroke="#444" stroke-width="0.35"/>
<text class="tk" x="539.5" y="406.37">4.933</text>
<line x1="537.7" y1="389.11" x2="538.7" y2="389.11" stroke="#444" stroke-width="0.35"/>
<text class="tk" x="539.5" y="389.91">5.690</text>
<line x1="537.7" y1="372.66" x2="538.7" y2="372.66" stroke="#444" stroke-width="0.35"/>
<text class="tk" x="539.5" y="373.46">6.390</text>
<line x1="537.7" y1="356.20" x2="538.7" y2="356.20" stroke="#444" stroke-width="0.35"/>
<text class="tk" x="539.5" y="357.00">7.054</text>
</g>
</svg></body></html>
